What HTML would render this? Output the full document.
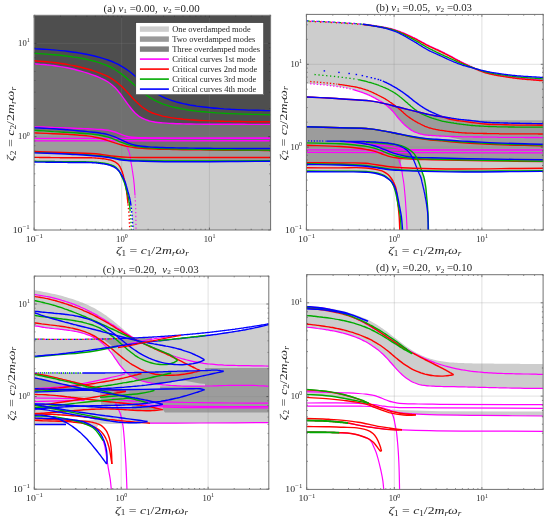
<!DOCTYPE html><html><head><meta charset="utf-8"><title>Critical damping curves</title>
<style>html,body{margin:0;padding:0;background:#fff}svg{display:block}text{font-family:'Liberation Serif','DejaVu Serif',serif;fill:#262626}</style></head><body>
<svg width="550" height="522" viewBox="0 0 550 522">
<rect width="550" height="522" fill="#fff"/>
<clipPath id="cpa"><rect x="34.1" y="15.3" width="236.5" height="214.7"/></clipPath>
<g clip-path="url(#cpa)">
<rect x="34.1" y="15.3" width="236.50000000000003" height="214.7" fill="#4e4e4e"/>
<path d="M33.1 63.7C35.4 63.8 37.6 64 39.9 64.2C42.2 64.3 44.5 64.5 46.7 64.8C49 65 51.3 65.3 53.5 65.5C55.8 65.8 58.1 66.2 60.4 66.6C62.6 66.9 64.9 67.3 67.2 67.8C69.5 68.3 71.7 68.8 74 69.3C76.3 69.9 78.5 70.5 80.8 71.1C83.1 71.7 85.4 72.4 87.6 73.1C89.9 73.9 92.2 74.6 94.4 75.5C96.7 76.3 99 77.2 101.2 78.3C103.6 79.4 105.9 80.6 108.1 82C110.5 83.6 112.8 85.5 114.9 87.5C117.4 89.9 119.5 92.8 121.7 95.6C124.1 98.7 126.1 102.1 128.5 105.1C130.7 107.9 132.7 110.8 135.3 113.2C137.4 115.1 139.6 116.9 142.1 118.2C144.3 119.3 146.6 120.2 148.9 120.8C151.2 121.5 153.5 121.8 155.8 122.2C158 122.6 160.3 122.7 162.6 122.9C164.8 123.1 167.1 123.3 169.4 123.4C171.7 123.5 173.9 123.6 176.2 123.7C178.5 123.8 180.7 123.8 183 123.9C185.3 123.9 187.6 124 189.8 124C192.1 124.1 194.4 124.1 196.6 124.1C198.9 124.1 201.2 124.2 203.5 124.2C205.7 124.2 208 124.2 210.3 124.2C212.5 124.2 214.8 124.3 217.1 124.3C219.4 124.3 221.6 124.3 223.9 124.3C226.2 124.3 228.4 124.3 230.7 124.3C233 124.3 235.3 124.3 237.5 124.3C239.8 124.3 242.1 124.3 244.3 124.3C246.6 124.3 248.9 124.4 251.2 124.4C253.4 124.4 255.7 124.4 258 124.4C260.2 124.4 262.5 124.4 264.8 124.4C267.1 124.4 269.3 124.4 271.6 124.4L271.6 231L33.1 231Z" fill="#707070" />
<path d="M33.1 130.3C35.4 130.4 37.6 130.6 39.9 130.7C42.2 130.8 44.5 131 46.7 131.1C49 131.3 51.3 131.4 53.5 131.6C55.8 131.7 58.1 131.8 60.4 132C62.6 132.1 64.9 132.3 67.2 132.4C69.4 132.6 71.7 132.7 74 132.8C76.3 133 78.5 133.1 80.8 133.3C83.1 133.5 85.3 133.6 87.6 133.8C89.9 134 92.2 134.2 94.4 134.5C96.7 134.8 99 135.1 101.2 135.5C103.5 136 105.8 136.5 108.1 137.2C110.4 137.9 112.6 138.7 114.9 139.6C117.2 140.5 119.4 141.6 121.7 142.4C123.9 143.3 126.2 144.2 128.5 144.8C130.7 145.5 133 146 135.3 146.4C137.6 146.8 139.8 147.1 142.1 147.3C144.4 147.6 146.7 147.7 148.9 147.9C151.2 148 153.5 148.1 155.8 148.2C158 148.3 160.3 148.4 162.6 148.5C164.8 148.6 167.1 148.6 169.4 148.7C171.7 148.8 173.9 148.8 176.2 148.9C178.5 149 180.7 149 183 149.1C185.3 149.1 187.6 149.2 189.8 149.2C192.1 149.3 194.4 149.3 196.6 149.3C198.9 149.4 201.2 149.4 203.5 149.5C205.7 149.5 208 149.5 210.3 149.6C212.5 149.6 214.8 149.6 217.1 149.7C219.4 149.7 221.6 149.7 223.9 149.8C226.2 149.8 228.4 149.8 230.7 149.8C233 149.9 235.3 149.9 237.5 149.9C239.8 149.9 242.1 150 244.3 150C246.6 150 248.9 150 251.2 150C253.4 150.1 255.7 150.1 258 150.1C260.2 150.1 262.5 150.1 264.8 150.1C267.1 150.2 269.3 150.2 271.6 150.2L271.6 231L33.1 231Z" fill="#9c9c9c" />
<path d="M33.1 152.8C45.4 153.3 57.7 153.5 70 154.2C80 154.8 90 155.2 100 156.4C104.8 157 109.7 157.6 114.5 158.5C116.9 159 119.3 159.6 121.8 160C124.2 160.4 126.7 160.5 129.1 160.7C133.9 161.1 138.8 161 143.6 161.2C186.2 162.5 228.9 161.3 271.6 161.3L271.6 231L33.1 231Z" fill="#cdcdcd" />
<path d="M33.1 162C45.4 162.2 57.7 162.2 70 162.5C80 162.7 90.1 162 100 163.4C102.4 163.7 104.9 164 107.3 164.6C109.8 165.3 112.3 166 114.5 167.3C116.1 168.3 117.6 169.5 118.9 170.9C120.1 172.2 120.9 173.8 121.8 175.3C122.9 177.2 123.9 179.1 124.7 181.1C125.9 183.9 126.6 186.9 127.4 189.8C128.4 193.2 129.4 196.6 130.1 200C131.1 204.9 131.5 210 132 215C132.5 220.3 132.8 225.7 133.2 231L33.1 231Z" fill="#fff" />
<line x1="121.7" y1="15.3" x2="121.7" y2="230" stroke="#808080" stroke-opacity="0.3" stroke-width="0.8"/>
<line x1="34.1" y1="136.7" x2="270.6" y2="136.7" stroke="#808080" stroke-opacity="0.3" stroke-width="0.8"/>
<line x1="209.4" y1="15.3" x2="209.4" y2="230" stroke="#808080" stroke-opacity="0.3" stroke-width="0.8"/>
<line x1="34.1" y1="43.4" x2="270.6" y2="43.4" stroke="#808080" stroke-opacity="0.3" stroke-width="0.8"/>
<path d="M126.9 146.9L127.2 147.6L127.5 148.3L127.9 149.1L128.2 149.8L128.5 150.5L128.8 151.2L129.1 152L129.3 152.7L129.5 153.5L129.7 154.2L129.8 154.9L129.9 155.7L130.1 156.4L130.2 157.1L130.3 157.8L130.4 158.6L130.5 159.3L130.6 160L130.8 160.8L130.9 161.5L131 162.2L131.1 162.9L131.2 163.6L131.4 164.4L131.5 165.1L131.6 165.8L131.8 166.6L131.9 167.3L132 168L132.1 168.7L132.2 169.5L132.3 170.2L132.4 170.9L132.6 171.6L132.7 172.4L132.8 173.1L132.9 173.8L133 174.6L133.1 175.3L133.2 176L133.3 176.7L133.4 177.5L133.5 178.2L133.6 178.9L133.7 179.7L133.8 180.4L133.8 181.1L133.9 181.8L134 182.6L134.1 183.3L134.1 184L134.2 184.7L134.3 185.4L134.3 186.2L134.4 186.9L134.4 187.6L134.5 188.3L134.5 189.1L134.6 189.8L134.7 190.5L134.7 191.3L134.8 192L134.8 192.7L134.9 193.4L134.9 194.2L135 194.9L135 195.6" fill="none" stroke="#ff00ff" stroke-width="1.1"/>
<path d="M135.1 196.4L135.1 197.1L135.2 197.8L135.2 198.5L135.3 199.3L135.3 200L135.3 200.7L135.4 201.4L135.4 202.1L135.4 202.8L135.5 203.5L135.5 204.2L135.5 204.9L135.6 205.6L135.6 206.3L135.6 207L135.6 207.7L135.7 208.4L135.7 209.2L135.7 209.9L135.7 210.6L135.7 211.3L135.7 212L135.8 212.7L135.8 213.4L135.8 214.1L135.8 214.8L135.8 215.5L135.8 216.2L135.8 216.9L135.8 217.6L135.9 218.3L135.9 219L135.9 219.7L135.9 220.4L135.9 221.1L135.9 221.8L135.9 222.6L135.9 223.3L135.9 224L136 224.7L136 225.4L136 226.1L136 226.8L136 227.5L136 228.2L136 228.9L136.1 229.6L136.1 230.3L136.1 231" fill="none" stroke="#ff00ff" stroke-width="1.1" stroke-dasharray="1.3 2.6"/>
<path d="M33.1 157.4L33.8 157.4L34.5 157.4L35.2 157.4L35.9 157.4L36.6 157.4L37.4 157.4L38.1 157.4L38.8 157.4L39.5 157.5L40.2 157.5L40.9 157.5L41.6 157.5L42.3 157.5L43 157.5L43.7 157.5L44.5 157.5L45.2 157.5L45.9 157.5L46.6 157.5L47.3 157.5L48 157.5L48.7 157.5L49.4 157.5L50.1 157.5L50.8 157.6L51.5 157.6L52.3 157.6L53 157.6L53.7 157.6L54.4 157.6L55.1 157.6L55.8 157.6L56.5 157.6L57.2 157.6L57.9 157.6L58.6 157.6L59.4 157.6L60.1 157.7L60.8 157.7L61.5 157.7L62.2 157.7L62.9 157.7L63.6 157.7L64.3 157.7L65 157.7L65.7 157.7L66.5 157.7L67.2 157.8L67.9 157.8L68.6 157.8L69.3 157.8L70 157.8L70.7 157.8L71.4 157.8L72.1 157.8L72.9 157.8L73.6 157.8L74.3 157.8L75 157.8L75.7 157.8L76.4 157.8L77.2 157.8L77.9 157.8L78.6 157.8L79.3 157.8L80 157.8L80.7 157.8L81.5 157.8L82.2 157.8L82.9 157.8L83.6 157.8L84.3 157.8L85 157.8L85.8 157.8L86.5 157.8L87.2 157.8L87.9 157.8L88.6 157.8L89.3 157.8L90 157.8L90.8 157.8L91.5 157.8L92.2 157.9L92.9 157.9L93.6 157.9L94.3 157.9L95 158L95.7 158L96.5 158.1L97.2 158.1L97.9 158.2L98.6 158.3L99.3 158.3L100 158.4L100.7 158.5L101.5 158.6L102.2 158.7L102.9 158.7L103.7 158.8L104.4 158.9L105.1 159L105.8 159.1L106.6 159.3L107.3 159.4L108 159.6L108.8 159.7L109.5 159.9L110.3 160L111 160.2L111.7 160.5L112.4 160.7L113.1 161L113.8 161.3L114.5 161.6L115.1 162L115.7 162.3L116.3 162.7L116.8 163.2L117.4 163.6L117.9 164.1L118.4 164.6L118.9 165.1L119.3 165.7L119.7 166.3L120.1 166.9L120.4 167.6L120.7 168.2L121 168.9L121.3 169.6L121.5 170.2L121.8 170.9L122.1 171.6L122.4 172.3L122.6 173.1L122.8 173.8L123.1 174.5L123.3 175.2L123.4 176L123.6 176.7L123.8 177.5L124 178.2L124.2 178.9L124.4 179.7L124.6 180.4L124.7 181.2L124.9 181.9L125.1 182.7L125.2 183.5L125.4 184.2L125.5 185L125.6 185.7L125.8 186.4L125.9 187.1L126 187.9L126.1 188.6L126.2 189.3L126.4 190L126.5 190.7L126.6 191.4L126.7 192.1L126.7 192.9L126.8 193.6L126.9 194.3L127 195L127.1 195.7L127.2 196.4L127.3 197.1L127.3 197.9L127.4 198.6L127.5 199.3L127.6 200L127.7 200.7L127.8 201.4L127.8 202.1L127.9 202.9L128 203.6" fill="none" stroke="#ff0000" stroke-width="1.4"/>
<path d="M128.1 204.3L128.1 205L128.2 205.7L128.3 206.4L128.3 207.1L128.4 207.9L128.5 208.6L128.5 209.3L128.6 210L128.7 210.7L128.7 211.4L128.8 212.1L128.8 212.9L128.9 213.6L128.9 214.3L129 215L129.1 215.7L129.1 216.4L129.1 217.2L129.2 217.9L129.2 218.6L129.3 219.4L129.3 220.1L129.3 220.8L129.4 221.5L129.4 222.3L129.4 223L129.5 223.7L129.5 224.5L129.5 225.2L129.6 225.9L129.6 226.6L129.6 227.4L129.7 228.1L129.7 228.8L129.7 229.6L129.8 230.3L129.8 231" fill="none" stroke="#ff0000" stroke-width="1.4" stroke-dasharray="1.4 2.2"/>
<path d="M33.1 161.3L33.8 161.3L34.5 161.3L35.2 161.3L35.9 161.3L36.6 161.4L37.4 161.4L38.1 161.4L38.8 161.4L39.5 161.4L40.2 161.4L40.9 161.4L41.6 161.4L42.3 161.4L43 161.4L43.7 161.4L44.5 161.4L45.2 161.4L45.9 161.5L46.6 161.5L47.3 161.5L48 161.5L48.7 161.5L49.4 161.5L50.1 161.5L50.8 161.5L51.5 161.5L52.3 161.5L53 161.5L53.7 161.5L54.4 161.5L55.1 161.6L55.8 161.6L56.5 161.6L57.2 161.6L57.9 161.6L58.6 161.6L59.4 161.6L60.1 161.6L60.8 161.6L61.5 161.6L62.2 161.6L62.9 161.7L63.6 161.7L64.3 161.7L65 161.7L65.7 161.7L66.5 161.7L67.2 161.7L67.9 161.8L68.6 161.8L69.3 161.8L70 161.8L70.7 161.8L71.4 161.8L72.1 161.8L72.9 161.8L73.6 161.8L74.3 161.8L75 161.8L75.7 161.8L76.4 161.8L77.2 161.8L77.9 161.8L78.6 161.8L79.3 161.8L80 161.8L80.7 161.8L81.5 161.8L82.2 161.8L82.9 161.8L83.6 161.8L84.3 161.8L85 161.8L85.8 161.8L86.5 161.9L87.2 161.9L87.9 161.9L88.6 161.9L89.3 161.9L90 161.9L90.8 162L91.5 162L92.2 162L92.9 162.1L93.6 162.1L94.3 162.1L95 162.2L95.7 162.3L96.5 162.3L97.2 162.4L97.9 162.4L98.6 162.5L99.3 162.6L100 162.7L100.7 162.8L101.5 162.9L102.2 163L102.9 163L103.7 163.1L104.4 163.2L105.1 163.4L105.8 163.5L106.6 163.6L107.3 163.8L108.1 164L108.8 164.2L109.6 164.4L110.3 164.6L111.1 164.8L111.8 165.1L112.5 165.3L113.2 165.6L113.9 166L114.5 166.4L115.1 166.9L115.8 167.3L116.4 167.9L116.9 168.5L117.5 169L118 169.7L118.5 170.3L118.9 170.9L119.3 171.5L119.6 172.1L120 172.7L120.3 173.4L120.6 174L120.9 174.7L121.2 175.3L121.5 175.9L121.8 176.6L122.1 177.2L122.4 177.8L122.7 178.5L123 179.1L123.3 179.8L123.5 180.4L123.8 181.1L124.1 181.8L124.3 182.5L124.6 183.2L124.8 184L125 184.7L125.2 185.4L125.4 186.1L125.6 186.9L125.8 187.6L126 188.3L126.2 189.1L126.4 189.8L126.6 190.5L126.8 191.3L127 192L127.2 192.7L127.4 193.4L127.5 194.2L127.7 194.9L127.9 195.6L128.1 196.4L128.2 197.1L128.4 197.8L128.5 198.5L128.7 199.3L128.8 200L128.9 200.7L129 201.4L129.2 202.1L129.3 202.8L129.4 203.5L129.5 204.2L129.6 205L129.6 205.7L129.7 206.4L129.8 207.1L129.9 207.8L129.9 208.5L130 209.3L130.1 210L130.1 210.7L130.2 211.4" fill="none" stroke="#00aa00" stroke-width="1.4"/>
<path d="M130.3 212.1L130.3 212.9L130.4 213.6L130.4 214.3L130.5 215L130.6 215.7L130.6 216.4L130.7 217.2L130.7 217.9L130.8 218.6L130.8 219.4L130.9 220.1L130.9 220.8L131 221.5L131 222.3L131 223L131.1 223.7L131.1 224.5L131.1 225.2L131.2 225.9L131.2 226.6L131.2 227.4L131.3 228.1L131.3 228.8L131.3 229.6L131.4 230.3L131.4 231" fill="none" stroke="#00aa00" stroke-width="1.4" stroke-dasharray="1.4 2.2" stroke-dashoffset="1.2"/>
<path d="M33.1 162L33.8 162L34.5 162L35.2 162L35.9 162L36.6 162.1L37.4 162.1L38.1 162.1L38.8 162.1L39.5 162.1L40.2 162.1L40.9 162.1L41.6 162.1L42.3 162.1L43 162.1L43.7 162.1L44.5 162.1L45.2 162.1L45.9 162.2L46.6 162.2L47.3 162.2L48 162.2L48.7 162.2L49.4 162.2L50.1 162.2L50.8 162.2L51.5 162.2L52.3 162.2L53 162.2L53.7 162.2L54.4 162.2L55.1 162.3L55.8 162.3L56.5 162.3L57.2 162.3L57.9 162.3L58.6 162.3L59.4 162.3L60.1 162.3L60.8 162.3L61.5 162.3L62.2 162.3L62.9 162.4L63.6 162.4L64.3 162.4L65 162.4L65.7 162.4L66.5 162.4L67.2 162.4L67.9 162.5L68.6 162.5L69.3 162.5L70 162.5L70.7 162.5L71.4 162.5L72.1 162.5L72.9 162.5L73.6 162.5L74.3 162.5L75 162.5L75.7 162.5L76.4 162.5L77.2 162.5L77.9 162.5L78.6 162.5L79.3 162.5L80 162.5L80.7 162.5L81.5 162.5L82.2 162.5L82.9 162.5L83.6 162.5L84.3 162.5L85 162.5L85.8 162.5L86.5 162.5L87.2 162.5L87.9 162.5L88.6 162.5L89.3 162.6L90 162.6L90.8 162.6L91.5 162.6L92.2 162.7L92.9 162.7L93.6 162.8L94.3 162.8L95 162.9L95.7 162.9L96.5 163L97.2 163.1L97.9 163.1L98.6 163.2L99.3 163.3L100 163.4L100.7 163.5L101.5 163.6L102.2 163.7L102.9 163.8L103.7 163.9L104.4 164L105.1 164.1L105.8 164.3L106.6 164.4L107.3 164.6L108 164.8L108.8 165L109.5 165.2L110.3 165.5L111 165.7L111.7 166L112.4 166.3L113.1 166.6L113.8 166.9L114.5 167.3L115.1 167.7L115.7 168.1L116.3 168.5L116.8 169L117.4 169.4L117.9 169.9L118.4 170.4L118.9 170.9L119.4 171.5L119.8 172.1L120.3 172.7L120.7 173.3L121 174L121.4 174.7L121.8 175.3L122.2 175.9L122.5 176.6L122.9 177.2L123.2 177.8L123.5 178.5L123.8 179.1L124.1 179.8L124.4 180.4L124.7 181.1L125 181.7L125.2 182.4L125.5 183.1L125.7 183.7L125.9 184.4L126.1 185.1L126.3 185.8L126.5 186.4L126.7 187.1L126.9 187.8L127 188.5L127.2 189.1L127.4 189.8L127.6 190.5L127.8 191.2L128 191.8L128.2 192.5L128.4 193.2L128.6 193.9L128.8 194.6L129 195.2L129.1 195.9L129.3 196.6L129.5 197.3L129.6 198L129.8 198.6L130 199.3L130.1 200L130.2 200.7L130.4 201.4L130.5 202.1L130.6 202.8L130.7 203.5L130.8 204.2L130.9 205L131 205.7" fill="none" stroke="#0000ff" stroke-width="1.4"/>
<path d="M131.1 206.4L131.2 207.1L131.3 207.8L131.4 208.5L131.4 209.3L131.5 210L131.6 210.7L131.7 211.4L131.7 212.1L131.8 212.9L131.9 213.6L131.9 214.3L132 215L132.1 215.7L132.1 216.4L132.2 217.2L132.3 217.9L132.3 218.6L132.4 219.4L132.4 220.1L132.5 220.8L132.5 221.5L132.6 222.3L132.6 223L132.7 223.7L132.7 224.5L132.8 225.2L132.8 225.9L132.9 226.6L132.9 227.4L133 228.1L133 228.8L133.1 229.6L133.1 230.3L133.2 231" fill="none" stroke="#0000ff" stroke-width="1.4" stroke-dasharray="1.4 2.2" stroke-dashoffset="2.4"/>
<path d="M33.1 138.4L271.6 138.3" fill="none" stroke="#ff00ff" stroke-width="1.4" />
<path d="M33.1 140.9L271.6 140.7" fill="none" stroke="#ff00ff" stroke-width="1.4" />
<path d="M33.1 126.8C35.4 126.9 37.6 126.9 39.9 127C42.2 127 44.5 127.1 46.7 127.1C49 127.2 51.3 127.3 53.5 127.4C55.8 127.4 58.1 127.5 60.4 127.6C62.6 127.7 64.9 127.8 67.2 127.9C69.4 128 71.7 128.1 74 128.2C76.3 128.3 78.5 128.4 80.8 128.5C83.1 128.6 85.3 128.7 87.6 128.8C89.9 128.9 92.2 129 94.4 129.1C96.7 129.3 99 129.4 101.2 129.5C103.5 129.7 105.8 129.9 108.1 130.3C110.4 130.7 112.6 131.3 114.9 132C117.2 132.7 119.4 133.9 121.7 134.7C123.9 135.5 126.2 136.2 128.5 136.7C130.7 137.1 133 137.3 135.3 137.4C137.6 137.6 139.9 137.7 142.1 137.7C144.4 137.8 146.7 137.8 148.9 137.9C151.2 137.9 153.5 137.9 155.8 138C158 138 160.3 138 162.6 138C164.8 138.1 167.1 138.1 169.4 138.1C171.7 138.1 173.9 138.1 176.2 138.1C178.5 138.1 180.7 138.1 183 138.2C185.3 138.2 187.6 138.2 189.8 138.2C192.1 138.2 194.4 138.2 196.6 138.2C198.9 138.2 201.2 138.2 203.5 138.2C205.7 138.2 208 138.2 210.3 138.2C212.5 138.2 214.8 138.2 217.1 138.2C219.4 138.2 221.6 138.2 223.9 138.2C226.2 138.3 228.4 138.3 230.7 138.3C233 138.3 235.3 138.3 237.5 138.3C239.8 138.3 242.1 138.3 244.3 138.3C246.6 138.3 248.9 138.3 251.2 138.3C253.4 138.3 255.7 138.3 258 138.3C260.2 138.3 262.5 138.3 264.8 138.3C267.1 138.3 269.3 138.3 271.6 138.3" fill="none" stroke="#ff00ff" stroke-width="1.4" />
<path d="M33.1 132.8C35.4 132.9 37.6 133 39.9 133.1C42.2 133.2 44.5 133.3 46.7 133.4C49 133.5 51.3 133.6 53.5 133.7C55.8 133.8 58.1 133.9 60.4 134C62.6 134.1 64.9 134.2 67.2 134.3C69.4 134.5 71.7 134.6 74 134.7C76.3 134.9 78.5 135 80.8 135.2C83.1 135.4 85.3 135.6 87.6 135.9C89.9 136.2 92.2 136.5 94.4 137C96.7 137.4 99 137.9 101.2 138.5C103.5 139.1 105.8 139.8 108.1 140.6C110.3 141.3 112.6 142.1 114.9 142.9C117.1 143.6 119.4 144.4 121.7 145C123.9 145.6 126.2 146.2 128.5 146.6C130.8 147.1 133 147.4 135.3 147.7C137.6 148 139.9 148.2 142.1 148.4C144.4 148.6 146.7 148.7 148.9 148.8C151.2 148.9 153.5 149 155.8 149.1C158 149.2 160.3 149.2 162.6 149.3C164.8 149.3 167.1 149.4 169.4 149.4C171.7 149.5 173.9 149.5 176.2 149.6C178.5 149.6 180.7 149.6 183 149.7C185.3 149.7 187.6 149.7 189.8 149.8C192.1 149.8 194.4 149.8 196.6 149.9C198.9 149.9 201.2 149.9 203.5 149.9C205.7 150 208 150 210.3 150C212.5 150 214.8 150.1 217.1 150.1C219.4 150.1 221.6 150.1 223.9 150.2C226.2 150.2 228.4 150.2 230.7 150.2C233 150.2 235.3 150.3 237.5 150.3C239.8 150.3 242.1 150.3 244.3 150.3C246.6 150.4 248.9 150.4 251.2 150.4C253.4 150.4 255.7 150.4 258 150.4C260.2 150.5 262.5 150.5 264.8 150.5C267.1 150.5 269.3 150.5 271.6 150.5" fill="none" stroke="#ff0000" stroke-width="1.4" />
<path d="M33.1 130.3C35.4 130.4 37.6 130.6 39.9 130.7C42.2 130.8 44.5 131 46.7 131.1C49 131.3 51.3 131.4 53.5 131.6C55.8 131.7 58.1 131.8 60.4 132C62.6 132.1 64.9 132.3 67.2 132.4C69.4 132.6 71.7 132.7 74 132.8C76.3 133 78.5 133.1 80.8 133.3C83.1 133.5 85.3 133.6 87.6 133.8C89.9 134 92.2 134.2 94.4 134.5C96.7 134.8 99 135.1 101.2 135.5C103.5 136 105.8 136.5 108.1 137.2C110.4 137.9 112.6 138.7 114.9 139.6C117.2 140.5 119.4 141.6 121.7 142.4C123.9 143.3 126.2 144.2 128.5 144.8C130.7 145.5 133 146 135.3 146.4C137.6 146.8 139.8 147.1 142.1 147.3C144.4 147.6 146.7 147.7 148.9 147.9C151.2 148 153.5 148.1 155.8 148.2C158 148.3 160.3 148.4 162.6 148.5C164.8 148.6 167.1 148.6 169.4 148.7C171.7 148.8 173.9 148.8 176.2 148.9C178.5 149 180.7 149 183 149.1C185.3 149.1 187.6 149.2 189.8 149.2C192.1 149.3 194.4 149.3 196.6 149.3C198.9 149.4 201.2 149.4 203.5 149.5C205.7 149.5 208 149.5 210.3 149.6C212.5 149.6 214.8 149.6 217.1 149.7C219.4 149.7 221.6 149.7 223.9 149.8C226.2 149.8 228.4 149.8 230.7 149.8C233 149.9 235.3 149.9 237.5 149.9C239.8 149.9 242.1 150 244.3 150C246.6 150 248.9 150 251.2 150C253.4 150.1 255.7 150.1 258 150.1C260.2 150.1 262.5 150.1 264.8 150.1C267.1 150.2 269.3 150.2 271.6 150.2" fill="none" stroke="#00aa00" stroke-width="1.4" />
<path d="M33.1 127.7C35.4 127.8 37.6 127.9 39.9 128C42.2 128.1 44.5 128.3 46.7 128.4C49 128.5 51.3 128.7 53.5 128.8C55.8 129 58.1 129.1 60.4 129.3C62.6 129.5 64.9 129.6 67.2 129.8C69.4 130 71.7 130.2 74 130.4C76.3 130.6 78.5 130.8 80.8 131C83.1 131.2 85.3 131.4 87.6 131.6C89.9 131.8 92.2 132.1 94.4 132.3C96.7 132.6 99 132.9 101.2 133.3C103.5 133.6 105.8 134 108.1 134.6C110.4 135.2 112.6 136 114.9 136.9C117.2 137.8 119.4 139 121.7 140.1C124 141.1 126.2 142.3 128.5 143.2C130.7 144 133 144.7 135.3 145.2C137.6 145.7 139.8 146 142.1 146.3C144.4 146.6 146.7 146.8 148.9 146.9C151.2 147.1 153.5 147.2 155.8 147.3C158 147.4 160.3 147.5 162.6 147.5C164.8 147.6 167.1 147.7 169.4 147.7C171.7 147.8 173.9 147.8 176.2 147.9C178.5 147.9 180.7 148 183 148C185.3 148 187.6 148.1 189.8 148.1C192.1 148.1 194.4 148.2 196.6 148.2C198.9 148.2 201.2 148.2 203.5 148.3C205.7 148.3 208 148.3 210.3 148.3C212.5 148.3 214.8 148.4 217.1 148.4C219.4 148.4 221.6 148.4 223.9 148.4C226.2 148.4 228.4 148.4 230.7 148.4C233 148.4 235.3 148.4 237.5 148.5C239.8 148.5 242.1 148.5 244.3 148.5C246.6 148.5 248.9 148.5 251.2 148.5C253.4 148.5 255.7 148.5 258 148.5C260.2 148.5 262.5 148.5 264.8 148.5C267.1 148.5 269.3 148.5 271.6 148.5" fill="none" stroke="#0000ff" stroke-width="1.4" />
<path d="M33.1 152.1C45.4 152.6 57.7 152.8 70 153.5C80 154.1 90 154.5 100 155.7C104.8 156.3 109.7 156.9 114.5 157.8C116.9 158.3 119.3 158.9 121.8 159.3C124.2 159.7 126.7 159.8 129.1 160C133.9 160.4 138.8 160.3 143.6 160.5C186.2 161.8 228.9 160.6 271.6 160.6" fill="none" stroke="#00aa00" stroke-width="1.4" />
<path d="M33.1 151.5C45.4 151.9 57.7 152.2 70 152.7C80 153.1 90.1 153.1 100 154.2C104.9 154.8 109.6 155.8 114.5 156.3C119.4 156.8 124.2 157.2 129.1 157.4C136.1 157.7 143 157.5 150 157.5C190.5 157.7 231.1 157.5 271.6 157.5" fill="none" stroke="#ff0000" stroke-width="1.4" />
<path d="M33.1 152.8C45.4 153.3 57.7 153.5 70 154.2C80 154.8 90 155.2 100 156.4C104.8 157 109.7 157.6 114.5 158.5C116.9 159 119.3 159.6 121.8 160C124.2 160.4 126.7 160.5 129.1 160.7C133.9 161.1 138.8 161 143.6 161.2C186.2 162.5 228.9 161.3 271.6 161.3" fill="none" stroke="#0000ff" stroke-width="1.4" />
<path d="M33.1 63.7C35.4 63.8 37.6 64 39.9 64.2C42.2 64.3 44.5 64.5 46.7 64.8C49 65 51.3 65.3 53.5 65.5C55.8 65.8 58.1 66.2 60.4 66.6C62.6 66.9 64.9 67.3 67.2 67.8C69.5 68.3 71.7 68.8 74 69.3C76.3 69.9 78.5 70.5 80.8 71.1C83.1 71.7 85.4 72.4 87.6 73.1C89.9 73.9 92.2 74.6 94.4 75.5C96.7 76.3 99 77.2 101.2 78.3C103.6 79.4 105.9 80.6 108.1 82C110.5 83.6 112.8 85.5 114.9 87.5C117.4 89.9 119.5 92.8 121.7 95.6C124.1 98.7 126.1 102.1 128.5 105.1C130.7 107.9 132.7 110.8 135.3 113.2C137.4 115.1 139.6 116.9 142.1 118.2C144.3 119.3 146.6 120.2 148.9 120.8C151.2 121.5 153.5 121.8 155.8 122.2C158 122.6 160.3 122.7 162.6 122.9C164.8 123.1 167.1 123.3 169.4 123.4C171.7 123.5 173.9 123.6 176.2 123.7C178.5 123.8 180.7 123.8 183 123.9C185.3 123.9 187.6 124 189.8 124C192.1 124.1 194.4 124.1 196.6 124.1C198.9 124.1 201.2 124.2 203.5 124.2C205.7 124.2 208 124.2 210.3 124.2C212.5 124.2 214.8 124.3 217.1 124.3C219.4 124.3 221.6 124.3 223.9 124.3C226.2 124.3 228.4 124.3 230.7 124.3C233 124.3 235.3 124.3 237.5 124.3C239.8 124.3 242.1 124.3 244.3 124.3C246.6 124.3 248.9 124.4 251.2 124.4C253.4 124.4 255.7 124.4 258 124.4C260.2 124.4 262.5 124.4 264.8 124.4C267.1 124.4 269.3 124.4 271.6 124.4" fill="none" stroke="#ff00ff" stroke-width="1.4" />
<path d="M33.1 60.7C35.4 60.9 37.6 61 39.9 61.2C42.2 61.4 44.5 61.6 46.7 61.8C49 62 51.3 62.2 53.5 62.5C55.8 62.8 58.1 63 60.4 63.4C62.6 63.7 64.9 64 67.2 64.4C69.4 64.8 71.7 65.2 74 65.7C76.3 66.2 78.5 66.7 80.8 67.2C83.1 67.8 85.4 68.4 87.6 69C89.9 69.6 92.2 70.3 94.4 71.1C96.7 71.9 99 72.7 101.2 73.6C103.6 74.5 105.8 75.6 108.1 76.7C110.4 78 112.7 79.3 114.9 80.9C117.3 82.5 119.5 84.5 121.7 86.5C124.1 88.7 126.3 91.1 128.5 93.5C130.8 95.9 132.9 98.5 135.3 100.8C137.5 103 139.7 105.1 142.1 107C144.3 108.6 146.6 110.1 148.9 111.3C151.1 112.4 153.4 113.4 155.8 114.2C158 114.9 160.3 115.5 162.6 116.1C164.8 116.6 167.1 117 169.4 117.4C171.6 117.8 173.9 118.1 176.2 118.4C178.5 118.7 180.7 118.9 183 119.2C185.3 119.4 187.6 119.6 189.8 119.8C192.1 119.9 194.4 120.1 196.6 120.2C198.9 120.4 201.2 120.5 203.5 120.6C205.7 120.7 208 120.8 210.3 120.9C212.5 120.9 214.8 121 217.1 121.1C219.4 121.2 221.6 121.2 223.9 121.3C226.2 121.3 228.4 121.4 230.7 121.4C233 121.4 235.3 121.5 237.5 121.5C239.8 121.5 242.1 121.6 244.3 121.6C246.6 121.6 248.9 121.6 251.2 121.7C253.4 121.7 255.7 121.7 258 121.7C260.2 121.7 262.5 121.7 264.8 121.8C267.1 121.8 269.3 121.8 271.6 121.8" fill="none" stroke="#ff0000" stroke-width="1.4" />
<path d="M33.1 53.3C35.4 53.4 37.6 53.5 39.9 53.6C42.2 53.8 44.5 53.9 46.7 54.1C49 54.3 51.3 54.5 53.5 54.7C55.8 54.9 58.1 55.1 60.4 55.3C62.6 55.6 64.9 55.8 67.2 56.1C69.4 56.4 71.7 56.7 74 57.1C76.3 57.4 78.5 57.8 80.8 58.2C83.1 58.6 85.4 59.1 87.6 59.6C89.9 60.1 92.2 60.6 94.4 61.2C96.7 61.9 99 62.5 101.2 63.3C103.5 64.1 105.8 65 108.1 66C110.4 67 112.7 68.2 114.9 69.5C117.2 70.9 119.5 72.4 121.7 74.1C124 75.8 126.3 77.7 128.5 79.7C130.8 81.7 133 83.8 135.3 85.8C137.6 87.9 139.8 89.9 142.1 91.8C144.3 93.6 146.6 95.4 148.9 96.9C151.1 98.4 153.4 99.7 155.8 100.9C158 102 160.3 103 162.6 103.9C164.8 104.7 167.1 105.4 169.4 106.1C171.6 106.7 173.9 107.3 176.2 107.8C178.5 108.3 180.7 108.7 183 109.1C185.3 109.5 187.6 109.9 189.8 110.2C192.1 110.5 194.4 110.8 196.6 111.1C198.9 111.3 201.2 111.6 203.5 111.8C205.7 112 208 112.2 210.3 112.4C212.5 112.6 214.8 112.7 217.1 112.9C219.4 113 221.6 113.1 223.9 113.3C226.2 113.4 228.4 113.5 230.7 113.6C233 113.7 235.3 113.8 237.5 113.9C239.8 114 242.1 114 244.3 114.1C246.6 114.2 248.9 114.2 251.2 114.3C253.4 114.3 255.7 114.4 258 114.4C260.2 114.5 262.5 114.5 264.8 114.6C267.1 114.6 269.3 114.6 271.6 114.7" fill="none" stroke="#00aa00" stroke-width="1.4" />
<path d="M33.1 48.6C35.4 48.8 37.6 48.9 39.9 49C42.2 49.1 44.5 49.3 46.7 49.4C49 49.6 51.3 49.7 53.5 49.9C55.8 50.1 58.1 50.3 60.4 50.6C62.6 50.8 64.9 51 67.2 51.3C69.4 51.6 71.7 51.9 74 52.2C76.3 52.5 78.5 52.9 80.8 53.3C83.1 53.7 85.4 54.1 87.6 54.5C89.9 55 92.2 55.5 94.4 56C96.7 56.6 99 57.2 101.2 57.8C103.5 58.5 105.8 59.2 108.1 60C110.4 60.9 112.6 61.7 114.9 62.8C117.2 63.8 119.5 65 121.7 66.3C124 67.6 126.3 69.1 128.5 70.7C130.9 72.4 133.1 74.3 135.3 76.2C137.6 78.2 139.8 80.3 142.1 82.3C144.4 84.2 146.6 86.2 148.9 88.1C151.1 89.8 153.4 91.5 155.8 93C158 94.4 160.2 95.7 162.6 96.8C164.8 97.9 167.1 98.8 169.4 99.7C171.6 100.5 173.9 101.2 176.2 101.9C178.5 102.5 180.7 103.1 183 103.6C185.3 104.1 187.5 104.5 189.8 105C192.1 105.4 194.4 105.7 196.6 106.1C198.9 106.4 201.2 106.7 203.5 107C205.7 107.3 208 107.5 210.3 107.7C212.5 108 214.8 108.2 217.1 108.3C219.4 108.5 221.6 108.7 223.9 108.9C226.2 109 228.4 109.1 230.7 109.3C233 109.4 235.3 109.5 237.5 109.6C239.8 109.7 242.1 109.8 244.3 109.9C246.6 110 248.9 110.1 251.2 110.1C253.4 110.2 255.7 110.2 258 110.3C260.2 110.4 262.5 110.4 264.8 110.5C267.1 110.5 269.3 110.5 271.6 110.6" fill="none" stroke="#0000ff" stroke-width="1.4" />
</g>
<path d="M34.1 230v-2.4M34.1 15.3v2.4M34.1 230h2.4M270.6 230h-2.4M60.5 230v-1.2M60.5 15.3v1.2M34.1 201.9h1.2M270.6 201.9h-1.2M75.9 230v-1.2M75.9 15.3v1.2M34.1 185.5h1.2M270.6 185.5h-1.2M86.9 230v-1.2M86.9 15.3v1.2M34.1 173.8h1.2M270.6 173.8h-1.2M95.3 230v-1.2M95.3 15.3v1.2M34.1 164.8h1.2M270.6 164.8h-1.2M102.3 230v-1.2M102.3 15.3v1.2M34.1 157.4h1.2M270.6 157.4h-1.2M108.2 230v-1.2M108.2 15.3v1.2M34.1 151.1h1.2M270.6 151.1h-1.2M113.2 230v-1.2M113.2 15.3v1.2M34.1 145.7h1.2M270.6 145.7h-1.2M117.7 230v-1.2M117.7 15.3v1.2M34.1 141h1.2M270.6 141h-1.2M121.7 230v-2.4M121.7 15.3v2.4M34.1 136.7h2.4M270.6 136.7h-2.4M148.1 230v-1.2M148.1 15.3v1.2M34.1 108.6h1.2M270.6 108.6h-1.2M163.5 230v-1.2M163.5 15.3v1.2M34.1 92.2h1.2M270.6 92.2h-1.2M174.5 230v-1.2M174.5 15.3v1.2M34.1 80.5h1.2M270.6 80.5h-1.2M183 230v-1.2M183 15.3v1.2M34.1 71.5h1.2M270.6 71.5h-1.2M189.9 230v-1.2M189.9 15.3v1.2M34.1 64.1h1.2M270.6 64.1h-1.2M195.8 230v-1.2M195.8 15.3v1.2M34.1 57.8h1.2M270.6 57.8h-1.2M200.9 230v-1.2M200.9 15.3v1.2M34.1 52.4h1.2M270.6 52.4h-1.2M205.3 230v-1.2M205.3 15.3v1.2M34.1 47.7h1.2M270.6 47.7h-1.2M209.4 230v-2.4M209.4 15.3v2.4M34.1 43.4h2.4M270.6 43.4h-2.4M235.7 230v-1.2M235.7 15.3v1.2M34.1 15.3h1.2M270.6 15.3h-1.2M251.2 230v-1.2M251.2 15.3v1.2M262.1 230v-1.2M262.1 15.3v1.2M270.6 230v-1.2M270.6 15.3v1.2" stroke="#262626" stroke-width="0.6" fill="none"/>
<rect x="34.1" y="15.3" width="236.5" height="214.7" fill="none" stroke="#727272" stroke-width="1"/>
<text x="25.8" y="241.8" font-size="8.8" textLength="17.0" lengthAdjust="spacingAndGlyphs">10<tspan dy="-3.6" font-size="6.1">−1</tspan></text>
<text x="12.7" y="232.5" font-size="8.8" textLength="17.0" lengthAdjust="spacingAndGlyphs">10<tspan dy="-3.6" font-size="6.1">−1</tspan></text>
<text x="116.1" y="241.8" font-size="8.8" textLength="11.6" lengthAdjust="spacingAndGlyphs">10<tspan dy="-3.6" font-size="6.1">0</tspan></text>
<text x="18.1" y="139.2" font-size="8.8" textLength="11.6" lengthAdjust="spacingAndGlyphs">10<tspan dy="-3.6" font-size="6.1">0</tspan></text>
<text x="203.8" y="241.8" font-size="8.8" textLength="11.6" lengthAdjust="spacingAndGlyphs">10<tspan dy="-3.6" font-size="6.1">1</tspan></text>
<text x="18.1" y="45.9" font-size="8.8" textLength="11.6" lengthAdjust="spacingAndGlyphs">10<tspan dy="-3.6" font-size="6.1">1</tspan></text>
<text x="151.6" y="11.7" font-size="9.3" text-anchor="middle" textLength="96" lengthAdjust="spacingAndGlyphs" xml:space="preserve">(a) <tspan font-style="italic">ν</tspan><tspan dy="1.6" font-size="6.2">1</tspan><tspan dy="-1.6"> =0.00,  </tspan><tspan font-style="italic">ν</tspan><tspan dy="1.6" font-size="6.2">2</tspan><tspan dy="-1.6"> =0.00</tspan></text>
<text x="152.4" y="254.3" font-size="10.8" text-anchor="middle" textLength="73" lengthAdjust="spacingAndGlyphs"><tspan font-style="italic">ζ</tspan><tspan dy="1.8" font-size="7.2">1</tspan><tspan dy="-1.8"> = </tspan><tspan font-style="italic">c</tspan><tspan dy="1.8" font-size="7.2">1</tspan><tspan dy="-1.8">/2</tspan><tspan font-style="italic">m</tspan><tspan dy="1.8" font-size="7.2" font-style="italic">r</tspan><tspan dy="-1.8" font-style="italic">ω</tspan><tspan dy="1.8" font-size="7.2" font-style="italic">r</tspan></text>
<text transform="translate(14.3 123.9) rotate(-90)" font-size="10.8" text-anchor="middle" textLength="74" lengthAdjust="spacingAndGlyphs"><tspan font-style="italic">ζ</tspan><tspan dy="1.8" font-size="7.2">2</tspan><tspan dy="-1.8"> = </tspan><tspan font-style="italic">c</tspan><tspan dy="1.8" font-size="7.2">2</tspan><tspan dy="-1.8">/2</tspan><tspan font-style="italic">m</tspan><tspan dy="1.8" font-size="7.2" font-style="italic">r</tspan><tspan dy="-1.8" font-style="italic">ω</tspan><tspan dy="1.8" font-size="7.2" font-style="italic">r</tspan></text>
<clipPath id="cpb"><rect x="306.4" y="14.4" width="236.8" height="215.6"/></clipPath>
<g clip-path="url(#cpb)">
<path d="M305.4 20.8L306.9 20.9L308.4 21L309.9 21L311.4 21.1L312.9 21.2L314.4 21.2L315.9 21.3L317.4 21.4L318.9 21.4L320.4 21.5L321.9 21.5L323.5 21.6L325 21.7L326.5 21.7L328 21.8L329.5 21.9L331 22L332.5 22L334 22.1L335.5 22.2L337 22.3L338.5 22.4L340 22.5L341.5 22.6L343 22.7L344.5 22.8L346 22.9L347.5 23L349 23.1L350.5 23.2L352 23.3L353.5 23.4L355 23.5L356.5 23.6L358 23.7L359.5 23.8L361 24L362.5 24.1L364 24.3L365.5 24.4L367 24.6L368.5 24.8L370 25L371.5 25.2L373.1 25.4L374.6 25.7L376.1 25.9L377.7 26.1L379.2 26.4L380.7 26.6L382.3 26.8L383.8 27.1L385.3 27.4L386.8 27.7L388.3 28L389.8 28.4L391.3 28.8L392.8 29.2L394.3 29.6L395.8 30.1L397.4 30.6L398.9 31.1L400.4 31.7L401.9 32.3L403.4 32.9L404.8 33.5L406.3 34.2L407.8 34.9L409.2 35.5L410.7 36.2L412.1 36.9L413.6 37.6L415.1 38.3L416.5 39L417.9 39.8L419.4 40.6L420.8 41.4L422.2 42.2L423.7 42.9L425.1 43.7L426.5 44.5L428 45.2L429.5 45.9L431 46.7L432.5 47.3L434 48L435.5 48.7L437 49.4L438.5 50.1L440 50.8L441.5 51.5L442.9 52.2L444.3 52.9L445.7 53.6L447.2 54.3L448.6 55.1L450 55.8L451.3 56.5L452.7 57.2L454 57.9L455.3 58.7L456.6 59.4L458 60.1L459.3 60.8L460.6 61.5L462 62.2L463.5 62.9L465 63.7L466.5 64.4L468 65.1L469.5 65.8L471 66.4L472.5 67.1L474 67.8L475.5 68.5L477 69.1L478.5 69.8L480.1 70.4L481.6 71L483 71.5L484.5 72L486 72.4L487.4 72.9L488.9 73.3L490.4 73.6L491.9 74L493.4 74.3L494.9 74.6L496.4 74.9L497.9 75.1L499.4 75.4L500.9 75.6L502.4 75.8L503.9 76.1L505.4 76.3L507 76.5L508.5 76.8L510 77L511.5 77.2L513.1 77.5L514.6 77.7L516.2 77.9L517.7 78L519.3 78.2L520.8 78.4L522.4 78.5L523.9 78.7L525.5 78.8L527.1 79L528.6 79.1L530.2 79.2L531.7 79.3L533.3 79.5L534.9 79.6L536.4 79.7L538 79.8L539.5 80L541.1 80.1L542.6 80.3L544.2 80.4L544.2 171.4L544.2 171.4L542.7 171.4L541.2 171.4L539.7 171.4L538.2 171.4L536.7 171.4L535.2 171.4L533.7 171.4L532.2 171.4L530.7 171.4L529.2 171.4L527.7 171.4L526.2 171.4L524.7 171.5L523.2 171.5L521.7 171.5L520.2 171.5L518.7 171.5L517.2 171.5L515.7 171.5L514.2 171.6L512.7 171.6L511.2 171.6L509.7 171.6L508.2 171.6L506.7 171.6L505.2 171.6L503.7 171.7L502.2 171.7L500.7 171.7L499.2 171.7L497.7 171.7L496.2 171.8L494.7 171.8L493.2 171.8L491.7 171.8L490.2 171.8L488.7 171.8L487.2 171.8L485.7 171.9L484.2 171.9L482.7 171.9L481.2 171.9L479.7 171.9L478.1 171.9L476.6 171.9L475.1 172L473.6 172L472.1 172L470.6 172L469.1 172L467.6 172L466.1 172L464.6 172L463.1 172L461.6 172L460.1 172L458.6 172L457.1 172L455.6 172L454.1 172L452.6 172L451.1 172L449.6 172L448.1 172L446.6 171.9L445.1 171.9L443.6 171.9L442.1 171.9L440.6 171.9L439.1 171.8L437.6 171.8L436.1 171.8L434.6 171.8L433.1 171.7L431.6 171.7L430.1 171.7L428.6 171.6L427.1 171.6L425.6 171.5L424.1 171.5L422.6 171.4L421.1 171.4L419.6 171.3L418.1 171.3L416.6 171.2L415.1 171.2L413.6 171.1L412 171L410.4 171L408.8 170.9L407.2 170.8L405.5 170.7L403.9 170.7L402.3 170.6L400.7 170.5L399.1 170.4L397.6 170.3L396.1 170.2L394.6 170.1L393 170L391.5 169.9L390 169.8L388.2 169.6L386.3 169.3L384.5 169L382.9 168.8L381.2 168.5L379.6 168.2L378 168L376.5 167.8L375 167.5L373.5 167.3L372 167.1L370.5 166.8L369 166.6L367.5 166.4L366 166.2L364.5 166L363 165.9L361.4 165.8L359.9 165.7L358.4 165.6L356.9 165.5L355.3 165.4L353.8 165.4L352.3 165.3L350.7 165.3L349.2 165.2L347.7 165.2L346.1 165.2L344.6 165.1L343.1 165.1L341.5 165L340 165L338.5 165L337 164.9L335.5 164.9L334 164.8L332.5 164.8L331 164.8L329.5 164.8L328 164.7L326.5 164.7L325 164.7L323.5 164.7L321.9 164.7L320.4 164.7L318.9 164.6L317.4 164.6L315.9 164.6L314.4 164.6L312.9 164.6L311.4 164.6L309.9 164.6L308.4 164.5L306.9 164.5L305.4 164.5Z" fill="#cdcdcd"/>
<path d="M305.4 20.8L306.9 20.9L308.4 21L309.9 21L311.4 21.1L312.9 21.2L314.4 21.2L315.9 21.3L317.4 21.4L318.9 21.4L320.4 21.5L321.9 21.6L323.5 21.7L325 21.7L326.5 21.8L328 21.9L329.5 22L331 22L332.5 22.1L334 22.2L335.5 22.3L337 22.4L338.5 22.5L340 22.6L341.5 22.7L343 22.8L344.5 22.9L346 23L347.5 23.1L349 23.2L350.5 23.3L352 23.4L353.5 23.5L355 23.6L356.5 23.7L358 23.8L359.5 24L361 24.1L362.5 24.3L364 24.4L365.5 24.6L367 24.8L368.5 25.1L370 25.3L371.5 25.6L373.1 25.8L374.6 26.1L376.2 26.4L377.7 26.7L379.2 27L380.8 27.3L382.3 27.6L383.8 27.9L385.3 28.3L386.9 28.7L388.4 29.1L389.9 29.6L391.4 30L392.8 30.6L394.3 31.1L395.7 31.7L397.2 32.3L398.6 32.9L400 33.6L401.4 34.3L402.8 35.1L404.1 35.8L405.5 36.6L406.9 37.4L408.2 38.2L409.6 38.9L410.9 39.7L412.3 40.5L413.6 41.3L414.9 42.1L416.2 42.9L417.5 43.7L418.8 44.5L420.1 45.3L421.4 46.1L422.7 46.9L424 47.7L425.3 48.5L426.6 49.3L428 50L429.5 50.8L431 51.5L432.5 52.2L434 52.9L435.5 53.5L437 54.2L438.5 54.9L440 55.6L441.4 56.2L442.8 56.9L444.3 57.6L445.7 58.2L447.1 58.9L448.5 59.6L450 60.2L451.5 60.8L453 61.5L454.5 62.1L456 62.7L457.5 63.3L459 63.9L460.5 64.5L462 65L463.5 65.5L465 65.9L466.5 66.3L468 66.7L469.5 67.1L471 67.5L472.5 67.9L474 68.3L475.5 68.7L477 69.1L478.6 69.5L480.1 69.9L481.6 70.3L483.1 70.7L484.5 71L486 71.3L487.5 71.6L489 71.9L490.5 72.2L492 72.4L493.5 72.7L495 72.9L496.5 73.2L498 73.4L499.5 73.6L501 73.8L502.5 74L504 74.2L505.5 74.4L507 74.6L508.5 74.8L510 75L511.5 75.2L513.1 75.4L514.6 75.5L516.2 75.7L517.7 75.8L519.3 75.9L520.8 76.1L522.4 76.2L523.9 76.3L525.5 76.4L527.1 76.5L528.6 76.6L530.2 76.7L531.7 76.8L533.3 76.9L534.9 77L536.4 77.1L538 77.2L539.5 77.3L541.1 77.4L542.6 77.5L544.2 77.6L544.2 100L305.4 100Z" fill="#cdcdcd"/>
<path d="M305.4 171.7L306.9 171.7L308.4 171.7L309.9 171.7L311.4 171.7L312.9 171.8L314.4 171.8L315.9 171.8L317.4 171.8L318.9 171.8L320.4 171.8L321.9 171.8L323.5 171.8L325 171.8L326.5 171.8L328 171.8L329.5 171.8L331 171.8L332.5 171.8L334 171.9L335.5 171.9L337 171.9L338.5 171.9L340 171.9L341.5 171.9L343.1 171.9L344.6 171.9L346.1 171.9L347.7 171.9L349.2 171.9L350.7 171.8L352.3 171.8L353.8 171.8L355.3 171.8L356.9 171.8L358.4 171.8L359.9 171.9L361.4 171.9L363 172L364.5 172.1L366 172.2L367.5 172.3L369 172.5L370.5 172.6L372 172.8L373.5 173L375 173.3L376.5 173.6L378 174L379.6 174.5L381.1 174.9L382.6 175.5L384 176.2L385.4 177L386.7 177.9L388 178.8L389.3 179.8L390.6 180.8L391.8 181.9L392.9 183.3L393.7 184.9L394.5 186.5L395.2 188.3L395.9 190.1L396.5 192L397 193.5L397.3 195L397.7 196.6L398 198.1L398.3 199.7L398.5 201.2L398.8 202.8L399.1 204.3L399.4 206L399.8 207.6L400.1 209.3L400.4 210.9L400.7 212.6L401 214.2L401.3 215.9L401.5 217.4L401.7 218.9L401.8 220.4L402 221.9L402.1 223.4L402.2 225L402.3 226.5L402.4 228L402.6 229.5L402.7 231L428.5 231L428.5 229.5L428.4 228L428.4 226.5L428.4 225L428.3 223.5L428.3 222L428.3 220.5L428.2 219L428.2 217.5L428.1 216L428.1 214.5L428 213L427.9 211.5L427.8 209.9L427.7 208.3L427.6 206.7L427.4 205.1L427.3 203.4L427.2 201.8L427 200.2L426.9 198.6L426.7 197L426.6 195.4L426.4 193.7L426.3 192.1L426.1 190.4L426 188.8L425.8 187.1L425.6 185.5L425.3 183.9L425 182.3L424.7 180.7L424.4 179.1L424 177.6L423.6 176L423 174.4L422.4 172.8L421.9 171.4L421.4 169.9L421 168.5L420.5 167L420 165.6L419.5 164.1L418.9 162.6L418.3 161.1L417.6 159.6L416.8 158L416 156.5L415.1 155L414 153.6L412.9 152.5L411.8 151.5L410.6 150.5L409.3 149.7L408 148.8L406.6 147.9L405.1 147.1L403.6 146.4L402 145.8L400.5 145.3L305.4 144Z" fill="#cdcdcd"/>
<path d="M305.4 83.4L310.2 83.7L311.8 83.8L313.3 84L314.9 84.1L316.5 84.3L318.1 84.4L319.6 84.5L321.2 84.7L322.8 84.8L324.3 85L325.9 85.1L327.4 85.3L329 85.5L330.6 85.7L332.2 85.9L333.8 86.1L335.3 86.3L336.9 86.5L338.5 86.7L340.1 87L341.6 87.2L343.2 87.5L344.8 87.8L346.3 88.1L347.9 88.4L349.5 88.7L351 89.1L352.6 89.5L354.2 89.9L355.7 90.4L357.3 90.8L358.9 91.3L360.5 91.9L362 92.4L363.6 93L365.2 93.6L366.8 94.2L368.4 94.9L370 95.6L371.4 96.3L372.8 97L374.2 97.8L375.6 98.5L377 99.3L378.5 100.1L380 101L381.5 101.9L383 102.8L382.9 103.2L381.3 102.9L379.7 102.5L378.1 102.2L376.5 101.9L374.9 101.6L373.3 101.4L371.6 101.1L370 100.9L368.3 100.7L366.6 100.6L364.9 100.4L363.3 100.3L361.6 100.2L359.9 100.1L358.2 100L356.6 99.9L355.1 99.8L353.5 99.7L352 99.6L350.4 99.4L348.9 99.3L347.3 99.2L345.7 99.1L344.2 99L342.6 98.9L341.1 98.8L339.5 98.7L338 98.6L336.4 98.5L334.8 98.4L333.1 98.3L331.5 98.2L329.8 98.1L328.2 98.1L326.6 98L324.9 97.9L323.3 97.8L321.6 97.7L320 97.6L318.4 97.5L316.7 97.5L315.1 97.4L313.5 97.3L311.9 97.3L310.3 97.2L308.7 97.1L307 97.1L305.4 97Z" fill="#fff"/>
<path d="M384.5 103.6L386 103.9L387.4 104.3L388.9 104.7L390.3 105L391.8 105.4L393.3 105.8L394.7 106.2L396.2 106.6L397.6 106.9L399.1 107.3L400.7 107.7L402.3 108.1L403.9 108.5L405.5 108.9L407.2 109.3L408.8 109.7L410.4 110.1L412 110.5L413.6 110.9L415.2 111.3L416.9 111.7L418.5 112.1L420.1 112.4L421.7 112.8L423.4 113.2L425 113.6L426.6 114L428.2 114.4L430 114.8L431.9 115.2L433.7 115.5L435.5 115.8L437.2 116.1L438.8 116.4L440.5 116.6L442.2 116.9L443.8 117.1L445.4 117.4L446.9 117.6L448.5 117.9L450.1 118.1L451.6 118.3L453.2 118.6L454.8 118.8L456.3 119L457.9 119.2L459.5 119.4L461 119.6L462.5 119.7L464 119.8L465.5 120L467 120.1L468.5 120.2L470 120.4L471.5 120.6L473 120.7L474.5 120.9L476 121.1L477.5 121.3L479 121.5L480.5 121.7L482 121.9L483.5 122.1L485 122.2L486.5 122.3L488 122.4L489.5 122.5L491 122.6L492.5 122.6L494 122.7L495.5 122.8L497 122.8L498.5 122.8L500 122.9L501.5 122.9L503 122.9L504.5 123L506 123L507.5 123L509 123.1L510.6 123.1L512.1 123.2L513.6 123.2L515.2 123.2L516.7 123.3L518.2 123.3L519.7 123.3L521.3 123.4L522.8 123.4L524.3 123.4L525.9 123.5L527.4 123.5L528.9 123.5L530.5 123.5L532 123.6L533.5 123.6L535 123.6L536.6 123.6L538.1 123.7L539.6 123.7L541.2 123.7L542.7 123.8L544.2 123.8L544.2 137.6L542.7 137.6L541.2 137.6L539.7 137.6L538.1 137.5L536.6 137.5L535.1 137.5L533.6 137.5L532.1 137.5L530.5 137.5L529 137.5L527.5 137.5L526 137.5L524.5 137.4L523 137.4L521.4 137.4L519.9 137.4L518.4 137.4L516.9 137.4L515.4 137.4L513.8 137.4L512.3 137.4L510.8 137.4L509.3 137.4L507.8 137.3L506.2 137.3L504.7 137.3L503.2 137.3L501.7 137.3L500.2 137.3L498.7 137.3L497.1 137.3L495.6 137.2L494.1 137.2L492.6 137.2L491.1 137.2L489.5 137.2L488 137.1L486.5 137.1L485 137.1L483.5 137.1L482 137.1L480.5 137L479 137L477.5 137L476 137L474.5 137L473 136.9L471.5 136.9L470 136.9L468.5 136.9L467 136.9L465.5 136.8L464 136.8L462.5 136.8L461 136.7L459.5 136.7L457.9 136.6L456.3 136.6L454.7 136.6L453.1 136.5L451.5 136.5L450 136.4L448.4 136.4L446.8 136.3L445.2 136.2L443.6 136.2L442 136.1L440.3 136L438.7 135.9L437 135.8L435.3 135.7L433.7 135.6L432 135.5L430.3 135.4L428.5 135.3L426.7 135.1L425 134.9L423 134.5L420.9 134L419.4 133.6L417.9 133.1L416.4 132.6L415 132.1L413.6 131.4L412.1 130.6L410.6 129.6L409.2 128.6L407.8 127.5L406.4 126.4L405.1 125.3L403.8 124.1L402.6 122.8L401.4 121.6L400.3 120.3L399.1 119L398 117.8L397 116.5L396 115.2L395 113.9L394 112.6L392.9 111.4L391.8 110.2L390.6 109.1L389.5 107.9L388.3 106.9L387 105.8L385.8 104.8L384.5 103.8Z" fill="#9c9c9c"/>
<path d="M448 137L544.2 137.6L544.2 144.2L542.7 144.2L541.2 144.1L539.7 144.1L538.1 144L536.6 144L535.1 144L533.6 143.9L532.1 143.9L530.5 143.8L529 143.8L527.5 143.8L526 143.7L524.5 143.7L523 143.7L521.4 143.6L519.9 143.6L518.4 143.6L516.9 143.5L515.4 143.5L513.8 143.5L512.3 143.4L510.8 143.4L509.3 143.4L507.8 143.3L506.2 143.3L504.7 143.2L503.2 143.2L501.7 143.1L500.2 143.1L498.7 143L497.1 143L495.6 142.9L494.1 142.8L492.6 142.8L491.1 142.7L489.5 142.6L488 142.6L486.5 142.5L485 142.4L483.5 142.3L482 142.2L480.5 142.1L479 142L477.5 142L476 141.9L474.5 141.8L473 141.7L471.5 141.6L470 141.5Z" fill="#9c9c9c"/>
<path d="M305.4 126.8L306.9 126.8L308.4 126.9L309.9 126.9L311.4 127L312.9 127L314.4 127L315.9 127.1L317.4 127.1L318.9 127.2L320.4 127.2L321.9 127.2L323.5 127.3L325 127.3L326.5 127.4L328 127.4L329.5 127.5L331 127.5L332.5 127.6L334 127.6L335.5 127.6L337 127.7L338.5 127.7L340 127.8L341.5 127.8L343 127.9L344.5 127.9L346 127.9L347.5 127.9L349 128L350.5 128L352 128L353.5 128L355 128L356.5 128.1L358 128.1L359.5 128.2L361 128.2L362.5 128.3L364 128.4L365.5 128.5L367 128.6L368.5 128.7L370 128.9L371.6 129.1L373.3 129.3L374.9 129.6L376.5 129.8L378.1 130.1L379.7 130.3L381.3 130.6L382.9 130.8L384.5 131.1L386.1 131.4L387.8 131.7L389.4 132.1L391 132.4L392.6 132.7L394.2 133L395.8 133.4L397.5 133.7L399.1 134L400.7 134.3L402.3 134.6L403.9 134.9L405.5 135.2L407.1 135.5L408.7 135.8L410.3 136.1L412 136.4L413.6 136.7L415.2 137L416.9 137.2L418.5 137.5L420.1 137.8L421.7 138L423.4 138.2L425 138.4L426.5 138.6L428.1 138.7L429.6 138.9L431.1 139L432.7 139.1L434.2 139.2L435.8 139.2L437.3 139.3L438.9 139.4L440.4 139.5L442 139.6L443.6 139.7L445.2 139.8L446.8 139.9L448.4 140.1L450 140.2L451.5 140.3L453.1 140.4L454.7 140.6L456.3 140.7L457.9 140.8L459.5 140.9L461 141L462.5 141.1L464 141.2L465.5 141.2L467 141.3L468.5 141.4L470 141.5L471.5 141.6L473 141.7L474.5 141.8L476 141.9L477.5 142L479 142L480.5 142.1L482 142.2L483.5 142.3L485 142.4L486.5 142.5L488 142.6L489.5 142.6L491.1 142.7L492.6 142.8L494.1 142.8L495.6 142.9L497.1 143L498.7 143L500.2 143.1L501.7 143.1L503.2 143.2L504.7 143.2L506.2 143.3L507.8 143.3L509.3 143.4L510.8 143.4L512.3 143.4L513.8 143.5L515.4 143.5L516.9 143.5L518.4 143.6L519.9 143.6L521.4 143.6L523 143.7L524.5 143.7L526 143.7L527.5 143.8L529 143.8L530.5 143.8L532.1 143.9L533.6 143.9L535.1 144L536.6 144L538.1 144L539.7 144.1L541.2 144.1L542.7 144.2L544.2 144.2L544.2 161.2L542.7 161.2L541.2 161.2L539.7 161.1L538.1 161.1L536.6 161.1L535.1 161.1L533.6 161.1L532.1 161L530.5 161L529 161L527.5 161L526 161L524.5 160.9L523 160.9L521.4 160.9L519.9 160.9L518.4 160.9L516.9 160.9L515.4 160.8L513.8 160.8L512.3 160.8L510.8 160.8L509.3 160.8L507.8 160.8L506.2 160.7L504.7 160.7L503.2 160.7L501.7 160.7L500.2 160.7L498.7 160.6L497.1 160.6L495.6 160.6L494.1 160.6L492.6 160.5L491.1 160.5L489.5 160.5L488 160.5L486.5 160.4L485 160.4L483.5 160.4L482 160.3L480.5 160.3L478.9 160.3L477.4 160.2L475.9 160.2L474.4 160.2L472.9 160.1L471.4 160.1L469.8 160.1L468.3 160L466.8 160L465.3 159.9L463.8 159.9L462.3 159.9L460.8 159.8L459.3 159.8L457.7 159.8L456.2 159.7L454.7 159.7L453.2 159.6L451.7 159.6L450.2 159.6L448.7 159.5L447.2 159.5L445.6 159.4L444.1 159.4L442.6 159.3L441.1 159.3L439.6 159.2L438.1 159.2L436.5 159.2L435 159.1L433.5 159.1L432 159L430.5 159L429 158.9L427.5 158.9L426 158.8L424.5 158.8L423 158.8L421.5 158.7L420 158.7L418.5 158.6L417 158.6L415.5 158.5L414 158.4L412.5 158.3L411 158.2L409.5 158.1L408 158L406.5 157.8L405 157.6L403.5 157.4L402 157.2L399.1 170.4L397.6 170.3L396.1 170.2L394.6 170.1L393 170L391.5 169.9L390 169.8L388.2 169.6L386.3 169.3L384.5 169L382.9 168.8L381.2 168.5L379.6 168.2L378 168L376.5 167.8L375 167.5L373.5 167.3L372 167.1L370.5 166.8L369 166.6L367.5 166.4L366 166.2L364.5 166L363 165.9L361.4 165.8L359.9 165.7L358.4 165.6L356.9 165.5L355.3 165.4L353.8 165.4L352.3 165.3L350.7 165.3L349.2 165.2L347.7 165.2L346.1 165.2L344.6 165.1L343.1 165.1L341.5 165L340 165L338.5 165L337 164.9L335.5 164.9L334 164.8L332.5 164.8L331 164.8L329.5 164.8L328 164.7L326.5 164.7L325 164.7L323.5 164.7L321.9 164.7L320.4 164.7L318.9 164.6L317.4 164.6L315.9 164.6L314.4 164.6L312.9 164.6L311.4 164.6L309.9 164.6L308.4 164.5L306.9 164.5L305.4 164.5Z" fill="#9c9c9c"/>
<path d="M468 120.2L544.2 120.2L544.2 123.8L542.7 123.8L541.2 123.7L539.6 123.7L538.1 123.7L536.6 123.6L535 123.6L533.5 123.6L532 123.6L530.5 123.5L528.9 123.5L527.4 123.5L525.9 123.5L524.3 123.4L522.8 123.4L521.3 123.4L519.7 123.3L518.2 123.3L516.7 123.3L515.2 123.2L513.6 123.2L512.1 123.2L510.6 123.1L509 123.1L507.5 123L506 123L504.5 123L503 122.9L501.5 122.9L500 122.9L498.5 122.8L497 122.8L495.5 122.8L494 122.7L492.5 122.6L491 122.6L489.5 122.5L488 122.4L486.5 122.3L485 122.2L483.5 122.1L482 121.9L480.5 121.7L479 121.5L477.5 121.3L476 121.1L474.5 120.9L473 120.7L471.5 120.6L470 120.4L468.5 120.2Z" fill="#a6a6a6"/>
<path d="M350.7 141.3L352.2 141.3L353.8 141.3L355.3 141.4L356.8 141.4L358.3 141.4L359.9 141.4L361.4 141.5L362.9 141.5L364.5 141.6L366 141.6L367.5 141.7L369 141.7L370.5 141.8L372 141.9L373.5 141.9L375 142L376.5 142.1L378 142.2L379.5 142.3L381 142.4L382.5 142.5L384 142.7L385.5 142.8L387 143L388.5 143.2L390 143.4L391.5 143.6L393 143.9L394.5 144.2L396 144.6L397.6 145.1L399.1 145.6L400.6 146.3L402 147L403.6 147.9L405.2 148.9L406.7 150L408 151.2L409 152.3L409.9 153.5L410.8 154.7L411.6 156L411 156.9L409.5 156.8L408 156.6L406.5 156.4L405 156.1L403.5 155.8L402 155.4L400.5 155L399 154.6L397.5 154.2L396 153.8L394.5 153.3L393 152.8L391.5 152.3L390 151.8L388.5 151.2L387 150.6L385.5 150L384 149.4L382.5 148.8L381 148.2L379.5 147.6L378 147L376.5 146.5L375 146L373.5 145.6L372 145.2L370.5 144.9L369 144.6L367.5 144.3L366 144L364.5 143.7L362.9 143.4L361.3 143.2L359.7 142.9L358.2 142.7L356.6 142.5L355 142.3L353.5 142.1L352 142L350.5 141.9Z" fill="#787878"/>
<line x1="394.1" y1="14.4" x2="394.1" y2="230" stroke="#808080" stroke-opacity="0.3" stroke-width="0.8"/>
<line x1="306.4" y1="147.1" x2="543.2" y2="147.1" stroke="#808080" stroke-opacity="0.3" stroke-width="0.8"/>
<line x1="481.9" y1="14.4" x2="481.9" y2="230" stroke="#808080" stroke-opacity="0.3" stroke-width="0.8"/>
<line x1="306.4" y1="64.3" x2="543.2" y2="64.3" stroke="#808080" stroke-opacity="0.3" stroke-width="0.8"/>
<path d="M305.4 149.9L544.2 150" fill="none" stroke="#ff00ff" stroke-width="1.4" />
<path d="M305.4 152.4L544.2 152.9" fill="none" stroke="#ff00ff" stroke-width="1.4" />
<path d="M397.2 156C398 158 398.9 160 399.6 162C400.3 164 400.9 166 401.4 168C402 170.6 402.2 173.3 402.6 176C402.9 177.7 403.2 179.3 403.5 181C404.2 185.3 404.5 189.7 404.9 194.1C405.6 201.4 406 208.6 406.4 215.9C406.7 220.9 406.9 226 407.1 231" fill="none" stroke="#ff00ff" stroke-width="1.1" />
<path d="M345 141.8C352 142.5 359 143.3 366 144C370 144.4 374 144.8 378 145.2C382 145.6 386 145.7 390 146.4C392 146.7 394 147.2 396 147.6C398 148 400 148.5 402 148.8C404 149.1 406 149.4 408 149.6C412 150 416 149.9 420 150C426.7 150.1 433.3 150 440 150" fill="none" stroke="#ff00ff" stroke-width="1.4" />
<path d="M310.2 83.7L311 83.8L311.8 83.9L312.7 83.9L313.5 84L314.3 84.1L315.1 84.1L315.9 84.2L316.8 84.3L317.6 84.3L318.4 84.4L319.2 84.5L320 84.6L320.9 84.6L321.7 84.7L322.5 84.8L323.3 84.9L324.1 84.9L324.9 85L325.8 85.1L326.6 85.2L327.4 85.3L328.2 85.4L329 85.5L329.8 85.6L330.6 85.7L331.5 85.8L332.3 85.9L333.1 86L333.9 86.1L334.8 86.2L335.6 86.3L336.4 86.4L337.2 86.5L338 86.7L338.8 86.8L339.7 86.9L340.5 87L341.3 87.2L342.1 87.3L342.9 87.4L343.7 87.6L344.6 87.7L345.4 87.9L346.2 88L347 88.2L347.8 88.4L348.6 88.5L349.4 88.7L350.2 88.9L351 89.1L351.8 89.3" fill="none" stroke="#ff00ff" stroke-width="1.3" stroke-dasharray="1.3 2.0"/>
<path d="M352.6 89.5L353.4 89.7L354.2 89.9L355 90.1L355.7 90.4L356.5 90.6L357.3 90.8L358.1 91.1L358.9 91.3L359.7 91.6L360.5 91.9L361.2 92.1L362 92.4L362.8 92.7L363.6 93L364.4 93.3L365.2 93.6L366 93.9L366.8 94.2L367.6 94.6L368.4 94.9L369.2 95.2L370 95.6L370.8 96L371.6 96.4L372.4 96.8L373.1 97.2L373.9 97.6L374.7 98L375.5 98.4L376.2 98.9L377 99.3L377.8 99.7L378.5 100.1L379.3 100.6L380 101L380.8 101.4L381.5 101.9L382.3 102.3L383 102.8L383.8 103.3L384.5 103.8L385.1 104.3L385.8 104.8L386.4 105.3L387 105.8L387.7 106.3L388.3 106.9L388.9 107.4L389.5 107.9L390.1 108.5L390.6 109.1L391.2 109.6L391.8 110.2L392.4 110.8L392.9 111.4L393.5 112L394 112.6L394.5 113.3L395 113.9L395.5 114.6L396 115.2L396.5 115.9L397 116.5L397.5 117.1L398 117.8L398.6 118.4L399.1 119L399.7 119.6L400.3 120.3L400.8 120.9L401.4 121.6L402 122.2L402.6 122.8L403.2 123.5L403.8 124.1L404.4 124.7L405.1 125.3L405.7 125.8L406.4 126.4L407.1 127L407.8 127.5L408.5 128.1L409.2 128.6L409.9 129.1L410.6 129.6L411.3 130.1L412.1 130.6L412.8 131L413.6 131.4L414.4 131.8L415.2 132.1L416 132.5L416.8 132.7L417.6 133L418.4 133.3L419.2 133.5L420.1 133.8L420.9 134L421.7 134.2L422.5 134.4L423.4 134.6L424.2 134.8L425 134.9L425.9 135L426.7 135.1L427.6 135.2L428.5 135.3L429.4 135.3L430.3 135.4L431.1 135.4L432 135.5L432.8 135.6L433.7 135.6L434.5 135.7L435.3 135.7L436.2 135.8L437 135.8L437.8 135.9L438.7 135.9L439.5 136L440.3 136L441.2 136.1L442 136.1L442.8 136.1L443.7 136.2L444.5 136.2L445.3 136.3L446.2 136.3L447 136.3L447.8 136.3L448.7 136.4L449.5 136.4L450.3 136.4L451.2 136.4L452 136.5L452.8 136.5L453.7 136.5L454.5 136.5L455.3 136.6L456.2 136.6L457 136.6L457.8 136.6L458.7 136.7L459.5 136.7L460.3 136.7L461.1 136.7L462 136.8L462.8 136.8L463.6 136.8L464.4 136.8L465.3 136.8L466.1 136.8L466.9 136.9L467.7 136.9L468.5 136.9L469.4 136.9L470.2 136.9L471 136.9L471.8 136.9L472.7 136.9L473.5 137L474.3 137L475.1 137L476 137L476.8 137L477.6 137L478.4 137L479.2 137L480.1 137L480.9 137.1L481.7 137.1L482.5 137.1L483.4 137.1L484.2 137.1L485 137.1L485.8 137.1L486.6 137.1L487.4 137.1L488.2 137.1L489 137.2L489.8 137.2L490.6 137.2L491.4 137.2L492.2 137.2L493 137.2L493.8 137.2L494.6 137.2L495.4 137.2L496.2 137.2L497 137.2L497.8 137.3L498.6 137.3L499.4 137.3L500.2 137.3L501 137.3L501.8 137.3L502.6 137.3L503.4 137.3L504.2 137.3L505 137.3L505.8 137.3L506.6 137.3L507.4 137.3L508.2 137.3L509 137.4L509.8 137.4L510.6 137.4L511.4 137.4L512.2 137.4L513 137.4L513.8 137.4L514.6 137.4L515.4 137.4L516.2 137.4L517 137.4L517.8 137.4L518.6 137.4L519.4 137.4L520.2 137.4L521 137.4L521.8 137.4L522.6 137.4L523.4 137.4L524.2 137.4L525 137.5L525.8 137.5L526.6 137.5L527.4 137.5L528.2 137.5L529 137.5L529.8 137.5L530.6 137.5L531.4 137.5L532.2 137.5L533 137.5L533.8 137.5L534.6 137.5L535.4 137.5L536.2 137.5L537 137.5L537.8 137.5L538.6 137.5L539.4 137.6L540.2 137.6L541 137.6L541.8 137.6L542.6 137.6L543.4 137.6L544.2 137.6" fill="none" stroke="#ff00ff" stroke-width="1.3"/>
<path d="M310.2 81.5L311 81.6L311.8 81.6L312.6 81.7L313.4 81.8L314.2 81.9L315 81.9L315.8 82L316.6 82.1L317.4 82.1L318.2 82.2L319 82.2L319.8 82.3L320.6 82.4L321.4 82.5L322.2 82.5L323 82.6L323.8 82.7L324.7 82.8L325.5 82.8L326.4 82.9L327.2 83L328 83.1L328.9 83.1L329.7 83.2L330.5 83.3L331.4 83.4L332.2 83.5L333 83.6L333.9 83.7L334.7 83.8L335.6 83.9L336.4 84L337.2 84.1" fill="none" stroke="#ff0000" stroke-width="1.3" stroke-dasharray="1.3 2.0"/>
<path d="M338.1 84.2L338.9 84.3L339.7 84.5L340.5 84.6L341.4 84.7L342.2 84.8L343 84.9L343.9 85.1L344.7 85.2L345.5 85.3L346.3 85.4L347.2 85.6L348 85.7L348.8 85.8L349.7 86L350.6 86.1L351.4 86.3L352.2 86.4L353.1 86.6L353.9 86.7L354.8 86.9L355.6 87L356.5 87.2L357.4 87.4L358.2 87.6L359 87.8L359.8 88L360.6 88.2L361.4 88.4L362.2 88.6L363 88.9L363.8 89.1L364.6 89.3L365.4 89.6L366.1 89.9L366.9 90.1L367.7 90.4L368.5 90.7L369.2 91L370 91.3L370.8 91.6L371.6 92L372.4 92.4L373.1 92.7L373.9 93.1L374.7 93.5L375.5 93.9L376.2 94.2L377 94.6L377.8 95L378.5 95.3L379.3 95.7L380 96.1L380.8 96.5L381.5 96.9L382.3 97.3L383 97.7L383.8 98.1L384.5 98.5L385.2 98.9L385.9 99.4L386.7 99.8L387.4 100.3L388.1 100.7L388.8 101.2L389.5 101.7L390.2 102.2L390.9 102.6L391.6 103.1L392.2 103.6L392.9 104.1L393.6 104.6L394.3 105.1L395 105.6L395.7 106.2L396.4 106.7L397.1 107.2L397.8 107.8L398.5 108.3L399.2 108.9L399.8 109.4L400.5 110L401.2 110.6L401.8 111.2L402.5 111.7L403.1 112.3L403.7 112.9L404.4 113.5L405 114.1L405.7 114.7L406.4 115.2L407 115.7L407.7 116.2L408.3 116.7L408.9 117.1L409.6 117.6L410.3 118.1L410.9 118.5L411.6 119L412.2 119.4L412.9 119.9L413.6 120.3L414.3 120.7L415 121.2L415.8 121.6L416.5 122L417.2 122.4L417.9 122.8L418.7 123.1L419.4 123.5L420.2 123.9L420.9 124.3L421.7 124.7L422.5 125.1L423.4 125.5L424.2 125.9L425 126.3L425.8 126.6L426.6 126.9L427.4 127.2L428.2 127.5L429 127.8L429.8 128L430.6 128.2L431.4 128.5L432.2 128.7L433 128.9L433.8 129.1L434.7 129.2L435.5 129.4L436.3 129.6L437.1 129.7L437.9 129.9L438.8 130L439.6 130.2L440.4 130.3L441.2 130.4L442 130.5L442.8 130.6L443.6 130.7L444.4 130.9L445.2 131L446 131.1L446.8 131.2L447.6 131.3L448.4 131.4L449.2 131.5L450 131.6L450.9 131.7L451.7 131.8L452.6 131.9L453.5 132L454.3 132.1L455.2 132.2L456 132.3L456.9 132.4L457.8 132.4L458.6 132.5L459.5 132.6L460.3 132.7L461.1 132.7L462 132.8L462.8 132.8L463.6 132.9L464.4 132.9L465.3 133L466.1 133L466.9 133.1L467.7 133.1L468.5 133.1L469.4 133.2L470.2 133.2L471 133.2L471.8 133.2L472.7 133.2L473.5 133.3L474.3 133.3L475.1 133.3L476 133.3L476.8 133.3L477.6 133.4L478.4 133.4L479.2 133.4L480.1 133.4L480.9 133.4L481.7 133.4L482.5 133.4L483.4 133.5L484.2 133.5L485 133.5L485.8 133.5L486.6 133.5L487.4 133.6L488.2 133.6L489 133.6L489.8 133.6L490.6 133.6L491.4 133.6L492.2 133.7L493 133.7L493.8 133.7L494.6 133.7L495.4 133.7L496.2 133.7L497 133.7L497.8 133.7L498.6 133.7L499.4 133.8L500.2 133.8L501 133.8L501.8 133.8L502.6 133.8L503.4 133.8L504.2 133.8L505 133.8L505.8 133.8L506.6 133.8L507.4 133.8L508.2 133.8L509 133.8L509.8 133.8L510.6 133.8L511.4 133.8L512.2 133.9L513 133.9L513.8 133.9L514.6 133.9L515.4 133.9L516.2 133.9L517 133.9L517.8 133.9L518.6 133.9L519.4 133.9L520.2 133.9L521 133.9L521.8 133.9L522.6 133.9L523.4 133.9L524.2 133.9L525 133.9L525.8 133.9L526.6 133.9L527.4 133.9L528.2 133.9L529 133.9L529.8 133.9L530.6 133.9L531.4 133.9L532.2 133.9L533 133.9L533.8 133.9L534.6 133.9L535.4 133.9L536.2 133.9L537 133.9L537.8 133.9L538.6 134L539.4 134L540.2 134L541 134L541.8 134L542.6 134L543.4 134L544.2 134" fill="none" stroke="#ff0000" stroke-width="1.3"/>
<path d="M314.5 74.5L315.3 74.6L316.1 74.7L317 74.7L317.8 74.8L318.6 74.9L319.4 75L320.2 75.1L321 75.1L321.8 75.2L322.7 75.3L323.5 75.4L324.3 75.4L325.1 75.5L325.9 75.6L326.7 75.7L327.5 75.8L328.4 75.8L329.2 75.9L330 76L330.8 76.1L331.7 76.2L332.5 76.3L333.3 76.3L334.2 76.4L335 76.5L335.8 76.6L336.7 76.7L337.5 76.8L338.3 76.9L339.2 77L340 77.1L340.8 77.2L341.7 77.3L342.5 77.4L343.3 77.5L344.2 77.6L345 77.7L345.8 77.8L346.6 77.9L347.5 78L348.3 78.1L349.1 78.2L349.9 78.3L350.8 78.4L351.6 78.5L352.4 78.6L353.2 78.8L354.1 78.9L354.9 79L355.7 79.1L356.5 79.3L357.4 79.4" fill="none" stroke="#00aa00" stroke-width="1.3" stroke-dasharray="1.3 2.6"/>
<path d="M358.2 79.6L359 79.8L359.8 79.9L360.6 80.1L361.4 80.3L362.2 80.5L363 80.6L363.7 80.8L364.5 81L365.3 81.2L366.1 81.4L366.9 81.6L367.7 81.9L368.4 82.1L369.2 82.3L370 82.5L370.8 82.7L371.5 82.9L372.3 83.2L373.1 83.4L373.9 83.7L374.6 83.9L375.4 84.1L376.2 84.4L376.9 84.7L377.7 84.9L378.5 85.2L379.2 85.5L380 85.8L380.8 86L381.5 86.3L382.3 86.6L383 87L383.8 87.3L384.5 87.6L385.3 87.9L386.1 88.3L386.8 88.7L387.6 89L388.4 89.4L389.1 89.8L389.9 90.2L390.6 90.6L391.4 91L392.1 91.4L392.9 91.8L393.6 92.3L394.3 92.7L395 93.1L395.7 93.6L396.3 94L397 94.5L397.7 95L398.3 95.5L399 96L399.6 96.5L400.2 97L400.9 97.5L401.5 98L402.1 98.5L402.7 99L403.3 99.6L403.9 100.1L404.6 100.6L405.2 101.2L405.8 101.7L406.4 102.2L407.1 102.8L407.7 103.3L408.3 103.9L409 104.5L409.6 105L410.3 105.6L410.9 106.2L411.6 106.8L412.3 107.3L412.9 107.9L413.6 108.4L414.2 108.9L414.9 109.4L415.5 109.9L416.2 110.3L416.8 110.8L417.5 111.3L418.1 111.7L418.8 112.2L419.5 112.6L420.2 113L420.9 113.4L421.7 113.8L422.5 114.2L423.3 114.6L424.2 114.9L425 115.3L425.8 115.7L426.6 116L427.4 116.4L428.2 116.7L429 117L429.8 117.3L430.6 117.6L431.4 117.9L432.2 118.2L433 118.4L433.8 118.7L434.7 118.9L435.5 119.2L436.3 119.5L437.1 119.7L437.9 120L438.8 120.2L439.6 120.5L440.4 120.7L441.2 120.9L442 121.1L442.8 121.3L443.6 121.4L444.4 121.6L445.2 121.7L446 121.9L446.8 122L447.6 122.1L448.4 122.3L449.2 122.4L450 122.5L450.8 122.6L451.6 122.8L452.4 122.9L453.2 123L454 123.2L454.8 123.3L455.5 123.4L456.3 123.5L457.1 123.7L457.9 123.8L458.7 123.9L459.5 124L460.3 124.1L461.1 124.2L461.9 124.3L462.7 124.4L463.5 124.5L464.3 124.6L465.2 124.7L466 124.8L466.8 124.9L467.6 125L468.4 125.1L469.2 125.2L470 125.3L470.8 125.4L471.7 125.5L472.5 125.5L473.3 125.6L474.2 125.7L475 125.7L475.8 125.8L476.7 125.8L477.5 125.9L478.3 125.9L479.2 126L480 126L480.8 126.1L481.7 126.1L482.5 126.2L483.3 126.2L484.2 126.3L485 126.3L485.8 126.3L486.6 126.4L487.4 126.4L488.2 126.5L489 126.5L489.8 126.5L490.7 126.6L491.5 126.6L492.3 126.6L493.1 126.6L493.9 126.7L494.7 126.7L495.5 126.7L496.3 126.7L497.1 126.8L497.9 126.8L498.7 126.8L499.5 126.8L500.3 126.8L501.2 126.8L502 126.8L502.8 126.9L503.6 126.9L504.4 126.9L505.2 126.9L506 126.9L506.8 126.9L507.6 126.9L508.4 127L509.2 127L510.1 127L510.9 127L511.7 127L512.5 127L513.3 127L514.1 127L514.9 127.1L515.7 127.1L516.6 127.1L517.4 127.1L518.2 127.1L519 127.1L519.8 127.1L520.6 127.1L521.4 127.1L522.3 127.1L523.1 127.1L523.9 127.1L524.7 127.1L525.5 127.1L526.3 127.1L527.1 127.1L527.9 127.1L528.8 127.1L529.6 127.1L530.4 127.1L531.2 127.1L532 127.1L532.8 127.1L533.6 127.2L534.5 127.2L535.3 127.2L536.1 127.2L536.9 127.2L537.7 127.2L538.5 127.2L539.3 127.2L540.1 127.2L541 127.2L541.8 127.2L542.6 127.2L543.4 127.2L544.2 127.2" fill="none" stroke="#00aa00" stroke-width="1.3"/>
<path d="M382.8 81.1C383.1 81.2 383.4 81.3 383.6 81.5C383.9 81.6 384.2 81.7 384.5 81.8C384.8 81.9 385 82 385.3 82.2C385.5 82.3 385.8 82.4 386.1 82.5C386.3 82.6 386.6 82.8 386.8 82.9C387.1 83 387.3 83.1 387.6 83.3C387.8 83.4 388.1 83.5 388.3 83.6C388.6 83.8 388.8 83.9 389.1 84C389.4 84.2 389.6 84.3 389.8 84.4C390.1 84.6 390.3 84.7 390.6 84.8C390.8 85 391.1 85.1 391.3 85.2C391.6 85.4 391.8 85.5 392.1 85.7C392.3 85.8 392.6 85.9 392.8 86.1C393.1 86.2 393.3 86.3 393.6 86.5C393.8 86.6 394.1 86.8 394.3 86.9C394.5 87 394.8 87.2 395 87.3C395.2 87.4 395.5 87.6 395.7 87.7C395.9 87.8 396.2 88 396.4 88.1C396.6 88.3 396.8 88.4 397.1 88.5C397.3 88.7 397.5 88.8 397.8 89C398 89.1 398.2 89.3 398.4 89.4C398.7 89.5 398.9 89.7 399.1 89.8C399.3 90 399.6 90.1 399.8 90.3C400 90.4 400.2 90.6 400.5 90.7C400.7 90.9 400.9 91 401.1 91.2C401.4 91.3 401.6 91.5 401.8 91.6C402 91.8 402.2 91.9 402.5 92.1C402.7 92.2 402.9 92.4 403.1 92.5C403.3 92.7 403.6 92.8 403.8 93C404 93.2 404.2 93.3 404.4 93.5C404.7 93.6 404.9 93.8 405.1 93.9C405.3 94.1 405.5 94.3 405.7 94.4C406 94.6 406.2 94.7 406.4 94.9C406.6 95.1 406.9 95.2 407.1 95.4C407.3 95.6 407.5 95.7 407.7 95.9C408 96.1 408.2 96.3 408.4 96.4C408.6 96.6 408.8 96.8 409.1 97C409.3 97.1 409.5 97.3 409.7 97.5C409.9 97.7 410.1 97.9 410.4 98C410.6 98.2 410.8 98.4 411 98.6C411.2 98.8 411.4 98.9 411.7 99.1C411.9 99.3 412.1 99.5 412.3 99.6C412.5 99.8 412.7 100 412.9 100.2C413.2 100.4 413.4 100.5 413.6 100.7C413.8 100.9 414 101 414.3 101.2C414.5 101.4 414.7 101.5 414.9 101.7C415.1 101.8 415.3 102 415.6 102.2C415.8 102.3 416 102.5 416.2 102.7C416.4 102.8 416.7 103 416.9 103.1C417.1 103.3 417.3 103.5 417.5 103.6C417.8 103.8 418 104 418.2 104.1C418.4 104.3 418.7 104.4 418.9 104.6C419.1 104.7 419.3 104.9 419.5 105.1C419.8 105.2 420 105.4 420.2 105.5C420.4 105.7 420.7 105.8 420.9 106C421.1 106.2 421.4 106.3 421.6 106.5C421.9 106.6 422.1 106.8 422.3 106.9C422.6 107.1 422.8 107.3 423.1 107.4C423.3 107.6 423.5 107.7 423.8 107.9C424 108 424.3 108.2 424.5 108.3C424.8 108.5 425 108.6 425.2 108.8C425.5 108.9 425.7 109 426 109.2C426.2 109.3 426.5 109.5 426.7 109.6C427 109.7 427.2 109.9 427.5 110C427.7 110.1 428 110.3 428.2 110.4C428.4 110.5 428.7 110.7 428.9 110.8C429.2 110.9 429.4 111 429.6 111.1C429.9 111.3 430.1 111.4 430.4 111.5C430.6 111.6 430.8 111.7 431.1 111.8C431.3 112 431.6 112.1 431.8 112.2C432.1 112.3 432.3 112.4 432.5 112.5C432.8 112.6 433 112.7 433.3 112.8C433.5 112.9 433.8 113 434 113.1C434.3 113.3 434.5 113.4 434.8 113.5C435 113.6 435.3 113.7 435.5 113.8C435.7 113.9 436 114 436.2 114.1C436.5 114.2 436.7 114.4 437 114.5C437.2 114.6 437.5 114.7 437.7 114.8C437.9 114.9 438.2 115 438.4 115.1C438.7 115.2 438.9 115.3 439.2 115.4C439.4 115.5 439.7 115.6 439.9 115.7C440.2 115.8 440.4 115.9 440.7 116C440.9 116.1 441.2 116.2 441.4 116.3C441.7 116.3 441.9 116.4 442.2 116.5C442.5 116.6 442.8 116.7 443 116.7C443.3 116.8 443.6 116.9 443.9 116.9C444.2 117 444.5 117 444.8 117.1C445 117.1 445.3 117.2 445.6 117.2C445.9 117.3 446.2 117.3 446.5 117.4C446.8 117.4 447.1 117.5 447.4 117.5C447.7 117.6 448 117.6 448.3 117.6C448.5 117.7 448.8 117.7 449.1 117.8C449.4 117.8 449.7 117.9 450 117.9C450.3 117.9 450.5 118 450.8 118C451.1 118.1 451.3 118.1 451.6 118.2C451.9 118.2 452.1 118.2 452.4 118.3C452.6 118.3 452.9 118.4 453.2 118.4C453.4 118.5 453.7 118.5 454 118.6C454.2 118.6 454.5 118.6 454.8 118.7C455 118.7 455.3 118.8 455.5 118.8C455.8 118.9 456.1 118.9 456.3 118.9C456.6 119 456.9 119 457.1 119.1C457.4 119.1 457.6 119.1 457.9 119.2C458.2 119.2 458.4 119.3 458.7 119.3C459 119.3 459.2 119.4 459.5 119.4C459.8 119.4 460 119.5 460.3 119.5C460.6 119.5 460.8 119.5 461.1 119.6C461.4 119.6 461.7 119.6 461.9 119.6C462.2 119.7 462.5 119.7 462.7 119.7C463 119.7 463.3 119.8 463.5 119.8C463.8 119.8 464.1 119.8 464.3 119.9C464.6 119.9 464.9 119.9 465.2 119.9C465.4 120 465.7 120 466 120C466.2 120 466.5 120.1 466.8 120.1C467 120.1 467.3 120.1 467.6 120.2C467.8 120.2 468.1 120.2 468.4 120.2C468.7 120.3 468.9 120.3 469.2 120.3C469.5 120.3 469.7 120.4 470 120.4C470.3 120.4 470.6 120.5 470.8 120.5C471.1 120.5 471.4 120.5 471.7 120.6C471.9 120.6 472.2 120.6 472.5 120.7C472.8 120.7 473.1 120.7 473.3 120.8C473.6 120.8 473.9 120.9 474.2 120.9C474.4 120.9 474.7 121 475 121C475.3 121 475.6 121.1 475.8 121.1C476.1 121.1 476.4 121.2 476.7 121.2C476.9 121.3 477.2 121.3 477.5 121.3C477.8 121.4 478.1 121.4 478.3 121.4C478.6 121.5 478.9 121.5 479.2 121.6C479.4 121.6 479.7 121.6 480 121.7C480.3 121.7 480.6 121.7 480.8 121.8C481.1 121.8 481.4 121.8 481.7 121.9C481.9 121.9 482.2 121.9 482.5 122C482.8 122 483.1 122 483.3 122C483.6 122.1 483.9 122.1 484.2 122.1C484.4 122.2 484.7 122.2 485 122.2C485.3 122.2 485.5 122.2 485.8 122.3C486.1 122.3 486.3 122.3 486.6 122.3C486.9 122.3 487.2 122.4 487.4 122.4C487.7 122.4 488 122.4 488.2 122.4C488.5 122.5 488.8 122.5 489 122.5C489.3 122.5 489.6 122.5 489.8 122.5C490.1 122.5 490.4 122.6 490.7 122.6C490.9 122.6 491.2 122.6 491.5 122.6C491.7 122.6 492 122.6 492.3 122.6C492.5 122.7 492.8 122.7 493.1 122.7C493.3 122.7 493.6 122.7 493.9 122.7C494.2 122.7 494.4 122.7 494.7 122.7C495 122.7 495.2 122.7 495.5 122.8C495.8 122.8 496 122.8 496.3 122.8C496.6 122.8 496.8 122.8 497.1 122.8C497.4 122.8 497.7 122.8 497.9 122.8C498.2 122.8 498.5 122.8 498.7 122.8C499 122.8 499.3 122.8 499.5 122.8C499.8 122.9 500.1 122.9 500.3 122.9C500.6 122.9 500.9 122.9 501.2 122.9C501.4 122.9 501.7 122.9 502 122.9C502.2 122.9 502.5 122.9 502.8 122.9C503 122.9 503.3 122.9 503.6 122.9C503.8 122.9 504.1 123 504.4 123C504.7 123 504.9 123 505.2 123C505.5 123 505.7 123 506 123C506.3 123 506.5 123 506.8 123C507.1 123 507.4 123 507.6 123C507.9 123.1 508.2 123.1 508.4 123.1C508.7 123.1 509 123.1 509.2 123.1C509.5 123.1 509.8 123.1 510.1 123.1C510.3 123.1 510.6 123.1 510.9 123.1C511.1 123.1 511.4 123.2 511.7 123.2C512 123.2 512.2 123.2 512.5 123.2C512.8 123.2 513 123.2 513.3 123.2C513.6 123.2 513.8 123.2 514.1 123.2C514.4 123.2 514.7 123.2 514.9 123.2C515.2 123.2 515.5 123.3 515.7 123.3C516 123.3 516.3 123.3 516.6 123.3C516.8 123.3 517.1 123.3 517.4 123.3C517.6 123.3 517.9 123.3 518.2 123.3C518.5 123.3 518.7 123.3 519 123.3C519.3 123.3 519.5 123.3 519.8 123.3C520.1 123.3 520.4 123.4 520.6 123.4C520.9 123.4 521.2 123.4 521.4 123.4C521.7 123.4 522 123.4 522.3 123.4C522.5 123.4 522.8 123.4 523.1 123.4C523.3 123.4 523.6 123.4 523.9 123.4C524.2 123.4 524.4 123.4 524.7 123.4C525 123.4 525.2 123.4 525.5 123.4C525.8 123.4 526 123.5 526.3 123.5C526.6 123.5 526.9 123.5 527.1 123.5C527.4 123.5 527.7 123.5 527.9 123.5C528.2 123.5 528.5 123.5 528.8 123.5C529 123.5 529.3 123.5 529.6 123.5C529.8 123.5 530.1 123.5 530.4 123.5C530.7 123.5 530.9 123.5 531.2 123.5C531.5 123.5 531.7 123.6 532 123.6C532.3 123.6 532.6 123.6 532.8 123.6C533.1 123.6 533.4 123.6 533.6 123.6C533.9 123.6 534.2 123.6 534.5 123.6C534.7 123.6 535 123.6 535.3 123.6C535.5 123.6 535.8 123.6 536.1 123.6C536.4 123.6 536.6 123.6 536.9 123.6C537.2 123.7 537.4 123.7 537.7 123.7C538 123.7 538.2 123.7 538.5 123.7C538.8 123.7 539.1 123.7 539.3 123.7C539.6 123.7 539.9 123.7 540.1 123.7C540.4 123.7 540.7 123.7 541 123.7C541.2 123.7 541.5 123.7 541.8 123.7C542 123.8 542.3 123.8 542.6 123.8C542.8 123.8 543.1 123.8 543.4 123.8C543.7 123.8 543.9 123.8 544.2 123.8" fill="none" stroke="#0000ff" stroke-width="1.4" />
<rect x="323.6" y="70.2" width="1.5" height="1.4" fill="#0000ff"/>
<rect x="338.2" y="71.7" width="1.5" height="1.4" fill="#0000ff"/>
<rect x="348.4" y="72.8" width="1.5" height="1.4" fill="#0000ff"/>
<rect x="355.6" y="73.8" width="1.5" height="1.4" fill="#0000ff"/>
<rect x="361.6" y="74.9" width="1.5" height="1.4" fill="#0000ff"/>
<rect x="366.2" y="76" width="1.5" height="1.4" fill="#0000ff"/>
<rect x="370.6" y="77" width="1.5" height="1.4" fill="#0000ff"/>
<rect x="374.2" y="77.9" width="1.5" height="1.4" fill="#0000ff"/>
<rect x="377.6" y="78.8" width="1.5" height="1.4" fill="#0000ff"/>
<rect x="379.9" y="79.6" width="1.5" height="1.4" fill="#0000ff"/>
<path d="M305.4 145.3C316.9 145.7 328.5 145.7 340 146.5C345 146.9 350 147.2 355 147.8C358.7 148.2 362.4 148.7 366 149.4C368 149.8 370 150.1 372 150.6C374 151.1 376 151.7 378 152.4C380 153.1 382 153.9 384 154.6C386 155.3 388 156.1 390 156.6C392 157.1 394 157.5 396 157.8C398 158.1 400 158.4 402 158.6C406 159 410 159.1 414 159.3C420 159.6 426 159.6 432 159.8C449.7 160.3 467.3 160.5 485 160.8C504.7 161.1 524.5 161.3 544.2 161.5" fill="none" stroke="#ff0000" stroke-width="1.4" />
<path d="M305.4 142.9C316.9 143.2 328.5 143.1 340 143.8C345 144.1 350 144.5 355 145C358.7 145.4 362.4 145.8 366 146.4C368 146.7 370 147.1 372 147.6C374 148.1 376 148.7 378 149.4C380 150.1 382 151 384 151.8C386 152.6 388 153.5 390 154.2C392 154.9 394 155.5 396 156C398 156.5 400 156.9 402 157.2C406 157.9 410 158.1 414 158.4C420 158.8 426 158.8 432 159C449.7 159.6 467.3 160 485 160.4C504.7 160.8 524.5 160.9 544.2 161.2" fill="none" stroke="#00aa00" stroke-width="1.4" />
<path d="M340 141.4C345 141.7 350 141.7 355 142.3C358.7 142.7 362.4 143.3 366 144C368 144.4 370 144.7 372 145.2C374 145.7 376 146.3 378 147C380 147.7 382 148.6 384 149.4C386 150.2 388 151.1 390 151.8C392 152.5 394 153.2 396 153.8C398 154.4 400 154.9 402 155.4C404 155.9 406 156.3 408 156.6C410 156.9 412 157 414 157.2C420 157.7 426 157.6 432 157.8C438 158 444 158.1 450 158.3C461.7 158.6 473.3 158.8 485 159C504.7 159.3 524.5 159.5 544.2 159.7" fill="none" stroke="#0000ff" stroke-width="1.4" />
<path d="M366 142.2C370 142.4 374 142.5 378 142.8C382 143.1 386 143.4 390 143.8C392 144 394 144.1 396 144.4C398 144.7 400.1 145.1 402 145.8C404.1 146.5 406.1 147.6 408 148.8C410.2 150.2 412.3 151.7 414 153.6C415.5 155.4 416.6 157.5 417.6 159.6C418.6 161.5 419.3 163.6 420 165.6C420.9 168 421.5 170.4 422.4 172.8C422.8 173.9 423.2 174.9 423.6 176C424.4 178.6 424.8 181.2 425.3 183.9C426.1 188.2 426.3 192.6 426.7 197C427.2 201.8 427.6 206.7 427.9 211.5C428.3 218 428.3 224.5 428.5 231" fill="none" stroke="#00aa00" stroke-width="1.4" />
<path d="M305.4 140.9L306.2 140.9L307 140.9L307.8 140.9L308.6 140.9L309.4 140.9L310.2 140.9L311 140.9L311.8 141L312.6 141L313.4 141L314.2 141L315 141L315.9 141L316.7 141L317.5 141L318.3 141L319.1 141L319.9 141L320.7 141L321.5 141L322.3 141L323.1 141.1L323.9 141.1L324.7 141.1L325.5 141.1" fill="none" stroke="#0000ff" stroke-width="1.3" stroke-dasharray="1.1 1.7"/>
<path d="M326.3 141.1L327.1 141.1L327.9 141.1L328.7 141.1L329.5 141.1L330.4 141.1L331.2 141.1L332 141.1L332.8 141.1L333.6 141.1L334.4 141.2L335.2 141.2L336 141.2L336.8 141.2L337.6 141.2L338.4 141.2L339.2 141.2L340 141.2L340.8 141.2L341.6 141.2L342.4 141.2L343.3 141.2L344.1 141.2L344.9 141.2L345.7 141.3L346.5 141.3L347.3 141.3L348.1 141.3L348.9 141.3L349.8 141.3L350.6 141.3L351.4 141.3L352.2 141.3L353 141.3L353.8 141.3L354.6 141.3L355.4 141.4L356.2 141.4L357.1 141.4L357.9 141.4L358.7 141.4L359.5 141.4L360.3 141.4L361.1 141.5L361.9 141.5L362.7 141.5L363.6 141.5L364.4 141.5L365.2 141.6L366 141.6L366.8 141.6L367.6 141.7L368.4 141.7L369.2 141.7L370 141.8L370.8 141.8L371.6 141.8L372.4 141.9L373.2 141.9L374 142L374.8 142L375.6 142L376.4 142.1L377.2 142.1L378 142.2L378.8 142.3L379.6 142.3L380.4 142.4L381.2 142.4L382 142.5L382.8 142.6L383.6 142.6L384.4 142.7L385.2 142.8L386 142.8L386.8 142.9L387.6 143L388.4 143.1L389.2 143.3L390 143.4L390.9 143.5L391.7 143.7L392.6 143.8L393.4 144L394.3 144.2L395.1 144.4L396 144.6L396.8 144.8L397.6 145.1L398.3 145.4L399.1 145.6L399.8 146L400.6 146.3L401.3 146.6L402 147L402.7 147.4L403.4 147.8L404.2 148.2L404.8 148.6L405.5 149.1L406.2 149.6L406.8 150.1L407.4 150.6L408 151.2L408.6 151.8L409.2 152.5L409.7 153.1L410.2 153.8L410.7 154.5L411.2 155.3L411.6 156L412 156.8L412.5 157.6L412.9 158.4L413.3 159.2L413.6 160L414 160.8L414.3 161.6L414.6 162.3L414.9 163.1L415.2 163.8L415.5 164.6L415.8 165.3L416.1 166.1L416.4 166.8L416.7 167.6L417 168.3L417.3 169.1L417.6 169.8L417.9 170.6L418.2 171.3L418.5 172.1L418.8 172.8L419.1 173.5L419.5 174.2L419.8 175L420.2 175.7L420.5 176.5L420.8 177.3L421 178.1L421.3 178.9L421.5 179.8L421.7 180.6L421.8 181.4L422 182.2L422.2 183.1L422.4 183.9L422.6 184.7L422.8 185.5L423 186.3L423.2 187.1L423.4 188L423.6 188.8L423.8 189.6L424 190.4L424.1 191.2L424.3 192.1L424.5 192.9L424.7 193.7L424.8 194.5L425 195.4L425.1 196.2L425.3 197L425.4 197.8L425.6 198.6L425.7 199.4L425.9 200.2L426 201L426.2 201.8L426.3 202.6L426.4 203.4L426.5 204.2L426.7 205L426.8 205.8L426.9 206.6L427 207.4L427.1 208.2L427.2 209.1L427.3 209.9L427.4 210.7L427.5 211.5L427.6 212.3L427.7 213.1L427.7 213.9L427.8 214.8L427.8 215.6L427.9 216.4L427.9 217.2L427.9 218L428 218.8L428 219.6L428 220.4L428 221.2L428.1 222.1L428.1 222.9L428.1 223.7L428.1 224.5L428.1 225.3L428.1 226.1L428.1 226.9L428.1 227.8L428.1 228.6L428.2 229.4L428.2 230.2L428.2 231" fill="none" stroke="#0000ff" stroke-width="1.3"/>
<path d="M305.4 167.8C316.9 167.8 328.5 167.9 340 167.9C348.7 167.9 357.4 167.1 366 168C368 168.2 370 168.5 372 168.8C374 169.1 376 169.4 378 169.9C380 170.4 382.1 170.8 384 171.8C385.4 172.5 386.8 173.5 388 174.6C389.1 175.6 390.1 176.8 391 178C391.9 179.3 392.8 180.6 393.5 182C394.3 183.5 394.9 185.2 395.5 186.8C397.1 191.5 397 196.5 397.6 201.4C398.2 206.2 398.7 211.1 399.1 215.9C399.5 220.9 399.6 226 399.8 231" fill="none" stroke="#ff0000" stroke-width="1.4" />
<path d="M305.4 171C316.9 171.1 328.5 171.1 340 171.2C348.7 171.3 357.4 170.8 366 171.5C368 171.7 370 171.8 372 172.1C374 172.4 376 172.7 378 173.2C380.1 173.8 382.1 174.4 384 175.4C385.3 176.1 386.5 177.1 387.6 178C388.8 179 390 180 391 181.2C392.1 182.6 392.9 184.3 393.6 186C394.4 187.9 394.9 190 395.5 192C396.6 196 397.2 200.2 398 204.3C398.8 208.2 399.7 212 400.2 215.9C400.9 220.9 400.9 226 401.3 231" fill="none" stroke="#00aa00" stroke-width="1.4" />
<path d="M305.4 171.7C316.9 171.8 328.5 171.8 340 171.9C348.7 172 357.4 171.5 366 172.2C368 172.4 370 172.5 372 172.8C374 173.1 376 173.5 378 174C380.1 174.6 382.1 175.2 384 176.2C385.4 176.9 386.7 177.9 388 178.8C389.3 179.8 390.7 180.7 391.8 181.9C393 183.2 393.7 184.9 394.5 186.5C395.3 188.3 395.9 190.1 396.5 192C397.8 196 398.3 200.2 399.1 204.3C399.9 208.2 400.7 212 401.3 215.9C402 220.9 402.2 226 402.7 231" fill="none" stroke="#0000ff" stroke-width="1.4" />
<path d="M305.4 162.6C316.9 162.7 328.5 162.9 340 163C348.7 163.1 357.4 162.4 366 163.3C368 163.5 370 163.8 372 164.1C374 164.4 376 164.7 378 165C380.2 165.3 382.3 165.7 384.5 166C386.3 166.3 388.2 166.6 390 166.8C393 167.2 396.1 167.3 399.1 167.5C403.9 167.8 408.8 168 413.6 168.2C457.1 170.1 500.7 168.2 544.2 168.2" fill="none" stroke="#ff0000" stroke-width="1.4" />
<path d="M305.4 163.8C316.9 164 328.5 163.9 340 164.3C348.7 164.6 357.4 164.5 366 165.5C370 166 374 166.7 378 167.3C380.2 167.6 382.3 168 384.5 168.3C386.3 168.6 388.2 168.9 390 169.1C393 169.4 396.1 169.5 399.1 169.7C403.9 170 408.8 170.2 413.6 170.4C457.1 172.3 500.7 170.6 544.2 170.7" fill="none" stroke="#00aa00" stroke-width="1.4" />
<path d="M305.4 164.5C316.9 164.7 328.5 164.6 340 165C348.7 165.3 357.4 165.2 366 166.2C370 166.7 374 167.4 378 168C380.2 168.3 382.3 168.7 384.5 169C386.3 169.3 388.2 169.6 390 169.8C393 170.1 396.1 170.2 399.1 170.4C403.9 170.7 408.8 170.9 413.6 171.1C457.1 173 500.7 171.3 544.2 171.4" fill="none" stroke="#0000ff" stroke-width="1.4" />
<path d="M305.4 126.8C316.9 127.1 328.5 127.4 340 127.8C350 128.1 360.1 127.8 370 128.9C374.9 129.5 379.7 130.2 384.5 131.1C389.4 132 394.2 133.1 399.1 134.1C403.9 135.1 408.7 136.3 413.6 137.2C417.4 138 421.2 138.7 425 139.2C430.6 140.1 436.3 140.4 442 140.9C447.8 141.5 453.7 142.2 459.5 142.6C463 142.8 466.5 143 470 143.2C475 143.5 480 143.8 485 144.1C504.7 145.2 524.5 145.3 544.2 145.9" fill="none" stroke="#ff0000" stroke-width="1.4" />
<path d="M305.4 126.8C316.9 127.1 328.5 127.4 340 127.8C350 128.1 360.1 127.8 370 128.9C374.9 129.5 379.7 130.2 384.5 131.1C389.4 132 394.2 133.1 399.1 134.1C403.9 135 408.7 136.1 413.6 137C417.4 137.7 421.2 138.3 425 138.8C430.6 139.6 436.3 139.8 442 140.3C447.8 140.8 453.7 141.4 459.5 141.8C463 142 466.5 142.2 470 142.4C475 142.7 480 143 485 143.3C504.7 144.4 524.5 144.5 544.2 145.1" fill="none" stroke="#00aa00" stroke-width="1.4" />
<path d="M305.4 126.8C316.9 127.1 328.5 127.4 340 127.8C350 128.1 360.1 127.8 370 128.9C374.9 129.5 379.7 130.3 384.5 131.1C389.4 132 394.2 133.1 399.1 134C403.9 134.9 408.7 135.9 413.6 136.7C417.4 137.3 421.2 138 425 138.4C430.6 139.1 436.3 139.2 442 139.6C447.8 140 453.7 140.5 459.5 140.9C463 141.1 466.5 141.3 470 141.5C475 141.8 480 142.1 485 142.4C504.7 143.5 524.5 143.6 544.2 144.2" fill="none" stroke="#0000ff" stroke-width="1.4" />
<path d="M305.4 97C310.3 97.2 315.1 97.4 320 97.6C325.5 97.9 330.9 98.2 336.4 98.5C343.7 98.9 350.9 99.5 358.2 100C362.1 100.3 366.1 100.4 370 100.9C374.9 101.5 379.7 102.5 384.5 103.6C389.4 104.7 394.2 106.1 399.1 107.3C403.9 108.5 408.8 109.7 413.6 110.9C417.4 111.8 421.2 112.7 425 113.6C426.1 113.9 427.1 114.2 428.2 114.4C430.6 115 433.1 115.4 435.5 115.8C437.7 116.2 440 116.4 442.2 116.9C444.9 117.5 447.4 118.7 450 119.3C453.1 120.1 456.3 120.4 459.5 120.9C463 121.4 466.5 121.8 470 122.2C475 122.8 480 123.6 485 124C492 124.6 499 124.6 506 124.8C518.7 125.2 531.5 125.1 544.2 125.3" fill="none" stroke="#ff0000" stroke-width="1.4" />
<path d="M305.4 97C310.3 97.2 315.1 97.4 320 97.6C325.5 97.9 330.9 98.2 336.4 98.5C343.7 98.9 350.9 99.5 358.2 100C362.1 100.3 366.1 100.4 370 100.9C374.9 101.5 379.7 102.5 384.5 103.6C389.4 104.7 394.2 106.1 399.1 107.3C403.9 108.5 408.8 109.7 413.6 110.9C417.4 111.8 421.2 112.7 425 113.6C426.1 113.9 427.1 114.2 428.2 114.4C430.6 115 433.1 115.4 435.5 115.8C437.7 116.2 440 116.5 442.2 116.9C444.8 117.3 447.4 117.7 450 118.1" fill="none" stroke="#0000ff" stroke-width="1.4" />
<path d="M305.4 20.8L306.2 20.8L307 20.9L307.8 20.9L308.6 21L309.4 21L310.2 21L311 21.1L311.8 21.1L312.6 21.1L313.4 21.2L314.2 21.2L315 21.2L315.9 21.3L316.7 21.3L317.5 21.4L318.3 21.4L319.1 21.4L319.9 21.5L320.7 21.5L321.5 21.5L322.3 21.6L323.1 21.6L323.9 21.6L324.7 21.7L325.5 21.7L326.3 21.7L327.1 21.8L327.9 21.8L328.7 21.8L329.5 21.9L330.4 21.9L331.2 22L332 22L332.8 22.1L333.6 22.1L334.4 22.1L335.2 22.2L336 22.2L336.8 22.3L337.6 22.3L338.4 22.4L339.2 22.4L340 22.5L340.8 22.6L341.6 22.6L342.4 22.7L343.2 22.7L344.1 22.8L344.9 22.8L345.7 22.9L346.5 22.9L347.3 23L348.1 23L348.9 23.1L349.8 23.1L350.6 23.2L351.4 23.2L352.2 23.3L353 23.3L353.8 23.4L354.6 23.5L355.4 23.5L356.3 23.6L357.1 23.6L357.9 23.7L358.7 23.8L359.5 23.8L360.3 23.9L361.1 24L361.9 24.1" fill="none" stroke="#ff00ff" stroke-width="1.3" stroke-dasharray="1.3 4.0"/>
<path d="M362.7 24.1L363.6 24.2L364.4 24.3L365.2 24.4L366 24.5L366.8 24.6L367.6 24.7L368.4 24.8L369.2 24.9L370 25L370.8 25.1L371.6 25.2L372.5 25.4L373.3 25.5L374.1 25.6L374.9 25.7L375.7 25.8L376.6 25.9L377.4 26.1L378.2 26.2L379 26.3L379.8 26.4L380.6 26.6L381.4 26.7L382.3 26.8L383.1 27L383.9 27.1L384.7 27.3L385.5 27.4L386.3 27.6L387.1 27.8L387.9 27.9L388.7 28.1L389.5 28.3L390.3 28.5L391.1 28.7L391.9 28.9L392.7 29.1L393.5 29.4L394.3 29.6L395.1 29.8L395.8 30.1L396.6 30.3L397.4 30.6L398.1 30.9L398.9 31.1L399.6 31.4L400.4 31.7L401.1 32L401.9 32.3L402.6 32.6L403.4 32.9L404.1 33.2L404.8 33.5L405.6 33.9L406.3 34.2L407 34.5L407.8 34.9L408.5 35.2L409.2 35.5L410 35.9L410.7 36.2L411.4 36.6L412.1 36.9L412.9 37.3L413.6 37.6L414.3 37.9L415.1 38.3L415.8 38.7L416.5 39L417.2 39.4L417.9 39.8L418.7 40.2L419.4 40.6L420.1 41L420.8 41.4L421.5 41.8L422.2 42.2L422.9 42.5L423.7 42.9L424.4 43.3L425.1 43.7L425.8 44.1L426.5 44.5L427.3 44.8L428 45.2L428.8 45.6L429.5 45.9L430.2 46.3L431 46.7L431.8 47L432.5 47.3L433.2 47.7L434 48L434.8 48.4L435.5 48.7L436.2 49.1L437 49.4L437.8 49.7L438.5 50.1L439.2 50.4L440 50.8L440.8 51.2L441.6 51.5L442.3 51.9L443.1 52.3L443.9 52.7L444.7 53.1L445.4 53.5L446.2 53.8L447 54.2L447.7 54.6L448.5 55L449.2 55.4L450 55.8L450.7 56.2L451.4 56.5L452.1 56.9L452.8 57.3L453.5 57.7L454.2 58.1L454.9 58.5L455.6 58.8L456.3 59.2L457 59.6L457.7 60L458.4 60.4L459.1 60.7L459.8 61.1L460.6 61.5L461.3 61.8L462 62.2L462.7 62.6L463.5 62.9L464.2 63.3L465 63.7L465.7 64L466.5 64.4L467.2 64.7L468 65.1L468.7 65.4L469.5 65.8L470.2 66.1L471 66.4L471.7 66.8L472.5 67.1L473.2 67.5L474 67.8L474.8 68.1L475.5 68.5L476.3 68.8L477 69.1L477.8 69.4L478.5 69.8L479.3 70.1L480.1 70.4L480.8 70.7L481.6 71L482.4 71.3L483.1 71.5L483.9 71.8L484.7 72.1L485.4 72.3L486.2 72.5L487 72.7L487.7 73L488.5 73.2L489.3 73.4L490.1 73.5L490.9 73.7L491.7 73.9L492.4 74.1L493.2 74.2L494 74.4L494.8 74.6L495.6 74.7L496.4 74.9L497.2 75L498 75.1L498.8 75.3L499.6 75.4L500.4 75.5L501.2 75.7L502 75.8L502.8 75.9L503.6 76L504.4 76.2L505.2 76.3L506 76.4L506.8 76.5L507.6 76.6L508.4 76.8L509.2 76.9L510 77L510.8 77.1L511.6 77.2L512.4 77.4L513.2 77.5L514 77.6L514.9 77.7L515.7 77.8L516.5 77.9L517.3 78L518.1 78.1L518.9 78.2L519.7 78.3L520.5 78.4L521.4 78.4L522.2 78.5L523 78.6L523.8 78.7L524.6 78.7L525.4 78.8L526.2 78.9L527.1 79L527.9 79L528.7 79.1L529.5 79.2L530.3 79.2L531.1 79.3L532 79.4L532.8 79.4L533.6 79.5L534.4 79.6L535.2 79.6L536 79.7L536.9 79.8L537.7 79.8L538.5 79.9L539.3 80L540.1 80L540.9 80.1L541.8 80.2L542.6 80.2L543.4 80.3L544.2 80.4" fill="none" stroke="#ff00ff" stroke-width="1.3"/>
<path d="M305.4 21.3L306.2 21.3L307 21.4L307.8 21.4L308.6 21.5L309.4 21.5L310.2 21.5L311 21.6L311.8 21.6L312.6 21.6L313.4 21.7L314.2 21.7L315 21.7L315.9 21.8L316.7 21.8L317.5 21.9L318.3 21.9L319.1 21.9L319.9 22L320.7 22L321.5 22L322.3 22.1L323.1 22.1L323.9 22.1L324.7 22.2L325.5 22.2L326.3 22.2L327.1 22.3L327.9 22.3L328.7 22.3L329.5 22.4L330.4 22.4L331.2 22.5L332 22.5L332.8 22.6L333.6 22.6L334.4 22.6L335.2 22.7L336 22.7L336.8 22.8L337.6 22.8L338.4 22.9L339.2 22.9L340 23L340.8 23.1L341.6 23.1L342.4 23.2L343.2 23.2L344.1 23.3L344.9 23.3L345.7 23.4L346.5 23.4L347.3 23.5L348.1 23.5L348.9 23.6L349.8 23.6L350.6 23.7L351.4 23.7L352.2 23.8L353 23.8L353.8 23.9L354.6 24L355.4 24L356.3 24.1L357.1 24.1L357.9 24.2L358.7 24.3L359.5 24.3L360.3 24.4L361.1 24.5L361.9 24.6" fill="none" stroke="#ff0000" stroke-width="1.3" stroke-dasharray="1.3 4.0" stroke-dashoffset="1.3"/>
<path d="M362.7 24.6L363.6 24.7L364.4 24.8L365.2 24.9L366 25L366.8 25.1L367.6 25.2L368.4 25.3L369.2 25.4L370 25.5L370.8 25.6L371.6 25.7L372.5 25.9L373.3 26L374.1 26.1L374.9 26.2L375.7 26.3L376.6 26.4L377.4 26.6L378.2 26.7L379 26.8L379.8 26.9L380.6 27.1L381.4 27.2L382.3 27.3L383.1 27.5L383.9 27.6L384.7 27.8L385.5 27.9L386.3 28.1L387.1 28.3L387.9 28.4L388.7 28.6L389.5 28.8L390.3 29L391.1 29.2L391.9 29.4L392.7 29.6L393.5 29.9L394.3 30.1L395.1 30.3L395.8 30.6L396.6 30.8L397.4 31.1L398.1 31.4L398.9 31.6L399.6 31.9L400.4 32.2L401.1 32.5L401.9 32.8L402.6 33.1L403.4 33.4L404.1 33.7L404.8 34L405.6 34.4L406.3 34.7L407 35L407.8 35.4L408.5 35.7L409.2 36L410 36.4L410.7 36.7L411.4 37.1L412.1 37.4L412.9 37.8L413.6 38.1L414.3 38.4L415.1 38.8L415.8 39.2L416.5 39.5L417.2 39.9L417.9 40.3L418.7 40.7L419.4 41.1L420.1 41.5L420.8 41.9L421.5 42.3L422.2 42.7L422.9 43L423.7 43.4L424.4 43.8L425.1 44.2L425.8 44.6L426.5 45L427.3 45.3L428 45.7L428.8 46.1L429.5 46.4L430.2 46.8L431 47.2L431.8 47.5L432.5 47.8L433.2 48.2L434 48.5L434.8 48.9L435.5 49.2L436.2 49.6L437 49.9L437.8 50.2L438.5 50.6L439.2 50.9L440 51.3L440.8 51.7L441.6 52L442.3 52.4L443.1 52.8L443.9 53.2L444.7 53.6L445.4 54L446.2 54.3L447 54.7L447.7 55.1L448.5 55.5L449.2 55.9L450 56.3L450.7 56.7L451.4 57L452.1 57.4L452.8 57.8L453.5 58.2L454.2 58.6L454.9 59L455.6 59.3L456.3 59.7L457 60.1L457.7 60.5L458.4 60.9L459.1 61.2L459.8 61.6L460.6 62L461.3 62.3L462 62.7L462.7 63.1L463.5 63.4L464.2 63.8L465 64.2L465.7 64.5L466.5 64.9L467.2 65.2L468 65.6L468.7 65.9L469.5 66.3L470.2 66.6L471 66.9L471.7 67.3L472.5 67.6L473.2 68L474 68.3L474.8 68.6L475.5 69L476.3 69.3L477 69.6L477.8 69.9L478.5 70.3L479.3 70.6L480.1 70.9L480.8 71.2L481.6 71.5L482.4 71.8L483.1 72L483.9 72.3L484.7 72.6L485.4 72.8L486.2 73L487 73.2L487.7 73.5L488.5 73.7L489.3 73.9L490.1 74L490.9 74.2L491.7 74.4L492.4 74.6L493.2 74.7L494 74.9L494.8 75.1L495.6 75.2L496.4 75.4L497.2 75.5L498 75.6L498.8 75.8L499.6 75.9L500.4 76L501.2 76.2L502 76.3L502.8 76.4L503.6 76.5L504.4 76.7L505.2 76.8L506 76.9L506.8 77L507.6 77.1L508.4 77.3L509.2 77.4L510 77.5L510.8 77.6L511.6 77.7L512.4 77.9L513.2 78L514 78.1L514.9 78.2L515.7 78.3L516.5 78.4L517.3 78.5L518.1 78.6L518.9 78.7L519.7 78.8L520.5 78.9L521.4 78.9L522.2 79L523 79.1L523.8 79.2L524.6 79.2L525.4 79.3L526.2 79.4L527.1 79.5L527.9 79.5L528.7 79.6L529.5 79.7L530.3 79.7L531.1 79.8L532 79.9L532.8 79.9L533.6 80L534.4 80.1L535.2 80.1L536 80.2L536.9 80.3L537.7 80.3L538.5 80.4L539.3 80.5L540.1 80.5L540.9 80.6L541.8 80.7L542.6 80.7L543.4 80.8L544.2 80.9" fill="none" stroke="#ff0000" stroke-width="1.3"/>
<path d="M305.4 20.8L306.2 20.8L307 20.9L307.8 20.9L308.6 21L309.4 21L310.2 21L311 21.1L311.8 21.1L312.6 21.1L313.4 21.2L314.2 21.2L315 21.3L315.9 21.3L316.7 21.3L317.5 21.4L318.3 21.4L319.1 21.4L319.9 21.5L320.7 21.5L321.5 21.5L322.3 21.6L323.1 21.6L323.9 21.6L324.7 21.7L325.5 21.7L326.3 21.8L327.1 21.8L327.9 21.8L328.7 21.9L329.5 21.9L330.4 22L331.2 22L332 22.1L332.8 22.1L333.6 22.2L334.4 22.2L335.2 22.3L336 22.3L336.8 22.4L337.6 22.4L338.4 22.5L339.2 22.5L340 22.6L340.8 22.7L341.6 22.7L342.4 22.8L343.2 22.8L344.1 22.9L344.9 22.9L345.7 23L346.5 23L347.3 23.1L348.1 23.1L348.9 23.2L349.8 23.2L350.6 23.3L351.4 23.3L352.2 23.4L353 23.4L353.8 23.5L354.6 23.5L355.4 23.6L356.3 23.7L357.1 23.7L357.9 23.8L358.7 23.9L359.5 23.9L360.3 24L361.1 24.1L361.9 24.2" fill="none" stroke="#00aa00" stroke-width="1.3" stroke-dasharray="1.3 4.0" stroke-dashoffset="2.6"/>
<path d="M362.7 24.2L363.6 24.3L364.4 24.4L365.2 24.5L366 24.6L366.8 24.7L367.6 24.8L368.4 25L369.2 25.1L370 25.2L370.8 25.3L371.6 25.5L372.4 25.6L373.2 25.7L374 25.8L374.8 26L375.6 26.1L376.4 26.2L377.2 26.3L377.9 26.5L378.7 26.6L379.5 26.8L380.3 26.9L381.1 27L381.9 27.2L382.7 27.4L383.5 27.5L384.3 27.7L385.1 27.8L385.8 28L386.6 28.2L387.4 28.4L388.2 28.6L388.9 28.8L389.7 29L390.5 29.2L391.3 29.4L392 29.7L392.8 29.9L393.5 30.1L394.3 30.4L395.1 30.7L395.8 31L396.6 31.2L397.4 31.5L398.1 31.9L398.9 32.2L399.6 32.5L400.4 32.8L401.1 33.2L401.9 33.5L402.6 33.9L403.4 34.2L404.1 34.6L404.8 34.9L405.6 35.3L406.3 35.7L407 36.1L407.8 36.4L408.5 36.8L409.2 37.2L410 37.6L410.7 38L411.4 38.4L412.1 38.7L412.9 39.1L413.6 39.5L414.3 39.9L415.1 40.3L415.8 40.7L416.5 41.1L417.2 41.5L417.9 41.9L418.7 42.4L419.4 42.8L420.1 43.2L420.8 43.7L421.5 44.1L422.2 44.5L422.9 44.9L423.7 45.4L424.4 45.8L425.1 46.2L425.8 46.6L426.5 47L427.3 47.4L428 47.8L428.7 48.2L429.5 48.6L430.2 49L431 49.4L431.7 49.7L432.5 50.1L433.2 50.5L434 50.9L434.7 51.2L435.5 51.6L436.2 52L437 52.4L437.7 52.7L438.5 53.1L439.2 53.4L440 53.8L440.8 54.2L441.5 54.5L442.3 54.9L443.1 55.2L443.8 55.6L444.6 55.9L445.4 56.3L446.2 56.6L446.9 56.9L447.7 57.3L448.5 57.6L449.2 58L450 58.3L450.7 58.6L451.5 59L452.2 59.3L453 59.7L453.7 60L454.5 60.4L455.2 60.7L456 61.1L456.7 61.4L457.5 61.8L458.2 62.1L459 62.4L459.7 62.8L460.5 63.1L461.2 63.4L462 63.7L462.8 64L463.6 64.3L464.4 64.6L465.2 64.9L466 65.2L466.8 65.5L467.6 65.8L468.4 66.1L469.2 66.3L470 66.6L470.8 66.9L471.6 67.2L472.4 67.4L473.2 67.7L474 68L474.8 68.3L475.5 68.5L476.3 68.8L477 69.1L477.8 69.4L478.5 69.7L479.3 69.9L480.1 70.2L480.8 70.5L481.6 70.7L482.4 70.9L483.1 71.2L483.9 71.4L484.7 71.6L485.5 71.8L486.2 72L487 72.2L487.8 72.4L488.6 72.6L489.4 72.7L490.2 72.9L490.9 73.1L491.7 73.2L492.5 73.4L493.3 73.5L494.1 73.7L494.9 73.8L495.7 74L496.5 74.1L497.3 74.2L498.1 74.3L498.9 74.5L499.7 74.6L500.5 74.7L501.3 74.8L502.1 74.9L502.8 75L503.6 75.1L504.4 75.2L505.2 75.4L506 75.5L506.8 75.6L507.6 75.7L508.4 75.8L509.2 75.9L510 76L510.8 76.1L511.6 76.2L512.4 76.3L513.2 76.4L514 76.5L514.9 76.6L515.7 76.7L516.5 76.8L517.3 76.9L518.1 77L518.9 77L519.7 77.1L520.5 77.2L521.4 77.3L522.2 77.3L523 77.4L523.8 77.5L524.6 77.5L525.4 77.6L526.2 77.7L527.1 77.7L527.9 77.8L528.7 77.8L529.5 77.9L530.3 78L531.1 78L532 78.1L532.8 78.1L533.6 78.2L534.4 78.2L535.2 78.3L536 78.4L536.9 78.4L537.7 78.5L538.5 78.5L539.3 78.6L540.1 78.7L540.9 78.7L541.8 78.8L542.6 78.9L543.4 78.9L544.2 79" fill="none" stroke="#00aa00" stroke-width="1.3"/>
<path d="M305.4 20.8L306.2 20.8L307 20.9L307.8 20.9L308.6 21L309.4 21L310.2 21L311 21.1L311.8 21.1L312.6 21.2L313.4 21.2L314.2 21.2L315 21.3L315.9 21.3L316.7 21.3L317.5 21.4L318.3 21.4L319.1 21.5L319.9 21.5L320.7 21.5L321.5 21.6L322.3 21.6L323.1 21.6L323.9 21.7L324.7 21.7L325.5 21.8L326.3 21.8L327.1 21.8L327.9 21.9L328.7 21.9L329.5 22L330.4 22L331.2 22.1L332 22.1L332.8 22.1L333.6 22.2L334.4 22.2L335.2 22.3L336 22.3L336.8 22.4L337.6 22.4L338.4 22.5L339.2 22.5L340 22.6L340.8 22.7L341.6 22.7L342.4 22.8L343.2 22.8L344.1 22.9L344.9 22.9L345.7 23L346.5 23L347.3 23.1L348.1 23.1L348.9 23.2L349.8 23.2L350.6 23.3L351.4 23.3L352.2 23.4L353 23.4L353.8 23.5L354.6 23.5L355.4 23.6L356.3 23.7L357.1 23.7L357.9 23.8L358.7 23.9L359.5 23.9L360.3 24L361.1 24.1L361.9 24.2" fill="none" stroke="#0000ff" stroke-width="1.3" stroke-dasharray="1.3 4.0" stroke-dashoffset="3.9"/>
<path d="M362.7 24.3L363.6 24.4L364.4 24.5L365.2 24.6L366 24.7L366.8 24.8L367.6 24.9L368.4 25L369.2 25.2L370 25.3L370.8 25.4L371.6 25.6L372.4 25.7L373.2 25.8L374 26L374.8 26.1L375.6 26.3L376.4 26.4L377.2 26.6L377.9 26.7L378.7 26.9L379.5 27L380.3 27.2L381.1 27.3L381.9 27.5L382.7 27.7L383.5 27.9L384.3 28.1L385.1 28.2L385.8 28.4L386.6 28.6L387.4 28.9L388.2 29.1L388.9 29.3L389.7 29.5L390.5 29.8L391.3 30L392 30.3L392.8 30.5L393.5 30.8L394.3 31.1L395.1 31.4L395.8 31.7L396.5 32L397.3 32.3L398 32.7L398.8 33L399.5 33.4L400.2 33.7L400.9 34.1L401.6 34.5L402.4 34.9L403.1 35.2L403.8 35.6L404.5 36L405.2 36.4L405.9 36.8L406.6 37.2L407.3 37.6L408 38L408.7 38.5L409.4 38.9L410.1 39.3L410.8 39.7L411.5 40.1L412.2 40.5L412.9 40.9L413.6 41.3L414.3 41.7L415 42.1L415.7 42.5L416.4 42.9L417 43.4L417.7 43.8L418.4 44.2L419.1 44.7L419.8 45.1L420.4 45.5L421.1 45.9L421.8 46.4L422.5 46.8L423.1 47.2L423.8 47.6L424.5 48L425.2 48.4L425.9 48.8L426.6 49.2L427.3 49.6L428 50L428.7 50.4L429.5 50.8L430.2 51.1L431 51.5L431.7 51.8L432.5 52.2L433.2 52.5L434 52.9L434.7 53.2L435.5 53.5L436.2 53.9L437 54.2L437.7 54.6L438.5 54.9L439.2 55.2L440 55.6L440.8 55.9L441.5 56.3L442.3 56.7L443 57L443.8 57.4L444.6 57.7L445.3 58.1L446.1 58.4L446.9 58.8L447.7 59.1L448.4 59.5L449.2 59.9L450 60.2L450.7 60.5L451.5 60.8L452.2 61.2L453 61.5L453.7 61.8L454.5 62.1L455.2 62.4L456 62.7L456.7 63L457.5 63.3L458.2 63.6L459 63.9L459.7 64.2L460.5 64.5L461.2 64.7L462 65L462.8 65.3L463.6 65.5L464.4 65.7L465.2 66L466 66.2L466.8 66.4L467.6 66.6L468.4 66.8L469.2 67L470 67.2L470.8 67.5L471.6 67.7L472.4 67.9L473.2 68.1L474 68.3L474.8 68.5L475.7 68.8L476.5 69L477.4 69.2L478.2 69.4L479.1 69.7L479.9 69.9L480.8 70.1L481.6 70.3L482.4 70.5L483.2 70.7L484 70.9L484.8 71L485.6 71.2L486.4 71.4L487.2 71.6L488 71.7L488.8 71.9L489.6 72L490.4 72.2L491.3 72.3L492.1 72.5L492.9 72.6L493.7 72.7L494.5 72.9L495.3 73L496.1 73.1L496.9 73.2L497.8 73.4L498.6 73.5L499.4 73.6L500.2 73.7L501 73.8L501.8 73.9L502.7 74.1L503.5 74.2L504.3 74.3L505.1 74.4L505.9 74.5L506.7 74.6L507.6 74.7L508.4 74.8L509.2 74.9L510 75L510.8 75.1L511.6 75.2L512.4 75.3L513.2 75.4L514 75.5L514.9 75.5L515.7 75.6L516.5 75.7L517.3 75.8L518.1 75.8L518.9 75.9L519.7 76L520.5 76L521.4 76.1L522.2 76.2L523 76.2L523.8 76.3L524.6 76.3L525.4 76.4L526.2 76.4L527.1 76.5L527.9 76.5L528.7 76.6L529.5 76.6L530.3 76.7L531.1 76.7L532 76.8L532.8 76.8L533.6 76.9L534.4 76.9L535.2 77L536 77L536.9 77.1L537.7 77.1L538.5 77.2L539.3 77.2L540.1 77.3L540.9 77.4L541.8 77.4L542.6 77.5L543.4 77.5L544.2 77.6" fill="none" stroke="#0000ff" stroke-width="1.3"/>
</g>
<path d="M306.4 230v-2.4M306.4 14.4v2.4M306.4 230h2.4M543.2 230h-2.4M332.8 230v-1.2M332.8 14.4v1.2M306.4 205.1h1.2M543.2 205.1h-1.2M348.3 230v-1.2M348.3 14.4v1.2M306.4 190.5h1.2M543.2 190.5h-1.2M359.2 230v-1.2M359.2 14.4v1.2M306.4 180.1h1.2M543.2 180.1h-1.2M367.7 230v-1.2M367.7 14.4v1.2M306.4 172.1h1.2M543.2 172.1h-1.2M374.7 230v-1.2M374.7 14.4v1.2M306.4 165.5h1.2M543.2 165.5h-1.2M380.5 230v-1.2M380.5 14.4v1.2M306.4 160h1.2M543.2 160h-1.2M385.6 230v-1.2M385.6 14.4v1.2M306.4 155.2h1.2M543.2 155.2h-1.2M390.1 230v-1.2M390.1 14.4v1.2M306.4 150.9h1.2M543.2 150.9h-1.2M394.1 230v-2.4M394.1 14.4v2.4M306.4 147.1h2.4M543.2 147.1h-2.4M420.5 230v-1.2M420.5 14.4v1.2M306.4 122.2h1.2M543.2 122.2h-1.2M436 230v-1.2M436 14.4v1.2M306.4 107.6h1.2M543.2 107.6h-1.2M447 230v-1.2M447 14.4v1.2M306.4 97.3h1.2M543.2 97.3h-1.2M455.5 230v-1.2M455.5 14.4v1.2M306.4 89.2h1.2M543.2 89.2h-1.2M462.4 230v-1.2M462.4 14.4v1.2M306.4 82.7h1.2M543.2 82.7h-1.2M468.3 230v-1.2M468.3 14.4v1.2M306.4 77.1h1.2M543.2 77.1h-1.2M473.4 230v-1.2M473.4 14.4v1.2M306.4 72.3h1.2M543.2 72.3h-1.2M477.9 230v-1.2M477.9 14.4v1.2M306.4 68.1h1.2M543.2 68.1h-1.2M481.9 230v-2.4M481.9 14.4v2.4M306.4 64.3h2.4M543.2 64.3h-2.4M508.3 230v-1.2M508.3 14.4v1.2M306.4 39.3h1.2M543.2 39.3h-1.2M523.7 230v-1.2M523.7 14.4v1.2M306.4 24.8h1.2M543.2 24.8h-1.2M534.7 230v-1.2M534.7 14.4v1.2M306.4 14.4h1.2M543.2 14.4h-1.2M543.2 230v-1.2M543.2 14.4v1.2" stroke="#262626" stroke-width="0.6" fill="none"/>
<rect x="306.4" y="14.4" width="236.8" height="215.6" fill="none" stroke="#727272" stroke-width="1"/>
<text x="298.1" y="241.8" font-size="8.8" textLength="17.0" lengthAdjust="spacingAndGlyphs">10<tspan dy="-3.6" font-size="6.1">−1</tspan></text>
<text x="285" y="232.5" font-size="8.8" textLength="17.0" lengthAdjust="spacingAndGlyphs">10<tspan dy="-3.6" font-size="6.1">−1</tspan></text>
<text x="388.5" y="241.8" font-size="8.8" textLength="11.6" lengthAdjust="spacingAndGlyphs">10<tspan dy="-3.6" font-size="6.1">0</tspan></text>
<text x="290.4" y="149.6" font-size="8.8" textLength="11.6" lengthAdjust="spacingAndGlyphs">10<tspan dy="-3.6" font-size="6.1">0</tspan></text>
<text x="476.3" y="241.8" font-size="8.8" textLength="11.6" lengthAdjust="spacingAndGlyphs">10<tspan dy="-3.6" font-size="6.1">1</tspan></text>
<text x="290.4" y="66.8" font-size="8.8" textLength="11.6" lengthAdjust="spacingAndGlyphs">10<tspan dy="-3.6" font-size="6.1">1</tspan></text>
<text x="424" y="10.8" font-size="9.3" text-anchor="middle" textLength="96" lengthAdjust="spacingAndGlyphs" xml:space="preserve">(b) <tspan font-style="italic">ν</tspan><tspan dy="1.6" font-size="6.2">1</tspan><tspan dy="-1.6"> =0.05,  </tspan><tspan font-style="italic">ν</tspan><tspan dy="1.6" font-size="6.2">2</tspan><tspan dy="-1.6"> =0.03</tspan></text>
<text x="424.8" y="254.3" font-size="10.8" text-anchor="middle" textLength="73" lengthAdjust="spacingAndGlyphs"><tspan font-style="italic">ζ</tspan><tspan dy="1.8" font-size="7.2">1</tspan><tspan dy="-1.8"> = </tspan><tspan font-style="italic">c</tspan><tspan dy="1.8" font-size="7.2">1</tspan><tspan dy="-1.8">/2</tspan><tspan font-style="italic">m</tspan><tspan dy="1.8" font-size="7.2" font-style="italic">r</tspan><tspan dy="-1.8" font-style="italic">ω</tspan><tspan dy="1.8" font-size="7.2" font-style="italic">r</tspan></text>
<text transform="translate(286.6 123.4) rotate(-90)" font-size="10.8" text-anchor="middle" textLength="74" lengthAdjust="spacingAndGlyphs"><tspan font-style="italic">ζ</tspan><tspan dy="1.8" font-size="7.2">2</tspan><tspan dy="-1.8"> = </tspan><tspan font-style="italic">c</tspan><tspan dy="1.8" font-size="7.2">2</tspan><tspan dy="-1.8">/2</tspan><tspan font-style="italic">m</tspan><tspan dy="1.8" font-size="7.2" font-style="italic">r</tspan><tspan dy="-1.8" font-style="italic">ω</tspan><tspan dy="1.8" font-size="7.2" font-style="italic">r</tspan></text>
<clipPath id="cpc"><rect x="34.3" y="276.1" width="234.5" height="213.1"/></clipPath>
<g clip-path="url(#cpc)">
<path d="M33.3 290L35.4 290.3L37.5 290.7L39.6 291.1L41.8 291.5L43.9 291.9L46 292.3L48.1 292.8L50.1 293.2L52.2 293.7L54.3 294.1L56.4 294.6L58.4 295.1L60.5 295.6L62.5 296.1L64.5 296.7L66.5 297.3L68.5 297.9L70.5 298.5L72.5 299.1L74.5 299.8L76.4 300.4L78.4 301.1L80.3 301.9L82.3 302.6L84.2 303.4L86.1 304.2L88 305.1L89.9 306L91.8 306.9L93.6 307.8L95.5 308.8L97.3 309.9L99.1 311L100.9 312.1L102.7 313.2L104.5 314.4L106.2 315.6L108 316.9L109.7 318.2L111.4 319.5L113.1 320.8L114.8 322.2L116.5 323.6L118.1 324.9L119.8 326.3L121.4 327.7L123 329.1L124.6 330.4L126.2 331.8L127.8 333.2L129.4 334.6L130.9 335.9L132.4 337.2L134 338.5L134.6 338.3L136.4 339.3L138.2 340.3L140 341.3L141.9 342.3L141.6 342.8L139.6 343.1L137.5 343.4L135.5 343.7L133.4 343.9L131.4 344.2L129.3 344.5L127.3 344.8L125.3 345.1L123.2 345.3L121.2 345.6L119.1 345.9L117.1 346.2L115.1 346.5L113 346.8L111 347.1L110.2 351.4L108.9 349.8L107.5 348.2L106.1 346.7L104.7 345.3L103.2 343.9L101.7 342.6L100.1 341.3L98.4 340.2L96.7 339.1L95 338.1L93.2 337.1L91.4 336.3L89.6 335.5L87.7 334.8L85.8 334.1L83.8 333.5L81.9 332.9L79.9 332.4L77.9 331.9L75.9 331.5L73.9 331.1L71.8 330.8L69.8 330.5L67.7 330.2L65.6 329.9L63.5 329.7L61.4 329.4L59.3 329.2L57.3 328.9L55.2 328.7L53.1 328.5L51.1 328.3L49 328L47 327.8L44.9 327.5L42.9 327.3L41 326.9L39 326.6L37.1 326.2L35.2 325.8L33.3 325.4Z" fill="#cdcdcd"/>
<path d="M111 347.1L113 346.8L115.1 346.5L117.1 346.2L119.1 345.9L121.2 345.6L123.2 345.3L125.3 345.1L127.3 344.8L129.3 344.5L131.4 344.2L133.4 343.9L135.5 343.7L137.5 343.4L139.6 343.1L141.6 342.8L143.7 342.6L145.7 342.3L147.8 342.1L149.8 341.8L151.8 341.6L153.9 341.4L155.9 341.1L158 340.9L160 340.7L162 340.4L164.1 340.2L166.2 340L168.2 339.8L170.2 339.6L172.3 339.4L174.3 339.2L176.3 338.9L178.4 338.7L180.4 338.5L182.4 338.2L184.5 338L186.5 337.8L188.6 337.6L190.6 337.3L192.7 337.1L194.7 336.9L196.7 336.7L198.8 336.4L200.8 336.2L202.8 335.9L204.9 335.7L206.9 335.5L209 335.2L211 334.9L213 334.7L215 334.4L217.1 334.2L219.1 333.9L221.2 333.6L223.2 333.3L225.2 333L227.2 332.7L229.3 332.4L231.3 332.1L233.3 331.8L235.4 331.4L237.4 331.1L239.4 330.8L241.5 330.4L243.5 330L245.5 329.7L247.5 329.3L249.6 328.9L251.6 328.5L253.6 328.1L255.7 327.6L257.7 327.2L259.7 326.8L261.7 326.3L263.8 325.8L265.8 325.4L267.8 324.9L269.8 324.4L269.8 373.2L126.4 372.4L124.9 371L123.5 369.5L122.1 367.9L120.8 366.3L119.6 364.7L118.4 363.1L117.2 361.4L116.1 359.7L115 358.1L113.8 356.4L112.7 354.7L111.5 353Z" fill="#cdcdcd"/>
<path d="M33.3 339.1L35.4 339.1L37.4 339.2L39.5 339.2L41.5 339.2L43.5 339.2L45.6 339.3L47.6 339.3L49.7 339.3L51.7 339.3L53.8 339.3L55.8 339.3L57.9 339.3L59.9 339.3L61.9 339.3L64 339.4L66 339.4L68.1 339.4L70.1 339.3L72.2 339.3L74.2 339.3L76.3 339.3L78.3 339.3L80.4 339.3L82.4 339.3L84.4 339.3L86.5 339.2L88.6 339.2L90.6 339.2L92.7 339.1L94.7 339.1L96.8 339.1L98.8 339.1L100.8 339L102.9 339L104.9 338.9L107 338.9L109 338.8L111.1 338.8L113.1 338.7L115.2 338.7L117.2 338.6L119.2 338.5L121.3 338.4L123.3 338.4L125.4 338.3L127.4 338.2L129.5 338.1L131.5 338.1L133.5 338L135.6 337.9L137.7 337.8L139.7 337.7L141.8 337.6L143.8 337.5L145.8 337.4L147.9 337.3L149.9 337.2L149.8 341.8L147.8 342.1L145.7 342.3L143.7 342.6L141.6 342.8L139.6 343.1L137.5 343.4L135.5 343.7L133.4 343.9L131.4 344.2L129.3 344.5L127.3 344.8L125.3 345.1L123.2 345.3L121.2 345.6L119.1 345.9L117.1 346.2L115.1 346.5L113 346.8L111 347.1L108.9 347.4L106.9 347.7L104.8 348L102.8 348.3L100.8 348.6L98.7 348.9L96.7 349.2L94.6 349.5L92.6 349.8L90.5 350.1L88.4 350.3L86.4 350.6L84.4 350.9L82.3 351.2L80.3 351.5L78.2 351.7L76.2 352L74.2 352.3L72.1 352.5L70.1 352.8L68 353.1L66 353.3L63.9 353.5L61.9 353.7L59.9 353.9L57.8 354.2L55.8 354.4L53.7 354.6L51.7 354.8L49.6 355L47.6 355.1L45.5 355.3L43.5 355.5L41.5 355.7L39.4 355.8L37.4 356L35.4 356.1L33.3 356.2Z" fill="#cdcdcd"/>
<path d="M33.3 372.9L269.8 372.9L269.8 422.6L150 423.2L123 424L110 424L100 423.5L95.7 428.5L94.1 427.2L92.5 426.1L90.8 425L89 424.1L87.1 423.3L85.1 422.5L83.1 421.8L81.1 421.3L79 420.8L76.8 420.3L74.6 419.9L72.4 419.6L70.2 419.4L68 419.2L66.5 419L66 424.5L33.3 424.5Z" fill="#cdcdcd"/>
<path d="M205 368L269.8 368L269.8 412.6L165 412.6L162.7 409.6L162.8 404.4L150.6 402.8L152.6 402.6L154.6 402.3L156.6 402L158.6 401.7L160.7 401.4L162.7 401L164.7 400.7L166.8 400.3L168.8 399.9L170.8 399.5L172.8 399L174.8 398.5L176.8 398.1L178.8 397.6L180.8 397.1L182.8 396.6L184.8 396L186.8 395.5L188.7 394.9L190.7 394.3L192.7 393.7L194.7 393.1L196.7 392.4L198.7 391.8L200.6 391.1L202.5 390.4L204.5 389.7L204.5 389.7L204.5 389.7L203 389.4L201.5 389.1L200 388.8L198.3 388.7L196.7 388.6L195 388.6L193.3 388.7L191.7 388.8L190 388.8L188.4 388.8L186.8 388.8L185.3 388.8L183.7 388.8L182.1 388.8L180.6 388.8L179 388.9L177.4 388.9L175.8 388.9L174.3 388.9L172.7 388.9L171.1 388.9L169.6 389L168 389L166.4 389L164.9 389L163.3 389L161.8 389.1L160.2 389.1L160 386.5L205 386Z" fill="#9c9c9c"/>
<path d="M126 372.7L127.5 372.7L129 372.6L130.5 372.6L132 372.6L133.5 372.6L135 372.5L136.5 372.5L138 372.5L139.5 372.5L141 372.4L142.5 372.4L144 372.4L145.5 372.3L147 372.3L148.5 372.2L150 372.2L151.6 372.2L153.1 372.1L154.7 372.1L156.2 372L157.8 372L159.4 371.9L160.9 371.8L162.5 371.8L164.1 371.7L165.6 371.7L167.2 371.6L168.8 371.5L170.3 371.5L171.9 371.4L173.4 371.4L175 371.3L176.5 371.3L178 371.2L179.5 371.2L181 371.1L182.5 371.1L184 371.1L185.5 371L187 371L188.5 370.9L190 370.9L191.5 370.9L193 370.8L194.5 370.8L196 370.8L197.5 370.8L199 370.7L200.5 370.7L202 370.7L203.5 370.6L205 370.6L206.6 370.5L208.2 370.4L209.9 370.3L211.5 370.2L213.1 370.1L214.8 370.1L216.4 370.2L218 370.3L219.9 370.6L221.7 370.9L223.6 371.2L223.6 371.2L221.6 371.7L219.6 372.2L217.6 372.7L215.5 373.1L213.5 373.5L211.4 374L209.4 374.5L207.4 374.9L205.3 375.4L203.3 375.8L201.2 376.2L199.2 376.6L197.2 377L195.1 377.5L193.1 377.8L191 378.2L189 378.6L186.9 379L184.9 379.3L182.8 379.7L180.8 380.1L178.7 380.4L176.7 380.8L174.6 381.1L172.6 381.4L170.5 381.8L168.5 382.1L166.4 382.4L164.3 382.7L162.3 383L160.2 383.3L158.1 383.5L156.1 383.8L154 384.1L151.9 384.3L149.6 382.7L147.6 382.3L145.7 381.9L143.8 381.4L141.9 380.9L140 380.3L138.2 379.6L136.3 378.9L134.5 378.1L132.8 377.1L131.1 376.1L129.5 375L127.9 373.7L126.4 372.4Z" fill="#9c9c9c"/>
<path d="M205 368L269.8 368L269.8 386.2L245 386L220 385L200 383.5L182 380.2L182.8 379.7L184.9 379.3L186.9 379L189 378.6L191 378.2L193.1 377.8L195.1 377.5L197.2 377L199.2 376.6L201.2 376.2L203.3 375.8L205.3 375.4L207.4 374.9L209.4 374.5L211.4 374L213.5 373.5L215.5 373.1L217.6 372.7L219.6 372.2L221.6 371.7L223.6 371.2L223.6 371.2L221.7 370.9L219.9 370.6L218 370.3L216.4 370.2L214.8 370.1L213.1 370.1L211.5 370.2L209.9 370.3L208.2 370.4L206.6 370.5L205 370.6Z" fill="#9c9c9c"/>
<path d="M100 390L101.5 390L103.1 390L104.6 389.9L106.2 389.9L107.7 389.9L109.2 389.9L110.8 389.9L112.3 389.9L113.8 389.9L115.4 389.9L116.9 389.8L118.5 389.8L120 389.8L121.5 389.8L123.1 389.8L124.6 389.7L126.2 389.7L127.7 389.7L129.3 389.7L130.8 389.6L132.4 389.6L133.9 389.6L135.5 389.5L137 389.5L138.6 389.5L140.1 389.5L141.7 389.4L143.2 389.4L144.7 389.4L146.3 389.3L147.8 389.3L149.4 389.3L150.9 389.3L152.5 389.2L154 389.2L155.6 389.2L157.1 389.1L158.7 389.1L160.2 389.1L161.8 389.1L163.3 389L164.9 389L166.4 389L168 389L169.6 389L171.1 388.9L172.7 388.9L174.3 388.9L175.8 388.9L177.4 388.9L179 388.9L180.6 388.8L182.1 388.8L183.7 388.8L185.3 388.8L186.8 388.8L188.4 388.8L190 388.8L191.7 388.8L193.3 388.7L195 388.6L196.7 388.6L198.3 388.7L200 388.8L201.5 389.1L203 389.4L204.5 389.7L204.5 389.7L202.5 390.4L200.6 391.1L198.7 391.8L196.7 392.4L194.7 393.1L192.7 393.7L190.7 394.3L188.7 394.9L186.8 395.5L184.8 396L182.8 396.6L180.8 397.1L178.8 397.6L176.8 398.1L174.8 398.5L172.8 399L170.8 399.5L168.8 399.9L166.8 400.3L164.7 400.7L162.7 401L160.7 401.4L158.6 401.7L156.6 402L154.6 402.3L152.6 402.6L150.6 402.8L148.5 403.1L146.5 403.3L144.4 403.5L142.4 403.7L140.3 403.9L138.3 404.1L136.3 404.3L134.2 404.4L132.2 404.6L130.1 404.7L128.1 404.8L126 404.9L123.9 405L121.9 405.1L119.8 405.2L117.8 405.2L115.7 405.3L113.6 405.3L111.6 405.4L109.5 405.4L107.5 405.5L105.4 405.6L103.3 405.6L101.3 405.6L100 392.8Z" fill="#a4a4a4"/>
<path d="M129.3 389.7L130.8 389.6L132.4 389.6L133.9 389.6L135.5 389.5L137 389.5L138.6 389.5L140.1 389.5L141.7 389.4L143.2 389.4L144.7 389.4L146.3 389.3L147.8 389.3L149.4 389.3L150.9 389.3L152.5 389.2L154 389.2L155.6 389.2L157.1 389.1L158.7 389.1L160.2 389.1L161.8 389.1L163.3 389L164.9 389L166.4 389L168 389L169.6 389L171.1 388.9L172.7 388.9L174.3 388.9L175.8 388.9L177.4 388.9L179 388.9L180.6 388.8L182.1 388.8L183.7 388.8L185.3 388.8L186.8 388.8L188.4 388.8L190 388.8L191.7 388.8L193.3 388.7L195 388.6L196.7 388.6L198.3 388.7L200 388.8L201.5 389.1L203 389.4L204.5 389.7L204.5 389.7L202.5 390.4L200.6 391.1L198.7 391.8L196.7 392.4L194.7 393.1L192.7 393.7L190.7 394.3L188.7 394.9L186.8 395.5L184.8 396L182.8 396.6L180.8 397.1L178.8 397.6L176.8 398.1L174.8 398.5L172.8 399L170.8 399.5L168.8 399.9L166.8 400.3L164.7 400.7L162.7 401L160.7 401.4L158.6 401.7L156.6 402L154.6 402.3L152.6 402.6L150.6 402.8L148.5 403.1L146.5 403.3L144.4 403.5L142.4 403.7L140.3 403.9L138.3 404.1L136.3 404.3L134.2 404.4L132.2 404.6L130.1 404.7L128.1 404.8Z" fill="#9c9c9c"/>
<path d="M131.7 404.2L133.8 404.4L135.8 404.7L137.9 405L140 405.3L142.1 405.6L144.1 405.9L146.2 406.2L148.3 406.6L150.3 406.9L152.4 407.3L154.5 407.7L156.5 408.2L158.6 408.6L160.7 409.1L162.7 409.6L162.7 409.6L160.6 409.9L158.6 410.1L156.5 410.3L154.4 410.5L152.3 410.6L150.3 410.7L148.2 410.7L146.1 410.7L144 410.7L142 410.6L139.9 410.6L137.8 410.5L135.7 410.4L133.6 410.3L131.5 410.1Z" fill="#9c9c9c"/>
<path d="M33.3 377.5L35.3 378L37.3 378.4L39.3 378.9L41.3 379.3L43.4 379.8L45.4 380.3L47.4 380.8L49.4 381.2L51.4 381.7L53.4 382.1L55.5 382.5L57.5 383L59.5 383.5L61.5 383.9L63.5 384.4L65.6 384.8L67.6 385.2L69.6 385.7L71.7 386.1L73.7 386.5L75.7 387L77.7 387.4L79.8 387.9L79.1 389.4L77.1 389.4L75 389.4L72.9 389.5L70.8 389.5L68.7 389.5L66.6 389.5L64.5 389.5L62.5 389.4L60.4 389.4L58.3 389.4L56.2 389.4L54.1 389.3L52 389.3L50 389.2L47.9 389.2L45.8 389.1L43.7 389.1L41.6 389L39.5 388.9L37.5 388.8L35.4 388.7L33.3 388.6Z" fill="#9c9c9c"/>
<path d="M102.9 339L104.9 338.9L107 338.9L109 338.8L111.1 338.8L113.1 338.7L115.2 338.7L117.2 338.6L119.2 338.5L121.3 338.4L123.3 338.4L125.4 338.3L127.4 338.2L129.5 338.1L131.5 338.1L133.5 338L135.6 337.9L137.7 337.8L139.7 337.7L141.8 337.6L143.8 337.5L145.8 337.4L147.9 337.3L149.9 337.2L152 337.1L151.8 341.6L149.8 341.8L147.8 342.1L145.7 342.3L143.7 342.6L141.6 342.8L139.6 343.1L137.5 343.4L135.5 343.7L133.4 343.9L131.4 344.2L129.3 344.5L127.3 344.8L125.3 345.1L123.2 345.3L121.2 345.6L119.1 345.9L117.1 346.2L115.1 346.5L113 346.8Z" fill="#9c9c9c"/>
<path d="M45.9 414.7L47.9 414.8L50 414.8L52.1 414.9L54.2 415L56.3 415.1L58.4 415.2L60.5 415.4L62.6 415.5L64.6 415.7L66.7 415.8L68.8 415.9L70.9 416.1L73 416.2L75.1 416.4L77.1 416.6L79.2 416.8L81.3 417L83.4 417.2L85.5 417.4L87.5 417.6L89.6 417.8L91.7 418.1L93.8 418.3L95.9 418.5L97 419L90 420L80 420L68 419.2L58 417.8L48 416.2Z" fill="#fff"/>
<line x1="121.2" y1="276.1" x2="121.2" y2="489.2" stroke="#808080" stroke-opacity="0.3" stroke-width="0.8"/>
<line x1="34.3" y1="396.6" x2="268.8" y2="396.6" stroke="#808080" stroke-opacity="0.3" stroke-width="0.8"/>
<line x1="208.1" y1="276.1" x2="208.1" y2="489.2" stroke="#808080" stroke-opacity="0.3" stroke-width="0.8"/>
<line x1="34.3" y1="304" x2="268.8" y2="304" stroke="#808080" stroke-opacity="0.3" stroke-width="0.8"/>
<path d="M33.3 294.4C34.7 294.6 36.2 294.8 37.6 295C39 295.2 40.4 295.4 41.8 295.6C43.2 295.9 44.6 296.1 46 296.4C47.3 296.6 48.7 296.9 50 297.2C51.4 297.5 52.7 297.8 54.1 298.1C55.4 298.5 56.7 298.8 58 299.2C59.3 299.5 60.6 299.9 61.9 300.3C63.2 300.6 64.5 301 65.8 301.5C67.1 301.9 68.3 302.3 69.6 302.7C70.9 303.2 72.1 303.6 73.4 304.1C74.6 304.6 75.9 305.1 77.1 305.6C78.4 306.1 79.6 306.6 80.8 307.2C82 307.7 83.3 308.3 84.5 308.8C85.7 309.4 86.9 310 88.1 310.6C89.3 311.2 90.5 311.8 91.7 312.4C92.9 313.1 94.1 313.7 95.3 314.4C96.5 315 97.7 315.7 98.9 316.4C100.1 317.1 101.3 317.8 102.4 318.5C103.6 319.2 104.8 319.9 106 320.7C107.2 321.4 108.4 322.1 109.5 322.9C110.7 323.6 111.9 324.4 113.1 325.1C114.3 325.9 115.5 326.6 116.6 327.4C117.8 328.1 119 328.9 120.2 329.6C121.4 330.4 122.6 331.1 123.8 331.9C125 332.6 126.1 333.3 127.3 334.1C128.5 334.8 129.7 335.5 130.9 336.2C132.1 336.9 133.3 337.6 134.6 338.3C135.8 339 137 339.7 138.2 340.3C139.4 341 140.6 341.7 141.9 342.3C143.1 342.9 144.3 343.6 145.6 344.2C146.8 344.8 148 345.4 149.3 346C150.5 346.6 151.8 347.2 153 347.8C154.3 348.4 155.5 348.9 156.8 349.5C158 350 159.3 350.6 160.6 351.1C161.8 351.6 163.1 352.1 164.4 352.6C165.6 353.1 166.9 353.6 168.2 354.1C169.5 354.6 170.8 355 172 355.5C173.3 355.9 174.6 356.3 175.9 356.8C177.2 357.2 178.5 357.6 179.8 358C181.1 358.4 182.4 358.8 183.7 359.1C185 359.5 186.3 359.8 187.7 360.2C189 360.5 190.3 360.8 191.6 361.1C192.9 361.4 194.3 361.7 195.6 361.9C196.9 362.2 198.2 362.4 199.6 362.6C200.9 362.9 202.2 363.1 203.6 363.3C204.9 363.4 206.3 363.6 207.6 363.8C209 363.9 210.3 364.1 211.7 364.2C213 364.3 214.4 364.4 215.7 364.6C217.1 364.7 218.4 364.8 219.8 364.8C221.2 364.9 222.5 365 223.9 365.1C225.2 365.1 226.6 365.2 228 365.3C229.4 365.3 230.7 365.4 232.1 365.4C233.5 365.4 234.9 365.5 236.2 365.5C237.6 365.5 239 365.6 240.4 365.6C241.8 365.6 243.2 365.6 244.6 365.6C245.9 365.7 247.3 365.7 248.7 365.7C250.1 365.7 251.5 365.7 252.9 365.8C254.3 365.8 255.7 365.8 257.1 365.8C258.5 365.9 259.9 365.9 261.3 365.9C262.7 366 264.2 366 265.6 366C267 366.1 268.4 366.1 269.8 366.2" fill="none" stroke="#ff00ff" stroke-width="1.2" />
<path d="M33.3 325.4C34.6 325.7 35.8 326 37.1 326.2C38.4 326.5 39.7 326.7 41 326.9C42.3 327.2 43.6 327.4 44.9 327.5C46.3 327.7 47.6 327.9 49 328C50.4 328.2 51.7 328.4 53.1 328.5C54.5 328.7 55.9 328.8 57.3 328.9C58.6 329.1 60 329.2 61.4 329.4C62.8 329.6 64.2 329.7 65.6 329.9C67 330.1 68.4 330.2 69.8 330.5C71.1 330.7 72.5 330.9 73.9 331.1C75.2 331.4 76.6 331.6 77.9 331.9C79.3 332.2 80.6 332.5 81.9 332.9C83.2 333.3 84.5 333.6 85.8 334.1C87.1 334.5 88.3 335 89.6 335.5C90.8 336 92 336.5 93.2 337.1C94.4 337.7 95.6 338.4 96.7 339.1C97.9 339.8 99 340.5 100.1 341.3C101.1 342.1 102.2 343 103.2 343.9C104.2 344.8 105.2 345.8 106.1 346.7C107.1 347.7 108 348.8 108.9 349.8C109.8 350.9 110.6 351.9 111.5 353C112.3 354.1 113.1 355.2 113.8 356.4C114.6 357.5 115.3 358.6 116.1 359.7C116.9 360.8 117.6 362 118.4 363.1C119.2 364.2 120 365.3 120.8 366.3C121.7 367.4 122.5 368.5 123.5 369.5C124.4 370.5 125.3 371.5 126.4 372.4C127.4 373.3 128.4 374.2 129.5 375C130.6 375.8 131.7 376.5 132.8 377.1C134 377.8 135.1 378.4 136.3 378.9C137.5 379.4 138.8 379.9 140 380.3C141.2 380.7 142.5 381.1 143.8 381.4C145 381.8 146.3 382 147.6 382.3C148.9 382.6 150.2 382.8 151.5 383.1C152.8 383.3 154.1 383.5 155.4 383.7C156.8 383.9 158.1 384.1 159.4 384.3C160.7 384.5 162.1 384.6 163.4 384.8C164.7 384.9 166.1 385.1 167.4 385.2C168.8 385.3 170.1 385.4 171.5 385.5C172.8 385.6 174.2 385.7 175.6 385.7C176.9 385.8 178.3 385.9 179.7 385.9C181 386 182.4 386 183.8 386.1C185.2 386.1 186.5 386.1 187.9 386.1C189.3 386.1 190.7 386.2 192 386.2C193.4 386.2 194.8 386.2 196.2 386.2C197.6 386.1 199 386.1 200.4 386.1C201.7 386.1 203.1 386.1 204.5 386C205.9 386 207.3 386 208.7 386C210.1 385.9 211.5 385.9 212.9 385.9C214.2 385.8 215.6 385.8 217 385.8C218.4 385.7 219.8 385.7 221.2 385.6C222.6 385.6 223.9 385.6 225.3 385.5C226.7 385.5 228.1 385.5 229.5 385.4C230.9 385.4 232.2 385.4 233.6 385.4C235 385.3 236.3 385.3 237.7 385.3C239.1 385.3 240.5 385.3 241.8 385.3C243.2 385.3 244.5 385.3 245.9 385.3C247.2 385.3 248.6 385.3 250 385.3C251.3 385.4 252.6 385.4 254 385.4C255.3 385.5 256.6 385.5 258 385.6C259.3 385.6 260.6 385.7 262 385.8C263.3 385.9 264.6 386 265.9 386.1C267.2 386.2 268.5 386.3 269.8 386.4" fill="none" stroke="#ff00ff" stroke-width="1.2" />
<path d="M33.3 388.8C41.2 388.2 49.2 387.9 57.1 387.1C62.7 386.5 68.3 385.9 73.8 385.1C75.9 384.8 77.9 384.5 80 384.1C87.3 382.9 94.6 381.4 101.8 379.7C105.4 378.9 109.1 377.9 112.7 377C116.3 376.1 120.3 376 123.6 374.3C124 374.1 124.5 373.8 124.9 373.6" fill="none" stroke="#ff00ff" stroke-width="1.2" />
<path d="M118 346.3C119.5 346 121 345.6 122.5 345.3C124 345 125.4 344.7 126.9 344.3C128.4 344 129.9 343.7 131.4 343.3C132.9 343 134.4 342.7 135.9 342.4C137.4 342 138.9 341.7 140.4 341.4C141.8 341.1 143.3 340.8 144.8 340.5C146.3 340.2 147.8 339.9 149.3 339.7C150.8 339.4 152.3 339.1 153.8 338.9C155.3 338.6 156.8 338.4 158.4 338.2C159.9 337.9 161.4 337.7 162.9 337.5C164.4 337.3 165.9 337.2 167.4 337C169 336.9 170.5 336.7 172 336.6" fill="none" stroke="#ff00ff" stroke-width="1.2" />
<path d="M33.3 398C38.9 398.1 44.4 398.1 50 398.2C56.7 398.3 63.3 398.4 70 398.6C73.3 398.7 76.7 398.5 80 398.9C81.5 399.1 84.5 398.1 84.5 399.6C84.5 401.1 81.5 400 80 400.2C76.7 400.5 73.3 400.5 70 400.6C63.3 400.8 56.7 401 50 401.2C44.4 401.3 38.9 401.5 33.3 401.6" fill="none" stroke="#ff00ff" stroke-width="1.2" />
<path d="M112 398.5C114.7 399 117.3 399.6 120 400C123.5 400.5 127 400.7 130.5 400.9C134.7 401.2 139 401.2 143.2 401.3C147.4 401.4 151.7 401.5 155.9 401.6C162.3 401.8 168.6 402 175 402.2C183.3 402.4 191.7 402.6 200 402.7C210 402.9 220 402.9 230 403C243.3 403.1 256.5 403.1 269.8 403.2" fill="none" stroke="#ff00ff" stroke-width="1.2" />
<path d="M118 402.5C121 402.8 124 403.1 127 403.4C130.3 403.7 133.5 403.8 136.8 404.1C138.9 404.3 141.1 404.5 143.2 404.7C147.4 405 151.7 405.2 155.9 405.4C162.3 405.7 168.6 405.8 175 405.9C183.3 406.1 191.7 406.2 200 406.3C210 406.4 220 406.5 230 406.5C243.3 406.6 256.5 406.6 269.8 406.6" fill="none" stroke="#ff00ff" stroke-width="1.2" />
<path d="M150 406.6C158.3 406.8 166.7 407.1 175 407.3C183.3 407.5 191.7 407.6 200 407.7C223.3 408 246.5 407.9 269.8 408" fill="none" stroke="#ff00ff" stroke-width="1.2" />
<path d="M150 423.2C166.7 423.1 183.3 423.1 200 423C223.3 422.9 246.5 422.7 269.8 422.6" fill="none" stroke="#ff00ff" stroke-width="1.2" />
<path d="M115.5 403C116 404.2 116.5 405.3 117 406.5C117.6 407.9 118.4 409.1 119 410.5C119.5 411.6 120 412.8 120.4 414C120.9 415.5 121.2 417 121.6 418.5C122.1 420.7 122.5 423 122.9 425.3C123.7 430.4 124 435.6 124.4 440.7C125 448.3 125.5 456 125.9 463.6C126.4 472.5 126.6 481.3 127 490.2" fill="none" stroke="#ff00ff" stroke-width="1.2" />
<path d="M103 439.9C103.6 441.9 104.3 443.9 104.8 446C105.3 448.3 105.6 450.6 106 452.9C106.8 458 107.5 463.1 108.3 468.2C108.9 471.8 109.7 475.4 110.2 479C110.7 482.7 111 486.5 111.4 490.2" fill="none" stroke="#ff00ff" stroke-width="1.2" />
<path d="M33.3 296.4C34.7 296.6 36.1 296.7 37.4 296.9C38.8 297.1 40.2 297.4 41.5 297.6C42.9 297.8 44.3 298.1 45.6 298.4C46.9 298.6 48.3 298.9 49.6 299.2C50.9 299.6 52.3 299.9 53.6 300.2C54.9 300.6 56.2 300.9 57.5 301.3C58.8 301.7 60.1 302.1 61.4 302.5C62.7 302.8 64 303.3 65.2 303.7C66.5 304.1 67.8 304.5 69.1 305C70.3 305.4 71.6 305.8 72.8 306.3C74.1 306.8 75.4 307.2 76.6 307.7C77.9 308.2 79.1 308.7 80.3 309.2C81.6 309.7 82.8 310.2 84 310.8C85.3 311.3 86.5 311.8 87.7 312.4C88.9 313 90.2 313.5 91.4 314.1C92.6 314.7 93.8 315.3 95 316C96.2 316.6 97.4 317.2 98.6 317.9C99.9 318.5 101.1 319.2 102.3 319.8C103.5 320.5 104.7 321.2 105.9 321.9C107.1 322.6 108.2 323.3 109.4 324C110.6 324.8 111.8 325.5 113 326.2C114.2 327 115.4 327.7 116.6 328.5C117.8 329.2 119 330 120.2 330.7C121.3 331.5 122.5 332.2 123.7 333C124.9 333.7 126.1 334.4 127.3 335.1C128.5 335.8 129.7 336.5 130.9 337.2C132.1 337.8 133.2 338.5 134.4 339.1C135.6 339.7 136.8 340.4 138 341C139.2 341.6 140.4 342.2 141.6 342.7C142.8 343.3 144 343.9 145.2 344.4C146.4 345 147.6 345.6 148.8 346.1C150 346.7 151.2 347.2 152.4 347.7C153.6 348.3 154.8 348.8 156 349.4C157.2 349.9 158.4 350.4 159.6 351C160.8 351.5 162.1 352.1 163.3 352.6C164.5 353.2 165.7 353.7 166.9 354.3C168.1 354.8 169.3 355.4 170.6 356C171.8 356.6 173 357.2 174.2 357.8C175.4 358.4 176.7 359 177.9 359.6C179.1 360.2 180.3 360.8 181.6 361.4C182.8 362.1 184 362.7 185.3 363.3C186.5 363.9 187.7 364.5 189 365.2C190.2 365.8 191.5 366.4 192.7 367C193.9 367.6 195.2 368.2 196.4 368.8C197.7 369.4 198.9 370 200.2 370.6" fill="none" stroke="#ff0000" stroke-width="1.4" />
<path d="M200.2 370.6C198.9 371 197.6 371.4 196.3 371.7C194.9 372.1 193.6 372.4 192.2 372.7C190.9 373 189.5 373.3 188.2 373.5C186.8 373.8 185.4 374 184.1 374.2C182.7 374.4 181.3 374.6 179.9 374.7C178.5 374.9 177.2 375 175.8 375.1C174.4 375.2 173 375.3 171.6 375.3C170.2 375.4 168.9 375.4 167.5 375.4C166.1 375.4 164.7 375.3 163.4 375.2C162 375.1 160.7 375 159.3 374.8C158 374.6 156.7 374.4 155.3 374.2C154 373.9 152.7 373.6 151.4 373.3C150.1 373 148.9 372.6 147.6 372.2C146.3 371.7 145.1 371.3 143.9 370.8C142.6 370.2 141.4 369.7 140.2 369.1C139 368.5 137.8 367.9 136.7 367.2C135.5 366.6 134.3 365.9 133.2 365.2C132 364.5 130.9 363.7 129.7 363C128.6 362.2 127.5 361.4 126.4 360.6C125.2 359.8 124.1 358.9 123 358.1C121.9 357.2 120.8 356.3 119.8 355.5C118.7 354.6 117.6 353.7 116.5 352.8C115.4 351.9 114.3 350.9 113.3 350C112.2 349.1 111.1 348.2 110 347.3C108.9 346.4 107.8 345.5 106.7 344.7C105.7 343.8 104.6 343 103.4 342.1C102.3 341.3 101.2 340.5 100.1 339.7C99 338.9 97.8 338.2 96.7 337.5C95.5 336.8 94.4 336.1 93.2 335.5C92 334.9 90.8 334.3 89.6 333.7C88.4 333.2 87.2 332.7 85.9 332.2C84.7 331.7 83.4 331.3 82.2 330.9C80.9 330.5 79.6 330.1 78.4 329.7C77.1 329.4 75.8 329 74.5 328.7C73.2 328.4 71.8 328.1 70.5 327.9C69.2 327.6 67.9 327.4 66.5 327.1C65.2 326.9 63.8 326.7 62.5 326.5C61.1 326.3 59.8 326.1 58.4 325.9C57 325.7 55.6 325.6 54.3 325.4C52.9 325.2 51.5 325 50.1 324.9C48.7 324.7 47.3 324.6 45.9 324.4C44.5 324.2 43.1 324 41.7 323.9C40.3 323.7 38.9 323.5 37.5 323.3C36.1 323.1 34.7 322.9 33.3 322.7" fill="none" stroke="#ff0000" stroke-width="1.4" />
<path d="M33.3 373.3C34.7 373.5 36.1 373.7 37.5 374C39 374.2 40.4 374.5 41.8 374.7C43.2 375 44.6 375.3 46 375.5C47.4 375.8 48.8 376.1 50.2 376.4C51.6 376.7 53 377.1 54.4 377.4C55.8 377.7 57.2 378 58.6 378.4C60 378.7 61.4 379 62.8 379.4C64.2 379.7 65.5 380.1 66.9 380.4C68.3 380.8 69.7 381.1 71.1 381.5C72.5 381.8 73.9 382.2 75.3 382.5C76.7 382.9 78.1 383.2 79.5 383.5C80.9 383.9 82.2 384.2 83.6 384.6C85 384.9 86.4 385.2 87.8 385.5C89.2 385.9 90.6 386.2 92 386.5C93.4 386.8 94.8 387.1 96.2 387.4C97.6 387.7 99 387.9 100.4 388.2C101.8 388.5 103.2 388.7 104.6 389C106.1 389.2 107.5 389.4 108.9 389.6C110.3 389.9 111.7 390 113.1 390.2C114.6 390.4 116 390.6 117.4 390.7C118.8 390.8 120.3 391 121.7 391.1C123.1 391.2 124.6 391.2 126 391.3" fill="none" stroke="#ff0000" stroke-width="1.4" />
<path d="M33.3 390C34.7 389.9 36.1 389.8 37.5 389.7C38.9 389.6 40.3 389.5 41.7 389.4C43.1 389.3 44.5 389.1 45.9 389C47.3 388.9 48.7 388.8 50.1 388.7C51.5 388.5 52.9 388.4 54.3 388.3C55.7 388.2 57.1 388 58.5 387.9C59.9 387.7 61.3 387.6 62.7 387.5C64.1 387.3 65.5 387.2 66.9 387C68.3 386.9 69.7 386.7 71.1 386.5C72.5 386.4 73.9 386.2 75.3 386C76.7 385.9 78.1 385.7 79.5 385.5C80.9 385.3 82.3 385.2 83.7 385C85.1 384.8 86.4 384.6 87.8 384.4C89.2 384.2 90.6 384 92 383.8C93.4 383.6 94.8 383.3 96.2 383.1C97.6 382.9 98.9 382.7 100.3 382.4C101.7 382.2 103.1 382 104.5 381.7C105.9 381.5 107.3 381.2 108.6 381C110 380.7 111.4 380.5 112.8 380.2C114.1 379.9 115.5 379.6 116.9 379.4C118.3 379.1 119.7 378.8 121 378.5C122.4 378.2 123.8 377.9 125.1 377.6C126.5 377.3 127.9 377 129.2 376.6C130.6 376.3 132 376 133.3 375.6C134.7 375.3 136.1 374.9 137.4 374.6C138.8 374.2 140.1 373.9 141.5 373.5" fill="none" stroke="#ff0000" stroke-width="1.4" />
<path d="M33.3 394.4C34.7 394.4 36.1 394.4 37.5 394.5C38.9 394.5 40.3 394.5 41.7 394.6C43.1 394.6 44.5 394.7 45.9 394.8C47.3 394.9 48.7 395 50.1 395.1C51.5 395.2 52.9 395.3 54.2 395.4C55.6 395.5 57 395.6 58.4 395.8C59.8 395.9 61.2 396.1 62.6 396.2C64 396.4 65.4 396.5 66.8 396.7C68.2 396.8 69.6 397 71 397.2C72.4 397.3 73.8 397.5 75.2 397.7C76.6 397.9 78 398 79.4 398.2C80.8 398.4 82.2 398.6 83.6 398.8C85 398.9 86.4 399.1 87.8 399.3C89.2 399.5 90.6 399.6 92 399.8C93.4 400 94.8 400.2 96.2 400.3C97.6 400.5 99 400.7 100.4 400.8C101.8 401 103.2 401.1 104.6 401.3C106 401.4 107.3 401.6 108.7 401.7C110.1 401.9 111.5 402 112.9 402.1C114.3 402.3 115.7 402.4 117.1 402.6C118.5 402.7 119.9 402.9 121.3 403C122.7 403.1 124 403.3 125.4 403.4C126.8 403.6 128.2 403.8 129.6 403.9C131 404.1 132.4 404.2 133.8 404.4C135.1 404.6 136.5 404.8 137.9 405C139.3 405.2 140.7 405.3 142.1 405.6C143.4 405.8 144.8 406 146.2 406.2C147.6 406.4 149 406.7 150.3 406.9C151.7 407.2 153.1 407.5 154.5 407.7C155.8 408 157.2 408.3 158.6 408.6C160 408.9 161.3 409.3 162.7 409.6" fill="none" stroke="#ff0000" stroke-width="1.4" />
<path d="M162.7 409.6C161.3 409.8 159.9 410 158.6 410.1C157.2 410.3 155.8 410.4 154.4 410.5C153 410.6 151.6 410.6 150.3 410.7C148.9 410.7 147.5 410.7 146.1 410.7C144.7 410.7 143.3 410.7 142 410.6C140.6 410.6 139.2 410.5 137.8 410.5C136.4 410.4 135 410.3 133.6 410.3C132.2 410.2 130.8 410.1 129.5 410C128.1 409.9 126.7 409.8 125.3 409.7C123.9 409.6 122.5 409.5 121.1 409.4C119.7 409.4 118.3 409.3 116.9 409.2C115.5 409.1 114.1 409.1 112.8 409C111.4 409 110 408.9 108.6 408.9C107.2 408.9 105.8 408.9 104.4 408.9C103 408.9 101.6 408.9 100.2 409C98.8 409 97.4 409 96 409.1C94.6 409.2 93.2 409.2 91.8 409.3C90.4 409.4 89 409.5 87.7 409.6C86.3 409.6 84.9 409.7 83.5 409.8C82.1 410 80.7 410.1 79.3 410.2C77.9 410.3 76.5 410.4 75.1 410.5C73.7 410.7 72.3 410.8 70.9 410.9C69.5 411 68.1 411.2 66.7 411.3C65.3 411.4 63.9 411.6 62.5 411.7C61.1 411.8 59.7 411.9 58.4 412C57 412.2 55.6 412.3 54.2 412.4C52.8 412.5 51.4 412.6 50 412.7C48.6 412.8 47.2 412.9 45.8 413C44.4 413.1 43 413.2 41.6 413.2C40.3 413.3 38.9 413.4 37.5 413.4C36.1 413.4 34.7 413.5 33.3 413.5" fill="none" stroke="#ff0000" stroke-width="1.4" />
<path d="M33.3 405.8C39.5 405.1 45.6 404.4 51.8 403.6C55.4 403.1 59.1 402.5 62.7 402C66.3 401.5 70 400.9 73.6 400.4C77.2 399.8 80.9 399.3 84.5 398.7C88 398.1 91.5 397.6 95 397C99.3 396.3 103.7 395.4 108 394.6C111.3 394 114.7 393.3 118 392.8C120 392.5 122 392.4 124 391.9C124.7 391.7 125.3 391.5 126 391.3" fill="none" stroke="#ff0000" stroke-width="1.4" />
<path d="M33.3 414.1C34.7 414.1 36.1 414.1 37.5 414.1C38.9 414.1 40.3 414.1 41.7 414.1C43.1 414.1 44.5 414.2 45.9 414.2C47.2 414.2 48.6 414.3 50 414.3C51.4 414.4 52.8 414.4 54.2 414.5C55.6 414.6 57 414.6 58.4 414.7C59.8 414.8 61.2 414.9 62.6 415C63.9 415.1 65.3 415.2 66.7 415.3C68.1 415.4 69.5 415.5 70.9 415.6C72.3 415.7 73.7 415.8 75.1 415.9C76.4 416.1 77.8 416.2 79.2 416.3C80.6 416.5 82 416.6 83.4 416.7C84.8 416.9 86.2 417 87.5 417.1C88.9 417.3 90.3 417.4 91.7 417.6C93.1 417.7 94.5 417.9 95.9 418C97.3 418.2 98.6 418.3 100 418.5C101.4 418.6 102.8 418.8 104.2 418.9C105.6 419.1 107 419.2 108.3 419.4C109.7 419.5 111.1 419.7 112.5 419.8C113.9 420 115.3 420.1 116.7 420.3C118.1 420.4 119.4 420.6 120.8 420.7C122.2 420.8 123.6 421 125 421.1C126.4 421.3 127.8 421.4 129.2 421.5C130.5 421.7 131.9 421.8 133.3 421.9C134.7 422 136.1 422.2 137.5 422.3C138.9 422.4 140.3 422.5 141.7 422.6C143 422.7 144.4 422.8 145.8 422.9C147.2 423 148.6 423.1 150 423.2" fill="none" stroke="#ff0000" stroke-width="1.4" />
<path d="M33.3 418.5C34.7 418.6 36.1 418.6 37.5 418.7C38.9 418.8 40.3 418.8 41.7 418.9C43.1 419 44.4 419 45.8 419.1C47.3 419.2 48.7 419.2 50.1 419.3C51.5 419.4 52.9 419.4 54.3 419.5C55.7 419.6 57.1 419.7 58.5 419.7C60 419.8 61.4 419.9 62.8 419.9C64.3 420 65.7 420.1 67.1 420.2C68.6 420.3 70 420.3 71.5 420.4C72.9 420.5 74.4 420.6 75.8 420.7C77.3 420.8 78.7 420.9 80.2 421C81.7 421.1 83.2 421.2 84.6 421.3C86.1 421.4 87.6 421.6 89 421.8C90.4 422 91.8 422.2 93.2 422.5C94.5 422.8 95.9 423.1 97.1 423.6C98.3 424 99.5 424.5 100.7 425.2C101.7 425.8 102.7 426.6 103.6 427.4C104.5 428.3 105.3 429.4 106 430.4C106.8 431.5 107.4 432.8 107.9 434C108.5 435.3 108.9 436.7 109.3 438C109.7 439.4 110 440.9 110.3 442.4C110.6 443.9 110.8 445.4 111 446.9C111.2 448.4 111.3 449.9 111.4 451.4C111.5 452.9 111.6 454.4 111.7 455.9C111.7 457.3 111.8 458.7 111.8 460.1C111.8 461.4 111.9 462.7 111.9 464" fill="none" stroke="#ff0000" stroke-width="1.4" />
<path d="M111.9 464C111.7 462.6 111.5 461.1 111.2 459.7C111 458.3 110.8 456.8 110.6 455.4C110.3 453.9 110.1 452.5 109.8 451.1C109.5 449.7 109.2 448.3 108.9 446.9C108.5 445.6 108.1 444.3 107.7 443C107.3 441.7 106.8 440.4 106.2 439.2C105.7 438 105.1 436.9 104.4 435.8C103.7 434.7 103 433.6 102.1 432.7C101.3 431.7 100.3 430.8 99.3 430C98.3 429.2 97.2 428.5 96 427.8C94.8 427.2 93.6 426.6 92.3 426.1C91 425.5 89.6 425.1 88.2 424.7C86.8 424.3 85.3 423.9 83.9 423.6C82.4 423.3 80.9 423 79.4 422.8C78 422.6 76.5 422.4 75 422.2C73.5 422.1 72 421.9 70.6 421.8C69.1 421.7 67.7 421.6 66.3 421.5C65 421.5 63.6 421.4 62.3 421.4C61 421.3 59.7 421.3 58.4 421.2C57.1 421.2 55.8 421.2 54.5 421.1C53.2 421.1 51.9 421.1 50.6 421C49.3 421 48 421 46.7 420.9C45.3 420.9 43.9 420.8 42.5 420.8C41 420.7 39.5 420.6 38.1 420.5C36.5 420.4 34.9 420.3 33.3 420.2" fill="none" stroke="#ff0000" stroke-width="1.4" />
<path d="M33.3 300.4C34.7 300.7 36 300.9 37.4 301.2C38.8 301.5 40.1 301.8 41.5 302.1C42.8 302.4 44.2 302.7 45.5 303.1C46.9 303.4 48.2 303.8 49.5 304.1C50.9 304.5 52.2 304.9 53.5 305.2C54.8 305.6 56.1 306 57.5 306.5C58.8 306.9 60.1 307.3 61.4 307.7C62.7 308.2 64 308.6 65.3 309.1C66.6 309.5 67.9 310 69.1 310.5C70.4 310.9 71.7 311.4 73 311.9C74.3 312.4 75.6 312.9 76.8 313.4C78.1 313.9 79.4 314.4 80.6 314.9C81.9 315.5 83.2 316 84.5 316.5C85.7 317.1 87 317.6 88.2 318.2C89.5 318.7 90.8 319.3 92 319.8C93.3 320.4 94.5 320.9 95.8 321.5C97.1 322.1 98.3 322.6 99.6 323.2C100.8 323.8 102.1 324.4 103.3 324.9C104.6 325.5 105.9 326.1 107.1 326.7C108.4 327.3 109.6 327.9 110.9 328.5C112.1 329 113.4 329.6 114.6 330.2C115.9 330.8 117.2 331.4 118.4 332C119.7 332.6 120.9 333.2 122.2 333.8C123.5 334.4 124.7 334.9 126 335.5C127.2 336.1 128.5 336.7 129.8 337.3C131 337.9 132.3 338.4 133.6 339C134.8 339.6 136.1 340.2 137.3 340.7C138.6 341.3 139.9 341.9 141.1 342.4C142.4 343 143.6 343.5 144.9 344.1C146.1 344.6 147.4 345.2 148.6 345.7C149.9 346.2 151.1 346.8 152.4 347.3C153.6 347.8 154.8 348.3 156.1 348.8C157.3 349.3 158.5 349.8 159.8 350.3C161 350.8 162.2 351.3 163.4 351.8C164.6 352.3 165.8 352.8 167 353.4C168.2 353.9 169.4 354.5 170.6 355.2C171.8 355.9 173 356.7 174.1 357.5C175.3 358.4 176.4 359.4 177.6 360.4" fill="none" stroke="#00aa00" stroke-width="1.4" />
<path d="M177.6 360.4C176.4 361.1 175.3 361.9 174 362.5C172.8 363 171.6 363.5 170.3 363.8C169 364.2 167.6 364.4 166.3 364.5C165 364.6 163.6 364.7 162.3 364.6C160.9 364.6 159.5 364.5 158.1 364.3C156.8 364.2 155.4 363.9 154 363.6C152.6 363.3 151.3 363 149.9 362.5C148.6 362.1 147.2 361.7 145.9 361.1C144.6 360.6 143.3 360.1 142.1 359.4C140.8 358.8 139.6 358.2 138.4 357.5C137.2 356.8 136.1 356 134.9 355.3C133.8 354.5 132.7 353.7 131.6 352.8C130.5 352 129.5 351.1 128.4 350.3C127.4 349.4 126.3 348.5 125.3 347.6C124.2 346.6 123.2 345.7 122.2 344.8C121.1 343.9 120.1 342.9 119 342C118 341 116.9 340.1 115.8 339.2C114.7 338.3 113.6 337.3 112.5 336.4C111.4 335.5 110.3 334.7 109.1 333.8C108 333 106.8 332.2 105.6 331.4C104.4 330.7 103.2 329.9 102 329.3C100.8 328.6 99.6 328 98.4 327.4C97.1 326.9 95.9 326.4 94.6 325.9C93.4 325.4 92.1 324.9 90.8 324.5C89.5 324.1 88.2 323.7 86.9 323.4C85.6 323 84.3 322.7 83 322.3C81.7 322 80.3 321.7 79 321.5C77.7 321.2 76.3 321 75 320.7C73.6 320.5 72.2 320.3 70.9 320.1C69.5 319.9 68.1 319.7 66.8 319.5C65.4 319.3 64 319.1 62.6 319C61.3 318.8 59.9 318.6 58.5 318.5C57.1 318.3 55.7 318.2 54.3 318C52.9 317.9 51.5 317.7 50.1 317.5C48.7 317.4 47.3 317.2 45.9 317C44.5 316.9 43.1 316.7 41.7 316.5C40.3 316.3 38.9 316.1 37.5 315.9C36.1 315.7 34.7 315.4 33.3 315.2" fill="none" stroke="#00aa00" stroke-width="1.4" />
<path d="M33.3 357C42.2 356.2 51.1 355.4 60 354.6C70 353.7 80.1 353.2 90 351.7C95 350.9 100 350 105 349C109.3 348.1 113.7 347.1 118 346.2" fill="none" stroke="#00aa00" stroke-width="1.4" />
<path d="M33.3 391C34.7 391 36.1 391 37.5 391C38.9 391 40.4 391 41.8 390.9C43.2 390.9 44.6 390.9 46 390.8C47.4 390.8 48.8 390.8 50.2 390.7C51.6 390.7 53 390.6 54.5 390.6C55.9 390.5 57.3 390.4 58.7 390.4C60.1 390.3 61.5 390.2 62.9 390.1C64.3 390 65.7 389.9 67.1 389.8C68.5 389.7 69.9 389.6 71.3 389.5C72.7 389.4 74.1 389.3 75.5 389.2C76.9 389.1 78.3 388.9 79.7 388.8C81.1 388.7 82.5 388.5 83.9 388.4C85.3 388.3 86.7 388.1 88.1 388C89.5 387.8 90.9 387.6 92.3 387.5C93.7 387.3 95.1 387.1 96.5 387C97.9 386.8 99.3 386.6 100.7 386.4C102.1 386.2 103.5 386.1 104.9 385.9C106.3 385.7 107.7 385.5 109.1 385.3C110.5 385.1 111.9 384.8 113.3 384.6C114.6 384.4 116 384.2 117.4 384C118.8 383.7 120.2 383.5 121.6 383.3C123 383 124.4 382.8 125.7 382.6C127.1 382.3 128.5 382.1 129.9 381.8C131.3 381.6 132.7 381.3 134.1 381.1C135.4 380.8 136.8 380.5 138.2 380.3C139.6 380 141 379.7 142.3 379.4C143.7 379.2 145.1 378.9 146.5 378.6C147.9 378.3 149.2 378 150.6 377.7C152 377.4 153.4 377.1 154.7 376.8C156.1 376.5 157.5 376.2 158.9 375.9C160.2 375.6 161.6 375.3 163 375C164.4 374.6 165.7 374.3 167.1 374C168.5 373.7 169.8 373.3 171.2 373" fill="none" stroke="#00aa00" stroke-width="1.4" />
<path d="M33.3 374.2C34.7 374.5 36.1 374.7 37.4 375C38.8 375.3 40.2 375.6 41.6 375.8C43 376.1 44.3 376.4 45.7 376.7C47.1 377 48.5 377.3 49.8 377.6C51.2 377.9 52.6 378.2 54 378.5C55.3 378.8 56.7 379.1 58.1 379.5C59.4 379.8 60.8 380.1 62.2 380.4C63.5 380.8 64.9 381.1 66.3 381.4C67.7 381.7 69 382.1 70.4 382.4C71.8 382.8 73.1 383.1 74.5 383.4C75.8 383.8 77.2 384.1 78.6 384.5C79.9 384.8 81.3 385.2 82.7 385.5C84 385.9 85.4 386.2 86.8 386.6C88.1 386.9 89.5 387.3 90.8 387.7C92.2 388 93.6 388.4 94.9 388.7C96.3 389.1 97.6 389.5 99 389.8C100.4 390.2 101.7 390.6 103.1 390.9C104.4 391.3 105.8 391.7 107.2 392C108.5 392.4 109.9 392.8 111.2 393.1C112.6 393.5 114 393.9 115.3 394.2C116.7 394.6 118 395 119.4 395.3C120.8 395.7 122.1 396.1 123.5 396.4C124.8 396.8 126.2 397.1 127.6 397.5C128.9 397.9 130.3 398.2 131.7 398.6C133 398.9 134.4 399.3 135.7 399.7C137.1 400 138.5 400.4 139.8 400.7C141.2 401.1 142.5 401.4 143.9 401.8C145.3 402.1 146.6 402.5 148 402.8" fill="none" stroke="#00aa00" stroke-width="1.4" />
<path d="M100 397.3C105 396.9 110 396.5 115 396C120 395.5 125 395 130 394.5C133.3 394.2 136.7 394 140 393.5C143.4 393 146.7 392.4 150 391.6C151.5 391.2 153 390.8 154.5 390.4" fill="none" stroke="#00aa00" stroke-width="1.4" />
<path d="M33.3 407.7C40.7 407.1 48.1 406.6 55.5 405.8C64 404.9 72.4 403.5 80.9 402.6C87.3 401.9 93.6 401.3 100 400.7C106.7 400.1 113.3 399.6 120 399C125 398.6 130 398.1 135 397.6" fill="none" stroke="#00aa00" stroke-width="1.4" />
<path d="M33.3 405C40.7 406.4 48.1 407.9 55.5 409.3C59.7 410.1 64 410.8 68.2 411.6C72.4 412.4 76.7 413.3 80.9 414.1C85.1 414.9 89.4 415.7 93.6 416.6C95.7 417 97.9 417.4 100 417.9C103.3 418.6 106.7 419.5 110 420.3" fill="none" stroke="#00aa00" stroke-width="1.4" />
<path d="M33.3 416C40.7 416.3 48.2 416 55.5 416.9C59.8 417.5 64 418.3 68.2 419.2C72.5 420.1 76.8 421 80.9 422.4C83.1 423.1 85.2 424 87.3 424.9C89.2 425.7 91.3 426.4 93 427.6C95.5 429.3 97.3 432 99.1 434.5C100.5 436.5 101.7 438.6 103 440.7" fill="none" stroke="#00aa00" stroke-width="1.4" />
<path d="M204.4 359.8C203.2 360.4 202 361.1 200.7 361.6C199.5 362.1 198.2 362.4 196.9 362.8C195.6 363.1 194.3 363.3 192.9 363.6C191.6 363.8 190.3 364 188.9 364.2C187.6 364.3 186.2 364.4 184.9 364.5C183.5 364.6 182.1 364.7 180.8 364.7C179.4 364.7 178 364.7 176.7 364.6C175.3 364.5 173.9 364.4 172.5 364.3C171.2 364.2 169.8 364 168.5 363.8C167.1 363.6 165.8 363.4 164.5 363.1C163.1 362.8 161.8 362.5 160.5 362.1C159.2 361.8 157.9 361.4 156.6 361C155.3 360.6 154.1 360.1 152.8 359.6C151.5 359.1 150.3 358.6 149 358.1C147.8 357.5 146.6 356.9 145.4 356.3C144.1 355.7 142.9 355.1 141.7 354.4C140.6 353.7 139.4 353 138.2 352.3C137 351.6 135.9 350.8 134.7 350C133.6 349.3 132.4 348.4 131.3 347.6C130.2 346.8 129.1 345.9 128 345.1C126.9 344.2 125.8 343.3 124.7 342.5C123.6 341.6 122.5 340.7 121.4 339.8C120.3 338.9 119.2 338 118.1 337.1C117 336.2 115.9 335.3 114.8 334.4C113.8 333.6 112.7 332.7 111.5 331.8C110.4 331 109.3 330.2 108.2 329.4C107.1 328.6 106 327.8 104.8 327C103.7 326.3 102.5 325.6 101.4 324.9C100.2 324.2 99 323.6 97.8 323C96.6 322.4 95.4 321.8 94.1 321.3C92.9 320.8 91.7 320.3 90.4 319.8C89.1 319.4 87.9 319 86.6 318.6C85.3 318.2 84 317.8 82.7 317.5C81.4 317.1 80.1 316.8 78.7 316.5C77.4 316.3 76.1 316 74.7 315.8C73.4 315.5 72 315.3 70.7 315.1C69.3 314.9 67.9 314.7 66.6 314.5C65.2 314.3 63.8 314.2 62.4 314C61 313.9 59.7 313.7 58.3 313.6C56.9 313.4 55.5 313.3 54.1 313.2C52.7 313 51.3 312.9 49.9 312.8C48.5 312.7 47.1 312.5 45.7 312.4C44.4 312.3 43 312.1 41.6 312C40.2 311.8 38.8 311.7 37.4 311.5C36 311.4 34.7 311.2 33.3 311" fill="none" stroke="#0000ff" stroke-width="1.4" />
<path d="M33.3 312.3C34.6 312.8 35.9 313.3 37.2 313.7C38.5 314.2 39.8 314.6 41.1 315.1C42.4 315.5 43.7 315.9 45 316.3C46.3 316.8 47.7 317.2 49 317.6C50.3 318 51.6 318.4 52.9 318.8C54.2 319.1 55.6 319.5 56.9 319.9C58.2 320.3 59.5 320.6 60.9 321C62.2 321.4 63.5 321.7 64.9 322.1C66.2 322.4 67.5 322.8 68.9 323.1C70.2 323.5 71.5 323.8 72.9 324.2C74.2 324.5 75.5 324.9 76.9 325.2C78.2 325.5 79.6 325.9 80.9 326.2C82.3 326.5 83.6 326.9 84.9 327.2C86.3 327.6 87.6 327.9 89 328.2C90.3 328.6 91.7 328.9 93 329.3C94.4 329.6 95.7 329.9 97.1 330.3C98.4 330.6 99.8 331 101.1 331.3C102.5 331.7 103.9 332.1 105.2 332.4C106.6 332.8 107.9 333.2 109.3 333.5C110.6 333.9 112 334.3 113.3 334.6C114.7 335 116 335.3 117.4 335.7C118.8 336.1 120.1 336.4 121.5 336.8C122.8 337.1 124.2 337.5 125.5 337.8C126.9 338.2 128.2 338.5 129.6 338.8C130.9 339.2 132.3 339.5 133.7 339.8C135 340.1 136.4 340.4 137.7 340.7C139.1 341 140.4 341.3 141.8 341.6C143.1 341.9 144.5 342.1 145.8 342.4C147.2 342.7 148.5 342.9 149.9 343.2C151.2 343.4 152.5 343.6 153.9 343.9C155.2 344.1 156.6 344.4 157.9 344.6C159.2 344.8 160.6 345.1 161.9 345.3C163.2 345.6 164.6 345.8 165.9 346.1C167.2 346.3 168.6 346.6 169.9 346.9C171.2 347.2 172.5 347.5 173.8 347.8C175.1 348.1 176.5 348.4 177.8 348.8C179.1 349.1 180.4 349.5 181.7 349.8C183 350.2 184.2 350.6 185.5 351.1C186.8 351.5 188.1 351.9 189.4 352.4C190.7 352.9 191.9 353.4 193.2 354C194.5 354.5 195.7 355.1 197 355.7C198.2 356.3 199.5 357 200.7 357.6C202 358.3 203.2 359.1 204.4 359.8" fill="none" stroke="#0000ff" stroke-width="1.4" />
<path d="M33.3 356.2C34.7 356.1 36 356 37.4 356C38.7 355.9 40.1 355.8 41.5 355.7C42.8 355.6 44.2 355.5 45.5 355.3C46.9 355.2 48.3 355.1 49.6 355C51 354.9 52.4 354.7 53.7 354.6C55.1 354.5 56.4 354.3 57.8 354.2C59.2 354 60.5 353.9 61.9 353.7C63.3 353.6 64.6 353.4 66 353.3C67.3 353.1 68.7 353 70.1 352.8C71.4 352.6 72.8 352.4 74.2 352.3C75.5 352.1 76.9 351.9 78.2 351.7C79.6 351.6 81 351.4 82.3 351.2C83.7 351 85.1 350.8 86.4 350.6C87.8 350.4 89.1 350.3 90.5 350.1C91.9 349.9 93.2 349.7 94.6 349.5C96 349.3 97.3 349.1 98.7 348.9C100.1 348.7 101.4 348.5 102.8 348.3C104.1 348.1 105.5 347.9 106.9 347.7C108.2 347.5 109.6 347.3 111 347.1C112.3 346.9 113.7 346.7 115.1 346.5C116.4 346.3 117.8 346.1 119.1 345.9C120.5 345.7 121.9 345.5 123.2 345.3C124.6 345.1 126 345 127.3 344.8C128.7 344.6 130 344.4 131.4 344.2C132.8 344 134.1 343.8 135.5 343.7C136.9 343.5 138.2 343.3 139.6 343.1C140.9 342.9 142.3 342.8 143.7 342.6C145 342.4 146.4 342.3 147.8 342.1C149.1 341.9 150.5 341.8 151.8 341.6C153.2 341.5 154.6 341.3 155.9 341.1C157.3 341 158.7 340.8 160 340.7C161.4 340.5 162.7 340.4 164.1 340.2C165.5 340.1 166.8 339.9 168.2 339.8C169.5 339.6 170.9 339.5 172.3 339.4C173.6 339.2 175 339.1 176.3 338.9C177.7 338.8 179.1 338.6 180.4 338.5C181.8 338.3 183.1 338.2 184.5 338C185.9 337.9 187.2 337.7 188.6 337.6C189.9 337.4 191.3 337.3 192.7 337.1C194 337 195.4 336.8 196.7 336.7C198.1 336.5 199.5 336.4 200.8 336.2C202.2 336 203.5 335.9 204.9 335.7C206.2 335.6 207.6 335.4 209 335.2C210.3 335 211.7 334.9 213 334.7C214.4 334.5 215.7 334.3 217.1 334.2C218.4 334 219.8 333.8 221.2 333.6C222.5 333.4 223.9 333.2 225.2 333C226.6 332.8 227.9 332.6 229.3 332.4C230.6 332.2 232 332 233.3 331.8C234.7 331.6 236.1 331.3 237.4 331.1C238.8 330.9 240.1 330.6 241.5 330.4C242.8 330.2 244.2 329.9 245.5 329.7C246.9 329.4 248.2 329.2 249.6 328.9C250.9 328.6 252.3 328.4 253.6 328.1C255 327.8 256.3 327.5 257.7 327.2C259 326.9 260.4 326.6 261.7 326.3C263.1 326 264.4 325.7 265.8 325.4C267.1 325.1 268.5 324.7 269.8 324.4" fill="none" stroke="#0000ff" stroke-width="1.4" />
<path d="M223.6 371.2C222.3 371.5 220.9 371.9 219.6 372.2C218.2 372.5 216.9 372.8 215.5 373.1C214.1 373.4 212.8 373.7 211.4 374C210.1 374.4 208.7 374.6 207.4 374.9C206 375.2 204.7 375.5 203.3 375.8C201.9 376.1 200.6 376.4 199.2 376.6C197.9 376.9 196.5 377.2 195.1 377.5C193.8 377.7 192.4 378 191 378.2C189.7 378.5 188.3 378.8 186.9 379C185.6 379.2 184.2 379.5 182.8 379.7C181.5 380 180.1 380.2 178.7 380.4C177.4 380.7 176 380.9 174.6 381.1C173.2 381.3 171.9 381.5 170.5 381.8C169.1 382 167.8 382.2 166.4 382.4C165 382.6 163.6 382.8 162.3 383C160.9 383.2 159.5 383.4 158.1 383.5C156.7 383.7 155.4 383.9 154 384.1C152.6 384.3 151.2 384.4 149.9 384.6C148.5 384.8 147.1 384.9 145.7 385.1C144.3 385.2 143 385.4 141.6 385.6C140.2 385.7 138.8 385.8 137.4 386C136 386.1 134.7 386.3 133.3 386.4C131.9 386.5 130.5 386.7 129.1 386.8C127.7 386.9 126.3 387 125 387.1C123.6 387.3 122.2 387.4 120.8 387.5C119.4 387.6 118 387.7 116.6 387.8C115.3 387.9 113.9 388 112.5 388.1C111.1 388.2 109.7 388.2 108.3 388.3C106.9 388.4 105.5 388.5 104.2 388.5C102.8 388.6 101.4 388.7 100 388.8C98.6 388.8 97.2 388.9 95.8 388.9C94.4 389 93 389 91.6 389.1C90.3 389.1 88.9 389.2 87.5 389.2C86.1 389.2 84.7 389.3 83.3 389.3C81.9 389.3 80.5 389.4 79.1 389.4C77.7 389.4 76.4 389.4 75 389.4C73.6 389.5 72.2 389.5 70.8 389.5C69.4 389.5 68 389.5 66.6 389.5C65.2 389.5 63.8 389.5 62.5 389.4C61.1 389.4 59.7 389.4 58.3 389.4C56.9 389.4 55.5 389.4 54.1 389.3C52.7 389.3 51.3 389.3 50 389.2C48.6 389.2 47.2 389.2 45.8 389.1C44.4 389.1 43 389 41.6 389C40.2 388.9 38.8 388.9 37.5 388.8C36.1 388.7 34.7 388.7 33.3 388.6" fill="none" stroke="#0000ff" stroke-width="1.4" />
<path d="M33.3 392.2C38.4 392 43.6 391.8 48.7 391.6C54.3 391.4 59.8 391.1 65.4 390.9C70.3 390.7 75.1 390.5 80 390.4C86.7 390.2 93.3 390.1 100 390C106.7 389.9 113.3 389.9 120 389.8C135.5 389.6 150.9 389.2 166.4 389C174.3 388.9 182.1 388.8 190 388.8C193.3 388.8 196.7 388.4 200 388.8C201.5 389 203 389.4 204.5 389.7" fill="none" stroke="#0000ff" stroke-width="1.4" />
<path d="M204.5 389.7C203.2 390.2 201.9 390.6 200.6 391.1C199.3 391.5 198 392 196.7 392.4C195.3 392.9 194 393.3 192.7 393.7C191.4 394.1 190.1 394.5 188.7 394.9C187.4 395.3 186.1 395.7 184.8 396C183.4 396.4 182.1 396.8 180.8 397.1C179.5 397.5 178.1 397.8 176.8 398.1C175.5 398.4 174.1 398.7 172.8 399C171.4 399.3 170.1 399.6 168.8 399.9C167.4 400.2 166.1 400.4 164.7 400.7C163.4 400.9 162 401.1 160.7 401.4C159.3 401.6 158 401.8 156.6 402C155.3 402.2 153.9 402.4 152.6 402.6C151.2 402.8 149.9 402.9 148.5 403.1C147.1 403.2 145.8 403.4 144.4 403.5C143.1 403.7 141.7 403.8 140.3 403.9C139 404.1 137.6 404.2 136.3 404.3C134.9 404.4 133.5 404.5 132.2 404.6C130.8 404.7 129.4 404.7 128.1 404.8C126.7 404.9 125.3 404.9 123.9 405C122.6 405.1 121.2 405.1 119.8 405.2C118.5 405.2 117.1 405.3 115.7 405.3C114.3 405.3 113 405.4 111.6 405.4C110.2 405.4 108.8 405.5 107.5 405.5C106.1 405.5 104.7 405.6 103.3 405.6C102 405.6 100.6 405.6 99.2 405.7C97.8 405.7 96.5 405.7 95.1 405.7C93.7 405.8 92.3 405.8 90.9 405.8C89.6 405.8 88.2 405.9 86.8 405.9C85.4 405.9 84.1 406 82.7 406C81.3 406.1 79.9 406.1 78.6 406.2C77.2 406.2 75.8 406.3 74.4 406.3C73 406.4 71.7 406.5 70.3 406.5C68.9 406.6 67.5 406.7 66.2 406.8C64.8 406.9 63.4 406.9 62 407C60.7 407.1 59.3 407.2 57.9 407.3C56.6 407.4 55.2 407.5 53.8 407.6C52.4 407.7 51.1 407.8 49.7 407.9C48.3 408 47 408.1 45.6 408.2C44.2 408.3 42.9 408.4 41.5 408.5C40.1 408.6 38.8 408.7 37.4 408.8C36 408.9 34.7 409 33.3 409.1" fill="none" stroke="#0000ff" stroke-width="1.4" />
<path d="M33.3 377.5C34.6 377.8 36 378.1 37.3 378.4C38.6 378.7 40 379 41.3 379.3C42.7 379.6 44 380 45.4 380.3C46.7 380.6 48 380.9 49.4 381.2C50.7 381.5 52.1 381.8 53.4 382.1C54.8 382.4 56.1 382.7 57.5 383C58.8 383.3 60.2 383.6 61.5 383.9C62.9 384.2 64.2 384.5 65.6 384.8C66.9 385.1 68.3 385.4 69.6 385.7C71 386 72.3 386.3 73.7 386.5C75 386.8 76.4 387.1 77.7 387.4C79.1 387.7 80.5 388 81.8 388.3C83.2 388.5 84.5 388.8 85.9 389.1C87.2 389.4 88.6 389.6 89.9 389.9C91.3 390.2 92.7 390.5 94 390.7C95.4 391 96.7 391.3 98.1 391.5C99.4 391.8 100.8 392 102.2 392.3C103.5 392.5 104.9 392.8 106.2 393C107.6 393.3 108.9 393.5 110.3 393.8C111.6 394 113 394.2 114.4 394.5C115.7 394.7 117.1 394.9 118.4 395.2C119.8 395.4 121.1 395.6 122.5 395.8C123.8 396.1 125.2 396.3 126.5 396.5C127.9 396.8 129.2 397 130.6 397.2C131.9 397.5 133.3 397.7 134.6 398C136 398.2 137.3 398.4 138.7 398.7C140 399 141.4 399.2 142.7 399.5C144.1 399.8 145.4 400 146.7 400.3C148.1 400.6 149.4 400.9 150.8 401.2C152.1 401.5 153.5 401.9 154.8 402.2C156.1 402.5 157.5 402.9 158.8 403.3C160.1 403.6 161.5 404 162.8 404.4" fill="none" stroke="#0000ff" stroke-width="1.4" />
<path d="M162.8 404.4C161.4 404.6 160 404.9 158.7 405.1C157.3 405.3 155.9 405.5 154.5 405.7C153.2 405.9 151.8 406.1 150.4 406.3C149 406.4 147.6 406.6 146.2 406.7C144.9 406.8 143.5 406.9 142.1 407C140.7 407.2 139.3 407.2 137.9 407.3C136.5 407.4 135.1 407.5 133.8 407.5C132.4 407.6 131 407.6 129.6 407.7C128.2 407.7 126.8 407.7 125.4 407.8C124 407.8 122.6 407.8 121.2 407.8C119.8 407.8 118.4 407.8 117.1 407.8C115.7 407.7 114.3 407.7 112.9 407.7C111.5 407.7 110.1 407.6 108.7 407.6C107.3 407.5 105.9 407.5 104.5 407.4C103.1 407.4 101.7 407.3 100.3 407.2C98.9 407.2 97.5 407.1 96.1 407C94.7 406.9 93.3 406.9 91.9 406.8C90.5 406.7 89.1 406.6 87.7 406.5C86.3 406.4 84.9 406.4 83.5 406.3C82.1 406.2 80.7 406.1 79.3 406C77.9 405.9 76.5 405.8 75.1 405.7C73.7 405.6 72.3 405.5 70.9 405.4C69.5 405.4 68.1 405.3 66.7 405.2C65.3 405.1 63.9 405 62.6 404.9C61.2 404.8 59.8 404.8 58.4 404.7C57 404.6 55.6 404.5 54.2 404.5C52.8 404.4 51.4 404.3 50 404.3C48.6 404.2 47.2 404.2 45.8 404.1C44.4 404.1 43 404 41.6 404C40.2 404 38.9 403.9 37.5 403.9C36.1 403.9 34.7 403.9 33.3 403.9" fill="none" stroke="#0000ff" stroke-width="1.4" />
<path d="M33.3 403.9C34.7 404.2 36.1 404.5 37.5 404.8C38.9 405.1 40.3 405.4 41.7 405.7C43.1 405.9 44.5 406.2 45.9 406.5C47.3 406.8 48.7 407 50.1 407.3C51.5 407.6 52.9 407.8 54.3 408.1C55.7 408.3 57.1 408.6 58.5 408.8C59.9 409.1 61.3 409.3 62.7 409.5C64.1 409.8 65.6 410 67 410.2C68.4 410.5 69.8 410.7 71.2 410.9C72.6 411.1 74 411.3 75.4 411.6C76.8 411.8 78.3 412 79.7 412.2C81.1 412.4 82.5 412.6 83.9 412.8C85.3 413 86.7 413.2 88.2 413.4C89.6 413.6 91 413.8 92.4 414C93.8 414.2 95.2 414.4 96.6 414.6C98.1 414.8 99.5 415 100.9 415.2C102.3 415.4 103.7 415.6 105.1 415.8C106.5 415.9 108 416.1 109.4 416.3C110.8 416.5 112.2 416.7 113.6 416.9C115 417.1 116.4 417.3 117.9 417.4C119.3 417.6 120.7 417.8 122.1 418C123.5 418.2 124.9 418.4 126.3 418.6C127.7 418.8 129.1 419 130.5 419.1C132 419.3 133.4 419.5 134.8 419.7C136.2 419.9 137.6 420.1 139 420.3C140.4 420.5 141.8 420.7 143.2 420.9C144.6 421.1 146 421.3 147.4 421.5" fill="none" stroke="#0000ff" stroke-width="1.4" />
<path d="M147.4 421.5C146 421.7 144.6 422 143.2 422.1C141.8 422.3 140.4 422.4 139 422.5C137.6 422.6 136.2 422.7 134.8 422.7C133.4 422.8 132 422.8 130.5 422.8C129.1 422.8 127.7 422.7 126.3 422.6C124.9 422.6 123.5 422.5 122.1 422.4C120.7 422.3 119.3 422.1 117.9 422C116.5 421.8 115.1 421.7 113.7 421.5C112.2 421.3 110.8 421.1 109.4 420.9C108 420.7 106.6 420.5 105.2 420.2C103.8 420 102.4 419.8 101 419.5C99.5 419.3 98.1 419.1 96.7 418.8C95.3 418.6 93.9 418.3 92.5 418.1C91.1 417.8 89.7 417.6 88.3 417.3C86.8 417.1 85.4 416.8 84 416.5C82.6 416.3 81.2 416 79.8 415.8C78.4 415.5 77 415.2 75.6 415C74.1 414.7 72.7 414.5 71.3 414.2C69.9 414 68.5 413.7 67.1 413.4C65.7 413.2 64.3 412.9 62.9 412.7C61.5 412.4 60 412.2 58.6 412C57.2 411.7 55.8 411.5 54.4 411.2C53 411 51.6 410.8 50.2 410.6C48.8 410.3 47.4 410.1 46 409.9C44.5 409.7 43.1 409.5 41.7 409.3C40.3 409.1 38.9 408.9 37.5 408.7C36.1 408.5 34.7 408.4 33.3 408.2" fill="none" stroke="#0000ff" stroke-width="1.4" />
<path d="M33.3 415.4C34.8 415.3 36.2 415.2 37.7 415.1C39.1 415.1 40.6 415.2 42 415.2C43.4 415.3 44.8 415.5 46.2 415.7C47.6 415.9 49 416.1 50.3 416.5C51.7 416.8 53 417.1 54.4 417.5C55.7 417.9 57 418.4 58.3 418.9C59.6 419.4 60.9 419.9 62.1 420.5C63.4 421.1 64.6 421.7 65.9 422.4C67.1 423.1 68.3 423.8 69.5 424.5C70.7 425.3 71.8 426 73 426.9C74.1 427.7 75.3 428.5 76.4 429.4C77.5 430.3 78.6 431.2 79.7 432.1C80.7 433 81.8 434 82.8 435C83.9 436 84.9 437 85.9 438C86.9 439 87.8 440.1 88.8 441.2C89.8 442.2 90.7 443.3 91.6 444.4C92.5 445.5 93.4 446.6 94.3 447.7C95.2 448.8 96.1 449.9 97 451C97.8 452.1 98.7 453.2 99.5 454.3C100.4 455.4 101.2 456.5 102 457.6C102.8 458.7 103.6 459.8 104.4 460.9C105.1 461.9 105.9 463 106.7 464" fill="none" stroke="#0000ff" stroke-width="1.4" />
<path d="M106.7 464C106.8 462.6 107 461.1 107 459.7C107.1 458.2 107.1 456.7 107 455.3C106.9 453.8 106.8 452.3 106.6 450.8C106.3 449.4 106.1 447.9 105.7 446.5C105.4 445.1 105 443.7 104.5 442.3C104.1 440.9 103.6 439.6 102.9 438.3C102.4 437 101.7 435.8 101 434.6C100.2 433.5 99.4 432.4 98.5 431.3C97.7 430.3 96.7 429.3 95.7 428.5C94.7 427.6 93.6 426.8 92.5 426.1C91.4 425.3 90.2 424.7 89 424.1C87.7 423.5 86.4 423 85.1 422.5C83.8 422 82.4 421.6 81.1 421.3C79.7 420.9 78.2 420.6 76.8 420.3C75.4 420.1 73.9 419.8 72.4 419.6C70.9 419.4 69.5 419.3 68 419.2C66.5 419 65 418.9 63.5 418.9C62 418.8 60.4 418.7 58.9 418.7C57.4 418.6 55.9 418.6 54.4 418.6C53 418.6 51.5 418.5 50 418.5C48.5 418.5 47.1 418.5 45.6 418.5C44.2 418.4 42.8 418.4 41.4 418.3C40 418.3 38.6 418.2 37.2 418.1C35.9 418.1 34.6 417.9 33.3 417.8" fill="none" stroke="#0000ff" stroke-width="1.4" />
<path d="M33.3 424.5L66 424.5" fill="none" stroke="#0000ff" stroke-width="1.4" />
<path d="M33.3 339.1L34.1 339.1L34.9 339.1L35.8 339.1L36.6 339.2L37.4 339.2L38.2 339.2L39 339.2L39.9 339.2L40.7 339.2L41.5 339.2L42.3 339.2L43.1 339.2L43.9 339.2L44.8 339.3L45.6 339.3L46.4 339.3L47.2 339.3L48 339.3L48.9 339.3L49.7 339.3L50.5 339.3L51.3 339.3L52.1 339.3L53 339.3L53.8 339.3L54.6 339.3L55.4 339.3L56.2 339.3L57.1 339.3L57.9 339.3L58.7 339.3L59.5 339.3L60.3 339.3L61.1 339.3L61.9 339.3L62.7 339.3L63.6 339.4L64.4 339.4L65.2 339.4L66 339.4L66.8 339.4L67.7 339.4L68.5 339.3L69.3 339.3L70.1 339.3L70.9 339.3L71.8 339.3L72.6 339.3L73.4 339.3L74.2 339.3L75 339.3L75.9 339.3L76.7 339.3L77.5 339.3L78.3 339.3L79.1 339.3L79.9 339.3L80.8 339.3L81.6 339.3L82.4 339.3L83.2 339.3L84 339.3L84.9 339.3L85.7 339.2L86.5 339.2L87.3 339.2L88.1 339.2L89 339.2L89.8 339.2L90.6 339.2L91.4 339.2L92.2 339.2L93.1 339.1L93.9 339.1L94.7 339.1L95.5 339.1L96.3 339.1L97.2 339.1L98 339.1L98.8 339.1L99.6 339.1L100.4 339L101.2 339L102.1 339L102.9 339L103.7 339L104.5 338.9L105.3 338.9L106.2 338.9L107 338.9L107.8 338.9L108.6 338.8L109.4 338.8L110.3 338.8L111.1 338.8L111.9 338.8L112.7 338.7L113.5 338.7L114.4 338.7L115.2 338.7L116 338.7L116.8 338.6L117.6 338.6" fill="none" stroke="#ff00ff" stroke-width="1.3" stroke-dasharray="1.4 4.2"/>
<path d="M33.3 339.1L34.1 339.1L34.9 339.1L35.8 339.1L36.6 339.2L37.4 339.2L38.2 339.2L39 339.2L39.9 339.2L40.7 339.2L41.5 339.2L42.3 339.2L43.1 339.2L43.9 339.2L44.8 339.3L45.6 339.3L46.4 339.3L47.2 339.3L48 339.3L48.9 339.3L49.7 339.3L50.5 339.3L51.3 339.3L52.1 339.3L53 339.3L53.8 339.3L54.6 339.3L55.4 339.3L56.2 339.3L57.1 339.3L57.9 339.3L58.7 339.3L59.5 339.3L60.3 339.3L61.1 339.3L61.9 339.3L62.7 339.3L63.6 339.4L64.4 339.4L65.2 339.4L66 339.4L66.8 339.4L67.7 339.4L68.5 339.3L69.3 339.3L70.1 339.3L70.9 339.3L71.8 339.3L72.6 339.3L73.4 339.3L74.2 339.3L75 339.3L75.9 339.3L76.7 339.3L77.5 339.3L78.3 339.3L79.1 339.3L79.9 339.3L80.8 339.3L81.6 339.3L82.4 339.3L83.2 339.3L84 339.3L84.9 339.3L85.7 339.2L86.5 339.2L87.3 339.2L88.1 339.2L89 339.2L89.8 339.2L90.6 339.2L91.4 339.2L92.2 339.2L93.1 339.1L93.9 339.1L94.7 339.1L95.5 339.1L96.3 339.1L97.2 339.1L98 339.1L98.8 339.1L99.6 339.1L100.4 339L101.2 339L102.1 339L102.9 339L103.7 339L104.5 338.9L105.3 338.9L106.2 338.9L107 338.9L107.8 338.9L108.6 338.8L109.4 338.8L110.3 338.8L111.1 338.8L111.9 338.8L112.7 338.7L113.5 338.7L114.4 338.7L115.2 338.7L116 338.7L116.8 338.6L117.6 338.6" fill="none" stroke="#ff0000" stroke-width="1.3" stroke-dasharray="1.4 4.2" stroke-dashoffset="1.4"/>
<path d="M33.3 339.1L34.1 339.1L34.9 339.1L35.8 339.1L36.6 339.2L37.4 339.2L38.2 339.2L39 339.2L39.9 339.2L40.7 339.2L41.5 339.2L42.3 339.2L43.1 339.2L43.9 339.2L44.8 339.3L45.6 339.3L46.4 339.3L47.2 339.3L48 339.3L48.9 339.3L49.7 339.3L50.5 339.3L51.3 339.3L52.1 339.3L53 339.3L53.8 339.3L54.6 339.3L55.4 339.3L56.2 339.3L57.1 339.3L57.9 339.3L58.7 339.3L59.5 339.3L60.3 339.3L61.1 339.3L61.9 339.3L62.7 339.3L63.6 339.4L64.4 339.4L65.2 339.4L66 339.4L66.8 339.4L67.7 339.4L68.5 339.3L69.3 339.3L70.1 339.3L70.9 339.3L71.8 339.3L72.6 339.3L73.4 339.3L74.2 339.3L75 339.3L75.9 339.3L76.7 339.3L77.5 339.3L78.3 339.3L79.1 339.3L79.9 339.3L80.8 339.3L81.6 339.3L82.4 339.3L83.2 339.3L84 339.3L84.9 339.3L85.7 339.2L86.5 339.2L87.3 339.2L88.1 339.2L89 339.2L89.8 339.2L90.6 339.2L91.4 339.2L92.2 339.2L93.1 339.1L93.9 339.1L94.7 339.1L95.5 339.1L96.3 339.1L97.2 339.1L98 339.1L98.8 339.1L99.6 339.1L100.4 339L101.2 339L102.1 339L102.9 339L103.7 339L104.5 338.9L105.3 338.9L106.2 338.9L107 338.9L107.8 338.9L108.6 338.8L109.4 338.8L110.3 338.8L111.1 338.8L111.9 338.8L112.7 338.7L113.5 338.7L114.4 338.7L115.2 338.7L116 338.7L116.8 338.6L117.6 338.6" fill="none" stroke="#00aa00" stroke-width="1.3" stroke-dasharray="1.4 4.2" stroke-dashoffset="2.8"/>
<path d="M33.3 339.1L34.1 339.1L34.9 339.1L35.8 339.1L36.6 339.2L37.4 339.2L38.2 339.2L39 339.2L39.9 339.2L40.7 339.2L41.5 339.2L42.3 339.2L43.1 339.2L43.9 339.2L44.8 339.3L45.6 339.3L46.4 339.3L47.2 339.3L48 339.3L48.9 339.3L49.7 339.3L50.5 339.3L51.3 339.3L52.1 339.3L53 339.3L53.8 339.3L54.6 339.3L55.4 339.3L56.2 339.3L57.1 339.3L57.9 339.3L58.7 339.3L59.5 339.3L60.3 339.3L61.1 339.3L61.9 339.3L62.7 339.3L63.6 339.4L64.4 339.4L65.2 339.4L66 339.4L66.8 339.4L67.7 339.4L68.5 339.3L69.3 339.3L70.1 339.3L70.9 339.3L71.8 339.3L72.6 339.3L73.4 339.3L74.2 339.3L75 339.3L75.9 339.3L76.7 339.3L77.5 339.3L78.3 339.3L79.1 339.3L79.9 339.3L80.8 339.3L81.6 339.3L82.4 339.3L83.2 339.3L84 339.3L84.9 339.3L85.7 339.2L86.5 339.2L87.3 339.2L88.1 339.2L89 339.2L89.8 339.2L90.6 339.2L91.4 339.2L92.2 339.2L93.1 339.1L93.9 339.1L94.7 339.1L95.5 339.1L96.3 339.1L97.2 339.1L98 339.1L98.8 339.1L99.6 339.1L100.4 339L101.2 339L102.1 339L102.9 339L103.7 339L104.5 338.9L105.3 338.9L106.2 338.9L107 338.9L107.8 338.9L108.6 338.8L109.4 338.8L110.3 338.8L111.1 338.8L111.9 338.8L112.7 338.7L113.5 338.7L114.4 338.7L115.2 338.7L116 338.7L116.8 338.6L117.6 338.6" fill="none" stroke="#0000ff" stroke-width="1.3" stroke-dasharray="1.4 4.2" stroke-dashoffset="4.2"/>
<path d="M118.4 338.5L119.2 338.5L120 338.5L120.9 338.5L121.7 338.4L122.5 338.4L123.3 338.4L124.1 338.4L125 338.3L125.8 338.3L126.6 338.2L127.4 338.2L128.2 338.2L129.1 338.2L129.9 338.1L130.7 338.1L131.5 338.1L132.3 338.1L133.1 338L134 338L134.8 337.9L135.6 337.9L136.4 337.9L137.2 337.8L138.1 337.8L138.9 337.7L139.7 337.7L140.5 337.7L141.3 337.6L142.2 337.6L143 337.5L143.8 337.5L144.6 337.5L145.4 337.4L146.2 337.4L147.1 337.3L147.9 337.3L148.7 337.2L149.5 337.2L150.3 337.1L151.2 337.1L152 337.1L152.8 337L153.6 337L154.4 336.9L155.2 336.9L156 336.8L156.8 336.8L157.7 336.7L158.5 336.7L159.3 336.6L160.1 336.6L160.9 336.5L161.7 336.5L162.6 336.4L163.4 336.4L164.2 336.3L165 336.2L165.8 336.2L166.7 336.1L167.5 336.1L168.3 336L169.1 335.9L169.9 335.9L170.7 335.8L171.6 335.8L172.4 335.7L173.2 335.6L174 335.6L174.8 335.5L175.6 335.5L176.4 335.4L177.2 335.3L178.1 335.3L178.9 335.2L179.7 335.2L180.5 335.1L181.3 335L182.1 335L183 334.9L183.8 334.8L184.6 334.7L185.4 334.6L186.2 334.6L187.1 334.5L187.9 334.5L188.7 334.4L189.5 334.3L190.3 334.2L191.1 334.2L191.9 334.1L192.7 334L193.5 333.9L194.4 333.9L195.2 333.8L196 333.7L196.8 333.6L197.6 333.5L198.4 333.5L199.3 333.4L200.1 333.3L200.9 333.2L201.7 333.1L202.5 333L203.3 333L204.2 332.9L205 332.8L205.8 332.7L206.6 332.6L207.4 332.5L208.2 332.5L209 332.4L209.8 332.3L210.6 332.2L211.5 332.1L212.3 332L213.1 331.9L213.9 331.8L214.7 331.7L215.5 331.6L216.4 331.5L217.2 331.4L218 331.3L218.8 331.2L219.6 331.1L220.4 331L221.2 330.9L222 330.8L222.8 330.7L223.7 330.6L224.5 330.5L225.3 330.4L226.1 330.3L226.9 330.2L227.7 330.1L228.5 330L229.3 329.9L230.1 329.8L230.9 329.7L231.8 329.6L232.6 329.5L233.4 329.4L234.2 329.3L235 329.2L235.8 329L236.6 328.9L237.4 328.8L238.2 328.7L239 328.6L239.9 328.4L240.7 328.3L241.5 328.2L242.3 328.1L243.1 328L243.9 327.8L244.7 327.7L245.5 327.6L246.3 327.5L247.1 327.4L248 327.2L248.8 327.1L249.6 327L250.4 326.9L251.2 326.8L252 326.6L252.8 326.5L253.6 326.4L254.4 326.2L255.2 326.1L256.1 325.9L256.9 325.8L257.7 325.7L258.5 325.6L259.3 325.4L260.1 325.3L260.9 325.1L261.7 325L262.5 324.9L263.3 324.8L264.2 324.6L265 324.5L265.8 324.3L266.6 324.2L267.4 324L268.2 323.9L269 323.7L269.8 323.6" fill="none" stroke="#0000ff" stroke-width="1.3"/>
<path d="M118 347.6C122 346.9 126 346.3 130 345.6C135 344.7 140 343.5 145 342.4C150 341.4 155 340.3 160 339.3C163.3 338.6 166.7 338 170 337.4C173.7 336.7 177.3 336 181 335.3" fill="none" stroke="#ff0000" stroke-width="1.3" />
<path d="M158.4 340.7L159.2 340.6L160 340.5L160.8 340.4L161.6 340.3L162.5 340.2L163.3 340.1L164.1 340L164.9 339.9L165.7 339.8L166.6 339.8L167.4 339.7L168.2 339.6L169 339.5L169.8 339.4L170.6 339.3L171.5 339.3L172.3 339.2L173.1 339.1L173.9 339L174.7 338.9L175.5 338.8L176.3 338.7L177.1 338.6L178 338.5L178.8 338.5L179.6 338.4L180.4 338.3L181.2 338.2L182 338.1L182.9 338L183.7 337.9L184.5 337.8L185.3 337.7L186.1 337.6L187 337.6L187.8 337.5L188.6 337.4L189.4 337.3L190.2 337.2L191 337.1L191.9 337L192.7 336.9L193.5 336.8L194.3 336.7L195.1 336.7L195.9 336.6L196.7 336.5L197.5 336.4L198.4 336.3L199.2 336.2L200 336.1L200.8 336L201.6 335.9L202.4 335.8L203.3 335.7L204.1 335.6L204.9 335.5L205.7 335.4" fill="none" stroke="#00aa00" stroke-width="1.3"/>
<path d="M33.3 372.9L34.1 372.9L34.9 372.9L35.7 372.9L36.5 372.9L37.3 372.9L38.1 372.9L38.9 372.9L39.7 372.9L40.5 372.9L41.3 372.9L42.1 372.9L42.9 372.9L43.7 372.9L44.5 372.9L45.3 372.9L46.1 372.9L46.9 372.9L47.8 372.9L48.6 372.9L49.4 372.9L50.2 372.9L51 372.9L51.8 372.9L52.6 372.9L53.4 372.9L54.2 372.9L55 372.9L55.8 372.9L56.6 372.9L57.4 372.9L58.2 373L59 373L59.8 373L60.6 373L61.4 373L62.2 373L63 373L63.8 373L64.6 373L65.4 373L66.2 373L67 373L67.8 373L68.6 373L69.4 373L70.2 373L71 373L71.8 373L72.6 373L73.4 373L74.2 373L75 373L75.8 373L76.7 373L77.5 373L78.3 373L79.1 373L79.9 373L80.7 373L81.5 373" fill="none" stroke="#00aa00" stroke-width="1.3" stroke-dasharray="1.4 2.8"/>
<path d="M33.3 372.9L34.1 372.9L34.9 372.9L35.7 372.9L36.5 372.9L37.3 372.9L38.1 372.9L38.9 372.9L39.7 372.9L40.5 372.9L41.3 372.9L42.1 372.9L42.9 372.9L43.7 372.9L44.5 372.9L45.3 372.9L46.1 372.9L46.9 372.9L47.8 372.9L48.6 372.9L49.4 372.9L50.2 372.9L51 372.9L51.8 372.9L52.6 372.9L53.4 372.9L54.2 372.9L55 372.9L55.8 372.9L56.6 372.9L57.4 372.9L58.2 373L59 373L59.8 373L60.6 373L61.4 373L62.2 373L63 373L63.8 373L64.6 373L65.4 373L66.2 373L67 373L67.8 373L68.6 373L69.4 373L70.2 373L71 373L71.8 373L72.6 373L73.4 373L74.2 373L75 373L75.8 373L76.7 373L77.5 373L78.3 373L79.1 373L79.9 373L80.7 373L81.5 373" fill="none" stroke="#0000ff" stroke-width="1.3" stroke-dasharray="1.4 2.8" stroke-dashoffset="2.1"/>
<path d="M82.3 373L83.1 373L83.9 373L84.7 373L85.5 373L86.3 373L87.1 373L87.9 373L88.7 373L89.5 373L90.3 373L91.1 373L91.9 373L92.7 373L93.5 373L94.3 373L95.1 373L95.9 373L96.7 373L97.5 373L98.3 373L99.1 373L99.9 373L100.7 373L101.5 373L102.3 373L103.1 373L103.9 373L104.7 373L105.6 372.9L106.4 372.9L107.2 372.9L108 372.9L108.8 372.9L109.6 372.9L110.4 372.9L111.2 372.9L112 372.9L112.8 372.9L113.6 372.9L114.4 372.9L115.2 372.9L116 372.9L116.8 372.8L117.6 372.8L118.4 372.8L119.2 372.8L120 372.8L120.8 372.8L121.6 372.8L122.4 372.8L123.2 372.7L124.1 372.7L124.9 372.7L125.7 372.7L126.5 372.7L127.3 372.7L128.1 372.7L128.9 372.6L129.7 372.6L130.5 372.6L131.4 372.6L132.2 372.6L133 372.6L133.8 372.6L134.6 372.5L135.4 372.5L136.2 372.5L137 372.5L137.8 372.5L138.6 372.5L139.5 372.5L140.3 372.4L141.1 372.4L141.9 372.4L142.7 372.4L143.5 372.4L144.3 372.4L145.1 372.3L145.9 372.3L146.8 372.3L147.6 372.3L148.4 372.2L149.2 372.2L150 372.2L150.8 372.2L151.6 372.2L152.4 372.1L153.2 372.1L154 372.1L154.8 372.1L155.6 372L156.4 372L157.2 372L158.1 372L158.9 371.9L159.7 371.9L160.5 371.9L161.3 371.8L162.1 371.8L162.9 371.8L163.7 371.7L164.5 371.7L165.3 371.7L166.1 371.6L166.9 371.6L167.8 371.6L168.6 371.5L169.4 371.5L170.2 371.5L171 371.5L171.8 371.4L172.6 371.4L173.4 371.4L174.2 371.3L175 371.3L175.8 371.3L176.6 371.3L177.4 371.2L178.2 371.2L179.1 371.2L179.9 371.2L180.7 371.1L181.5 371.1L182.3 371.1L183.1 371.1L183.9 371.1L184.7 371L185.5 371L186.4 371L187.2 371L188 371L188.8 370.9L189.6 370.9L190.4 370.9L191.2 370.9L192 370.9L192.8 370.8L193.6 370.8L194.5 370.8L195.3 370.8L196.1 370.8L196.9 370.8L197.7 370.7L198.5 370.7L199.3 370.7L200.1 370.7L200.9 370.7L201.8 370.7L202.6 370.6L203.4 370.6L204.2 370.6L205 370.6L205.8 370.6L206.6 370.5L207.4 370.5L208.2 370.4L209.1 370.4L209.9 370.3L210.7 370.3L211.5 370.2L212.3 370.2L213.1 370.1L213.9 370.1L214.8 370.1L215.6 370.1L216.4 370.2L217.2 370.2L218 370.3L218.8 370.4L219.6 370.5L220.4 370.6L221.2 370.8L222 370.9L222.8 371.1L223.6 371.2" fill="none" stroke="#0000ff" stroke-width="1.3"/>
</g>
<path d="M34.3 489.2v-2.4M34.3 276.1v2.4M34.3 489.2h2.4M268.8 489.2h-2.4M60.5 489.2v-1.2M60.5 276.1v1.2M34.3 461.3h1.2M268.8 461.3h-1.2M75.8 489.2v-1.2M75.8 276.1v1.2M34.3 445h1.2M268.8 445h-1.2M86.6 489.2v-1.2M86.6 276.1v1.2M34.3 433.4h1.2M268.8 433.4h-1.2M95 489.2v-1.2M95 276.1v1.2M34.3 424.5h1.2M268.8 424.5h-1.2M101.9 489.2v-1.2M101.9 276.1v1.2M34.3 417.1h1.2M268.8 417.1h-1.2M107.7 489.2v-1.2M107.7 276.1v1.2M34.3 410.9h1.2M268.8 410.9h-1.2M112.8 489.2v-1.2M112.8 276.1v1.2M34.3 405.6h1.2M268.8 405.6h-1.2M117.2 489.2v-1.2M117.2 276.1v1.2M34.3 400.8h1.2M268.8 400.8h-1.2M121.2 489.2v-2.4M121.2 276.1v2.4M34.3 396.6h2.4M268.8 396.6h-2.4M147.3 489.2v-1.2M147.3 276.1v1.2M34.3 368.7h1.2M268.8 368.7h-1.2M162.6 489.2v-1.2M162.6 276.1v1.2M34.3 352.4h1.2M268.8 352.4h-1.2M173.5 489.2v-1.2M173.5 276.1v1.2M34.3 340.8h1.2M268.8 340.8h-1.2M181.9 489.2v-1.2M181.9 276.1v1.2M34.3 331.9h1.2M268.8 331.9h-1.2M188.8 489.2v-1.2M188.8 276.1v1.2M34.3 324.5h1.2M268.8 324.5h-1.2M194.6 489.2v-1.2M194.6 276.1v1.2M34.3 318.3h1.2M268.8 318.3h-1.2M199.6 489.2v-1.2M199.6 276.1v1.2M34.3 313h1.2M268.8 313h-1.2M204.1 489.2v-1.2M204.1 276.1v1.2M34.3 308.2h1.2M268.8 308.2h-1.2M208.1 489.2v-2.4M208.1 276.1v2.4M34.3 304h2.4M268.8 304h-2.4M234.2 489.2v-1.2M234.2 276.1v1.2M34.3 276.1h1.2M268.8 276.1h-1.2M249.5 489.2v-1.2M249.5 276.1v1.2M260.4 489.2v-1.2M260.4 276.1v1.2M268.8 489.2v-1.2M268.8 276.1v1.2" stroke="#262626" stroke-width="0.6" fill="none"/>
<rect x="34.3" y="276.1" width="234.5" height="213.1" fill="none" stroke="#727272" stroke-width="1"/>
<text x="26" y="501" font-size="8.8" textLength="17.0" lengthAdjust="spacingAndGlyphs">10<tspan dy="-3.6" font-size="6.1">−1</tspan></text>
<text x="12.9" y="491.7" font-size="8.8" textLength="17.0" lengthAdjust="spacingAndGlyphs">10<tspan dy="-3.6" font-size="6.1">−1</tspan></text>
<text x="115.6" y="501" font-size="8.8" textLength="11.6" lengthAdjust="spacingAndGlyphs">10<tspan dy="-3.6" font-size="6.1">0</tspan></text>
<text x="18.3" y="399.1" font-size="8.8" textLength="11.6" lengthAdjust="spacingAndGlyphs">10<tspan dy="-3.6" font-size="6.1">0</tspan></text>
<text x="202.5" y="501" font-size="8.8" textLength="11.6" lengthAdjust="spacingAndGlyphs">10<tspan dy="-3.6" font-size="6.1">1</tspan></text>
<text x="18.3" y="306.5" font-size="8.8" textLength="11.6" lengthAdjust="spacingAndGlyphs">10<tspan dy="-3.6" font-size="6.1">1</tspan></text>
<text x="150.8" y="272.5" font-size="9.3" text-anchor="middle" textLength="96" lengthAdjust="spacingAndGlyphs" xml:space="preserve">(c) <tspan font-style="italic">ν</tspan><tspan dy="1.6" font-size="6.2">1</tspan><tspan dy="-1.6"> =0.20,  </tspan><tspan font-style="italic">ν</tspan><tspan dy="1.6" font-size="6.2">2</tspan><tspan dy="-1.6"> =0.03</tspan></text>
<text x="151.6" y="513.5" font-size="10.8" text-anchor="middle" textLength="73" lengthAdjust="spacingAndGlyphs"><tspan font-style="italic">ζ</tspan><tspan dy="1.8" font-size="7.2">1</tspan><tspan dy="-1.8"> = </tspan><tspan font-style="italic">c</tspan><tspan dy="1.8" font-size="7.2">1</tspan><tspan dy="-1.8">/2</tspan><tspan font-style="italic">m</tspan><tspan dy="1.8" font-size="7.2" font-style="italic">r</tspan><tspan dy="-1.8" font-style="italic">ω</tspan><tspan dy="1.8" font-size="7.2" font-style="italic">r</tspan></text>
<text transform="translate(14.5 383.8) rotate(-90)" font-size="10.8" text-anchor="middle" textLength="74" lengthAdjust="spacingAndGlyphs"><tspan font-style="italic">ζ</tspan><tspan dy="1.8" font-size="7.2">2</tspan><tspan dy="-1.8"> = </tspan><tspan font-style="italic">c</tspan><tspan dy="1.8" font-size="7.2">2</tspan><tspan dy="-1.8">/2</tspan><tspan font-style="italic">m</tspan><tspan dy="1.8" font-size="7.2" font-style="italic">r</tspan><tspan dy="-1.8" font-style="italic">ω</tspan><tspan dy="1.8" font-size="7.2" font-style="italic">r</tspan></text>
<clipPath id="cpd"><rect x="306.7" y="274.7" width="236.4" height="214.7"/></clipPath>
<g clip-path="url(#cpd)">
<path d="M305.7 305.6L307.3 305.8L308.8 305.9L310.4 306.1L311.9 306.2L313.5 306.4L315.1 306.5L316.6 306.7L318.2 306.8L319.7 307L321.3 307.1L322.8 307.3L324.4 307.5L325.9 307.7L327.5 308L329 308.2L330.6 308.5L332.3 308.8L333.9 309L335.5 309.4L337.1 309.7L338.8 310L340.4 310.4L342 310.8L343.6 311.2L345.1 311.6L346.5 312L348 312.4L349.4 312.9L350.9 313.4L352.3 313.8L353.7 314.3L355.2 314.8L356.6 315.3L358 315.8L359.5 316.3L360.9 316.9L362.4 317.4L363.8 318L365.2 318.6L366.6 319.2L368 319.8L369.4 320.5L370.8 321.2L372.1 321.9L373.4 322.7L374.8 323.5L376.1 324.3L377.4 325.1L378.7 326L380 326.8L381.3 327.7L382.6 328.6L383.9 329.5L385.2 330.4L386.5 331.3L387.8 332.3L389 333.3L390.3 334.2L391.5 335.2L392.8 336.2L394 337.2L395.3 338.1L396.6 339.1L397.8 340.1L399.1 341L400.4 342L401.7 342.9L403 343.9L404.3 344.9L405.6 345.9L406.9 346.9L408.2 347.8L409.5 348.7L410.9 349.6L412.2 350.5L413.6 351.3L415 352.1L416.4 352.9L417.8 353.6L419.3 354.3L420.7 355L422.2 355.7L423.7 356.3L425.2 356.9L426.7 357.5L428.2 358L429.6 358.5L431.1 358.9L432.5 359.3L434 359.7L435.5 360L437 360.4L438.5 360.7L440 361L441.7 361.3L443.3 361.6L445 361.8L446.7 362L448.3 362.2L450 362.4L451.7 362.5L453.3 362.6L455 362.7L456.7 362.8L458.3 362.9L460 363L461.7 363.1L463.3 363.1L465 363.2L466.7 363.2L468.3 363.2L470 363.3L471.5 363.3L473.1 363.4L474.6 363.4L476.2 363.4L477.7 363.5L479.2 363.5L480.8 363.5L482.3 363.5L483.8 363.5L485.4 363.5L486.9 363.6L488.5 363.6L490 363.6L491.5 363.6L493.1 363.6L494.6 363.7L496.2 363.7L497.7 363.7L499.2 363.7L500.8 363.7L502.3 363.7L503.8 363.7L505.4 363.7L506.9 363.8L508.5 363.8L510 363.8L511.5 363.8L513.1 363.8L514.6 363.8L516.2 363.8L517.7 363.8L519.2 363.8L520.8 363.9L522.3 363.9L523.8 363.9L525.4 363.9L526.9 363.9L528.5 363.9L530 363.9L531.6 363.9L533.1 363.9L534.7 363.9L536.3 363.9L537.8 364L539.4 364L541 364L542.5 364L544.1 364L544.1 388.4L542.1 388.4L540.2 388.4L538.2 388.4L536.2 388.4L534.2 388.4L532.2 388.4L530.2 388.3L528.2 388.3L526.2 388.3L524.2 388.3L522.1 388.2L520.1 388.2L518.1 388.2L516 388.1L514 388.1L511.9 388.1L509.9 388L507.8 388L505.8 387.9L503.7 387.9L501.6 387.8L499.6 387.8L497.5 387.8L495.4 387.7L493.3 387.6L491.3 387.6L489.2 387.6L487.1 387.5L485 387.4L483 387.4L480.9 387.3L478.8 387.3L476.7 387.2L474.7 387.2L472.6 387.1L470.5 387.1L468.5 387.1L466.4 387L464.3 386.9L462.3 386.9L460.2 386.9L458.1 386.8L456.1 386.8L454 386.7L452 386.7L450 386.7L447.9 386.6L445.9 386.6L443.8 386.6L441.8 386.5L439.8 386.4L437.8 386.4L435.8 386.3L433.8 386.2L431.8 386.1L429.8 386L427.9 385.9L425.9 385.7L424 385.5L422 385.2L420 384.7L418.1 384.2L416.2 383.5L414.3 382.8L412.4 381.9L410.6 380.9L408.9 379.8L407.2 378.7L405.5 377.5L403.9 376.2L402.4 374.9L400.9 373.5L399.4 372.1L398 370.6L396.6 369.1L395.2 367.6L393.8 366.1L392.5 364.5L391.1 363L389.8 361.5L388.4 359.9L387.1 358.4L385.7 356.9L384.3 355.5L382.8 354.1L381.3 352.7L379.8 351.4L378.3 350.1L376.7 348.9L375.1 347.7L373.4 346.5L371.8 345.4L370.1 344.3L368.4 343.3L366.6 342.3L364.8 341.3L363 340.4L361.2 339.5L359.4 338.7L357.5 337.9L355.6 337.1L353.7 336.4L351.8 335.7L349.9 335.1L347.9 334.5L345.9 333.9L344 333.3L342 332.8L340 332.4L337.9 331.9L335.9 331.5L333.9 331L331.8 330.6L329.8 330.3L327.8 330L325.8 329.6L323.7 329.3L321.7 329L319.6 328.7L317.6 328.5L315.6 328.2L313.6 327.9L311.6 327.7L309.6 327.5L307.7 327.2L305.7 327Z" fill="#cdcdcd"/>
<path d="M305.7 389.4L307.2 389.5L308.8 389.6L310.3 389.7L311.9 389.9L313.4 390L314.9 390.1L316.5 390.3L318 390.4L319.6 390.6L321.2 390.7L322.8 390.9L324.3 391L325.9 391.2L327.5 391.4L329.1 391.6L330.7 391.8L332.4 392.1L334 392.4L335.6 392.7L337.2 393L338.8 393.4L340.4 393.7L342 394.1L343.6 394.5L345.1 394.9L346.5 395.3L348 395.7L349.5 396.1L350.9 396.5L352.4 397L353.9 397.4L355.3 397.9L356.8 398.4L358.2 398.9L359.9 399.5L361.6 400.1L363.3 400.7L365 401.4L366.8 402.2L368.6 403.1L368.6 403.1L366.8 402.8L365 402.6L363.3 402.3L361.6 401.9L359.9 401.5L358.2 401.1L356.6 400.8L354.9 400.4L353.3 400.1L351.7 399.8L350.1 399.5L348.5 399.1L346.9 398.8L345.2 398.5L343.6 398.2L342 397.9L340.4 397.7L338.8 397.4L337.2 397.2L335.6 396.9L334 396.7L332.4 396.4L330.7 396.2L329.1 396L327.5 395.8L326 395.7L324.4 395.5L322.9 395.4L321.3 395.3L319.7 395.2L318.2 395.1L316.6 395L315.1 394.9L313.5 394.8L311.9 394.8L310.4 394.7L308.8 394.6L307.3 394.5L305.7 394.4Z" fill="#cdcdcd"/>
<path d="M391.5 409.6L400 410.1L440 411.2L544.1 411.6L544.1 416L542.6 416L541 416L539.5 416L538 415.9L536.5 415.9L534.9 415.9L533.4 415.9L531.9 415.9L530.4 415.9L528.8 415.9L527.3 415.9L525.8 415.8L524.3 415.8L522.7 415.8L521.2 415.8L519.7 415.8L518.2 415.8L516.6 415.8L515.1 415.8L513.6 415.7L512.1 415.7L510.5 415.7L509 415.7L507.5 415.7L505.9 415.7L504.4 415.7L502.9 415.7L501.4 415.6L499.8 415.6L498.3 415.6L496.8 415.6L495.3 415.6L493.7 415.6L492.2 415.6L490.7 415.5L489.2 415.5L487.6 415.5L486.1 415.5L484.6 415.5L483.1 415.4L481.5 415.4L480 415.4L478.5 415.4L477 415.4L475.4 415.3L473.9 415.3L472.4 415.3L470.9 415.3L469.4 415.3L467.9 415.3L466.4 415.2L464.8 415.2L463.3 415.2L461.8 415.2L460.3 415.2L458.8 415.2L457.3 415.1L455.8 415.1L454.2 415.1L452.7 415.1L451.2 415.1L449.7 415L448.2 415L446.7 415L445.2 415L443.6 414.9L442.1 414.9L440.6 414.9L439.1 414.8L437.6 414.8L436.1 414.8L434.6 414.7L433 414.7L431.5 414.6L430 414.6L428.3 414.6L426.6 414.5L424.9 414.5L423.3 414.4L421.6 414.3L419.9 414.3L418.2 414.2L416.6 414.1L414.9 414.1L413.3 414L411.7 413.9L410.1 413.8L408.4 413.7L406.8 413.5L405.2 413.4L403.6 413.2L401.8 413L400 412.7L398.2 412.4L396.4 412L394.6 411.5L392.8 411.1Z" fill="#cdcdcd"/>
<line x1="394.3" y1="274.7" x2="394.3" y2="489.4" stroke="#808080" stroke-opacity="0.3" stroke-width="0.8"/>
<line x1="306.7" y1="396.1" x2="543.1" y2="396.1" stroke="#808080" stroke-opacity="0.3" stroke-width="0.8"/>
<line x1="481.9" y1="274.7" x2="481.9" y2="489.4" stroke="#808080" stroke-opacity="0.3" stroke-width="0.8"/>
<line x1="306.7" y1="302.8" x2="543.1" y2="302.8" stroke="#808080" stroke-opacity="0.3" stroke-width="0.8"/>
<path d="M305.7 307.3C307.2 307.3 308.6 307.2 310.1 307.2C311.5 307.2 312.9 307.2 314.3 307.3C315.7 307.4 317.1 307.5 318.5 307.6C319.9 307.7 321.3 307.9 322.6 308.1C324 308.3 325.4 308.5 326.7 308.7C328 309 329.4 309.2 330.7 309.5C332 309.8 333.3 310.2 334.6 310.5C335.9 310.9 337.2 311.2 338.4 311.6C339.7 312 341 312.4 342.2 312.9C343.5 313.3 344.8 313.8 346 314.3C347.2 314.8 348.5 315.3 349.7 315.8C350.9 316.3 352.2 316.8 353.4 317.4C354.6 318 355.8 318.5 357 319.1C358.2 319.7 359.4 320.3 360.6 320.9C361.8 321.6 363 322.2 364.1 322.8C365.3 323.5 366.5 324.2 367.7 324.8C368.8 325.5 370 326.2 371.2 326.9C372.3 327.6 373.5 328.3 374.7 329C375.8 329.7 377 330.4 378.1 331.2C379.3 331.9 380.5 332.6 381.6 333.4C382.8 334.1 383.9 334.8 385.1 335.6C386.2 336.3 387.4 337.1 388.5 337.8C389.7 338.6 390.9 339.3 392 340.1C393.2 340.8 394.3 341.5 395.5 342.3C396.6 343 397.8 343.8 399 344.5C400.1 345.2 401.3 345.9 402.5 346.6C403.6 347.4 404.8 348.1 406 348.8C407.2 349.5 408.3 350.1 409.5 350.8C410.7 351.5 411.9 352.1 413.1 352.8C414.3 353.4 415.5 354.1 416.7 354.7C417.9 355.3 419.1 355.9 420.3 356.5C421.6 357.1 422.8 357.7 424 358.2C425.2 358.8 426.5 359.3 427.7 359.8C429 360.4 430.2 360.9 431.5 361.4C432.7 361.9 434 362.3 435.2 362.8C436.5 363.3 437.8 363.7 439 364.1C440.3 364.5 441.6 364.9 442.9 365.3C444.2 365.7 445.5 366.1 446.8 366.4C448.1 366.8 449.4 367.1 450.7 367.4C452 367.7 453.3 368 454.6 368.3C455.9 368.6 457.3 368.9 458.6 369.1C459.9 369.4 461.2 369.6 462.6 369.9C463.9 370.1 465.3 370.3 466.6 370.5C467.9 370.7 469.3 370.9 470.6 371.1C472 371.2 473.3 371.4 474.7 371.6C476 371.7 477.4 371.8 478.8 372C480.1 372.1 481.5 372.2 482.8 372.3C484.2 372.5 485.6 372.6 486.9 372.7C488.3 372.8 489.7 372.8 491 372.9C492.4 373 493.8 373.1 495.2 373.1C496.5 373.2 497.9 373.3 499.3 373.3C500.6 373.4 502 373.4 503.4 373.5C504.8 373.5 506.1 373.6 507.5 373.6C508.9 373.6 510.2 373.7 511.6 373.7C513 373.7 514.4 373.8 515.7 373.8C517.1 373.8 518.5 373.9 519.8 373.9C521.2 373.9 522.5 373.9 523.9 374C525.3 374 526.6 374 528 374C529.3 374.1 530.7 374.1 532 374.1C533.4 374.2 534.7 374.2 536.1 374.2C537.4 374.3 538.8 374.3 540.1 374.4C541.4 374.4 542.8 374.5 544.1 374.5" fill="none" stroke="#ff00ff" stroke-width="1.2" />
<path d="M305.7 327C307 327.2 308.3 327.3 309.6 327.5C311 327.6 312.3 327.8 313.6 327.9C315 328.1 316.3 328.3 317.6 328.5C319 328.6 320.3 328.8 321.7 329C323 329.2 324.4 329.4 325.8 329.6C327.1 329.8 328.5 330.1 329.8 330.3C331.2 330.5 332.5 330.8 333.9 331C335.2 331.3 336.6 331.6 337.9 331.9C339.3 332.2 340.6 332.5 342 332.8C343.3 333.2 344.6 333.5 345.9 333.9C347.3 334.3 348.6 334.7 349.9 335.1C351.2 335.5 352.5 335.9 353.7 336.4C355 336.9 356.3 337.4 357.5 337.9C358.8 338.4 360 338.9 361.2 339.5C362.4 340.1 363.7 340.7 364.8 341.3C366 341.9 367.2 342.6 368.4 343.3C369.5 343.9 370.6 344.7 371.8 345.4C372.9 346.1 374 346.9 375.1 347.7C376.1 348.5 377.2 349.3 378.3 350.1C379.3 351 380.3 351.8 381.3 352.7C382.3 353.6 383.3 354.5 384.3 355.5C385.2 356.5 386.1 357.4 387.1 358.4C388 359.4 388.9 360.4 389.8 361.5C390.7 362.5 391.6 363.5 392.5 364.5C393.4 365.6 394.3 366.6 395.2 367.6C396.1 368.6 397 369.6 398 370.6C398.9 371.6 399.9 372.6 400.9 373.5C401.8 374.5 402.9 375.4 403.9 376.2C405 377.1 406 377.9 407.2 378.7C408.3 379.5 409.4 380.2 410.6 380.9C411.8 381.6 413 382.2 414.3 382.8C415.5 383.3 416.8 383.8 418.1 384.2C419.4 384.6 420.7 384.9 422 385.2C423.3 385.4 424.6 385.6 425.9 385.7C427.2 385.9 428.5 385.9 429.8 386C431.2 386.1 432.5 386.2 433.8 386.2C435.1 386.3 436.5 386.3 437.8 386.4C439.2 386.4 440.5 386.5 441.8 386.5C443.2 386.5 444.5 386.6 445.9 386.6C447.2 386.6 448.6 386.6 450 386.7C451.3 386.7 452.7 386.7 454 386.7C455.4 386.8 456.8 386.8 458.1 386.8C459.5 386.9 460.9 386.9 462.3 386.9C463.6 386.9 465 387 466.4 387C467.8 387 469.1 387.1 470.5 387.1C471.9 387.1 473.3 387.2 474.7 387.2C476 387.2 477.4 387.3 478.8 387.3C480.2 387.3 481.6 387.4 483 387.4C484.3 387.4 485.7 387.5 487.1 387.5C488.5 387.5 489.9 387.6 491.3 387.6C492.7 387.6 494 387.7 495.4 387.7C496.8 387.7 498.2 387.8 499.6 387.8C500.9 387.8 502.3 387.9 503.7 387.9C505.1 387.9 506.4 388 507.8 388C509.2 388 510.6 388 511.9 388.1C513.3 388.1 514.7 388.1 516 388.1C517.4 388.2 518.7 388.2 520.1 388.2C521.5 388.2 522.8 388.2 524.2 388.3C525.5 388.3 526.9 388.3 528.2 388.3C529.5 388.3 530.9 388.3 532.2 388.4C533.5 388.4 534.9 388.4 536.2 388.4C537.5 388.4 538.8 388.4 540.2 388.4C541.5 388.4 542.8 388.4 544.1 388.4" fill="none" stroke="#ff00ff" stroke-width="1.2" />
<path d="M305.7 391.6C313.5 391.9 321.3 392.2 329.1 392.4C333.9 392.5 338.8 392.6 343.6 392.8C348.5 393 353.3 393.1 358.2 393.5C360.8 393.7 363.4 393.9 366 394.2C368.2 394.5 370.5 394.7 372.7 395.2C374.2 395.5 375.6 395.9 377 396.4C378.6 396.9 380.2 397.6 381.8 398.2C383 398.7 384.3 399.3 385.5 399.8C386.7 400.3 387.9 400.7 389.1 401.1C390.3 401.5 391.6 401.8 392.8 402.1C394 402.4 395.2 402.6 396.4 402.8C398.8 403.2 401.2 403.4 403.6 403.6C408.5 404 413.3 403.9 418.2 404C425.5 404.2 432.7 404.2 440 404.3C474.7 404.7 509.4 404.6 544.1 404.7" fill="none" stroke="#ff00ff" stroke-width="1.2" />
<path d="M305.7 403C323.2 403.1 340.7 402.3 358.2 403.3C360.8 403.4 363.4 403.6 366 403.8C368.8 404 371.7 404.3 374.5 404.7C376.9 405 379.4 405.5 381.8 405.9C384.2 406.2 386.7 406.6 389.1 406.8C391.5 407 394 407.2 396.4 407.3C403.6 407.7 410.8 407.6 418 407.7C425.3 407.8 432.7 407.8 440 407.8C474.7 408 509.4 408.2 544.1 408.4" fill="none" stroke="#ff00ff" stroke-width="1.2" />
<path d="M305.7 406.2C323.8 406.2 341.9 405.9 360 406.2C363.3 406.3 366.7 406.2 370 406.4C372 406.5 374 406.6 376 406.8C377.9 407 379.9 407.3 381.8 407.7C383 408 384.3 408.3 385.5 408.7C386.7 409.1 387.9 409.5 389.1 409.9C390.3 410.3 391.6 410.7 392.8 411.1C394 411.4 395.2 411.7 396.4 412C398.8 412.5 401.2 412.9 403.6 413.2C408.4 413.8 413.3 414 418.2 414.2C422.1 414.4 426.1 414.5 430 414.6C446.7 415.1 463.3 415.2 480 415.4C501.4 415.7 522.7 415.8 544.1 416" fill="none" stroke="#ff00ff" stroke-width="1.2" />
<path d="M305.7 420.4C313.5 420.7 321.3 420.7 329.1 421.2C333.9 421.5 338.8 421.9 343.6 422.5C348.5 423.2 353.3 424.3 358.2 425.1C363.6 426 369.1 426.9 374.5 427.7C379.4 428.4 384.2 429.1 389.1 429.5C393.4 429.8 397.7 429.8 402 429.9C411.3 430.2 420.7 430.4 430 430.6C468 431.4 506.1 431.1 544.1 431.3" fill="none" stroke="#ff00ff" stroke-width="1.2" />
<path d="M389.3 409.9C389.9 410.6 390.5 411.3 391 412C391.6 412.9 392.2 413.9 392.7 414.9C393.3 416.2 393.6 417.6 394 419C394.4 420.5 394.6 422.1 394.9 423.6C395.3 425.7 395.8 427.9 396.2 430C396.9 433.9 397.1 437.9 397.5 441.8C398.2 449 398.6 456.3 398.9 463.6C399.3 472.5 399.4 481.5 399.6 490.4" fill="none" stroke="#ff00ff" stroke-width="1.2" />
<path d="M305.7 432.1C316.9 432.3 328.1 432.1 339.3 432.7C343.2 432.9 347.1 432.9 350.9 433.5C353.4 433.9 355.8 434.3 358.2 435C360.7 435.7 363.1 436.5 365.5 437.5C366.7 438 368.1 438.3 369.1 439.1C370.1 439.9 370.8 441 371.5 442C372.4 443.3 372.9 444.8 373.5 446.2C374.3 448 375.1 449.7 375.8 451.5C376.6 453.6 377.2 455.7 377.8 457.8C378.9 461.7 379.8 465.6 380.7 469.5C381.5 473.3 382.4 477.2 382.9 481.1C383.3 484.2 383.5 487.3 383.8 490.4" fill="none" stroke="#ff00ff" stroke-width="1.2" />
<path d="M305.7 308C307 308.1 308.4 308.2 309.7 308.4C311.1 308.5 312.5 308.7 313.8 308.8C315.2 309 316.5 309.1 317.9 309.3C319.3 309.5 320.6 309.6 322 309.8C323.4 310 324.7 310.2 326.1 310.5C327.5 310.7 328.8 310.9 330.2 311.2C331.5 311.4 332.9 311.7 334.3 312C335.6 312.3 337 312.6 338.3 312.9C339.6 313.2 341 313.5 342.3 313.9C343.6 314.3 345 314.6 346.3 315C347.6 315.4 348.9 315.9 350.2 316.3C351.5 316.8 352.8 317.3 354 317.8C355.3 318.3 356.6 318.8 357.8 319.3C359 319.9 360.3 320.5 361.5 321.1C362.7 321.7 363.9 322.3 365.1 323C366.3 323.6 367.5 324.3 368.7 325C369.9 325.7 371 326.4 372.2 327.1C373.4 327.8 374.5 328.6 375.7 329.3C376.8 330.1 378 330.8 379.1 331.6C380.2 332.4 381.4 333.1 382.5 333.9C383.7 334.7 384.8 335.5 385.9 336.3C387.1 337 388.2 337.8 389.3 338.6C390.5 339.4 391.6 340.2 392.8 340.9C393.9 341.7 395.1 342.5 396.2 343.2C397.4 344 398.5 344.7 399.7 345.5C400.9 346.2 402 346.9 403.2 347.6C404.4 348.3 405.6 349 406.7 349.7C407.9 350.4 409.1 351.1 410.3 351.8C411.5 352.4 412.7 353.1 413.9 353.7C415.1 354.4 416.3 355 417.5 355.7C418.8 356.3 420 357 421.2 357.6C422.4 358.2 423.6 358.8 424.8 359.5C426 360.1 427.2 360.7 428.5 361.3C429.7 361.9 430.9 362.5 432.1 363.2C433.3 363.8 434.5 364.4 435.7 365C437 365.6 438.2 366.2 439.4 366.8C440.6 367.5 441.8 368.1 443 368.7C444.2 369.3 445.4 370 446.6 370.6C447.7 371.2 448.9 371.9 450.1 372.6C451.3 373.2 452.4 373.9 453.6 374.6" fill="none" stroke="#ff0000" stroke-width="1.4" />
<path d="M453.6 374.6C452.2 374.9 450.9 375.2 449.5 375.4C448.1 375.6 446.8 375.8 445.4 375.9C444 376 442.6 376.1 441.2 376.1C439.9 376.1 438.5 376.1 437.1 376C435.7 375.9 434.4 375.8 433 375.6C431.6 375.5 430.3 375.3 428.9 375C427.6 374.7 426.2 374.4 424.9 374.1C423.6 373.7 422.3 373.3 421 372.9C419.7 372.4 418.5 372 417.2 371.4C416 370.9 414.7 370.4 413.5 369.8C412.3 369.2 411.1 368.5 409.9 367.8C408.8 367.2 407.6 366.5 406.4 365.7C405.3 365 404.2 364.2 403 363.4C401.9 362.6 400.8 361.8 399.7 360.9C398.6 360.1 397.6 359.2 396.5 358.3C395.4 357.4 394.4 356.5 393.3 355.6C392.2 354.7 391.2 353.8 390.1 352.9C389 352 388 351.1 386.9 350.2C385.8 349.4 384.7 348.5 383.6 347.7C382.5 346.9 381.3 346.1 380.2 345.3C379.1 344.6 377.9 343.8 376.7 343.1C375.6 342.4 374.4 341.7 373.2 341.1C372 340.4 370.8 339.8 369.6 339.2C368.4 338.6 367.1 338 365.9 337.5C364.7 336.9 363.4 336.4 362.1 335.9C360.9 335.4 359.6 334.9 358.3 334.4C357 333.9 355.8 333.5 354.5 333.1C353.2 332.6 351.8 332.2 350.5 331.9C349.2 331.5 347.9 331.1 346.6 330.7C345.2 330.4 343.9 330.1 342.6 329.7C341.2 329.4 339.9 329.1 338.5 328.8C337.2 328.5 335.8 328.3 334.5 328C333.1 327.7 331.8 327.5 330.4 327.3C329 327 327.7 326.8 326.3 326.6C324.9 326.4 323.6 326.2 322.2 326C320.8 325.8 319.4 325.6 318.1 325.4C316.7 325.2 315.3 325.1 313.9 324.9C312.6 324.7 311.2 324.6 309.8 324.4C308.4 324.3 307.1 324.1 305.7 324" fill="none" stroke="#ff0000" stroke-width="1.4" />
<path d="M305.7 389.8C313.5 390.5 321.4 390.7 329.1 391.9C334 392.7 338.8 393.6 343.6 394.8C348.5 396 353.4 397.4 358.2 399.2C360.5 400.1 362.7 401.1 365 402C368.1 403.3 371.3 404.4 374.5 405.6C376.9 406.5 379.3 407.5 381.8 408.4C384.2 409.3 386.6 410.1 389.1 410.8C391.5 411.5 393.9 412 396.4 412.5C398.8 413 401.2 413.4 403.6 413.7C406.4 414.1 409.2 414.2 412 414.5C413.3 414.6 414.7 414.8 416 414.9" fill="none" stroke="#ff0000" stroke-width="1.4" />
<path d="M416 414.9C414.7 415 413.3 415.1 412 415.2C409.2 415.3 406.4 415.2 403.6 415C401.2 414.8 398.8 414.5 396.4 414.1C393.9 413.7 391.5 413.2 389.1 412.6C386.6 411.9 384.2 411.1 381.8 410.2C379.3 409.3 376.9 408.4 374.5 407.4C372.5 406.6 370.5 405.5 368.4 404.8C365.1 403.6 361.6 403.1 358.2 402.4C353.4 401.5 348.5 401 343.6 400.4C338.8 399.8 333.9 399.3 329.1 398.9C321.3 398.2 313.5 397.9 305.7 397.4" fill="none" stroke="#ff0000" stroke-width="1.4" />
<path d="M305.7 418.5C313.5 418.8 321.3 418.8 329.1 419.3C333.9 419.6 338.8 419.9 343.6 420.4C348.5 420.9 353.4 421.4 358.2 422.2C363.1 423 367.9 424.1 372.7 425.1C375.1 425.6 377.6 426.2 380 426.6C383 427.2 386.1 427.6 389.1 428C391.7 428.4 394.4 428.8 397 429.1C398.7 429.3 400.3 429.5 402 429.7" fill="none" stroke="#ff0000" stroke-width="1.4" />
<path d="M402 429.7C400.3 429.8 398.7 430 397 430C394.4 430 391.7 429.8 389.1 429.6C384.2 429.2 379.4 428.6 374.5 427.9C369 427.1 363.6 426.1 358.2 425.1C354.8 424.4 351.4 423.5 348 423C346.5 422.8 345.1 422.7 343.6 422.5C338.8 422 333.9 421.5 329.1 421.2C321.3 420.7 313.5 420.7 305.7 420.4" fill="none" stroke="#ff0000" stroke-width="1.4" />
<path d="M305.7 426.5C313.5 426.6 321.3 426.6 329.1 426.8C333.9 426.9 338.8 427.2 343.6 427.3C347.2 427.4 350.9 427.2 354.5 427.6C356.3 427.8 358.2 428.1 360 428.4C362.2 428.8 364.4 429.2 366.5 429.9C367.7 430.3 368.9 430.8 370 431.4C371.1 432 372.1 432.8 373 433.6C374.4 434.8 375.5 436.3 376.5 437.8C377.7 439.7 378.5 441.9 379.3 444C379.9 445.6 380.6 447.3 381 449C381.2 449.7 381.3 450.5 381.5 451.2" fill="none" stroke="#ff0000" stroke-width="1.4" />
<path d="M381.5 451.2C381.2 451.1 380.8 451.1 380.5 451C380 450.8 379.7 450.2 379.3 449.8C378.5 448.9 377.8 447.9 377.1 446.9C376.4 445.9 375.7 444.9 374.9 444C374.2 443.2 373.5 442.5 372.7 441.8C371.6 440.8 370.4 439.8 369.1 439.1C368 438.4 366.7 438 365.5 437.5C363.1 436.5 360.7 435.7 358.2 435C355.8 434.3 353.4 433.9 350.9 433.5C347.1 432.9 343.2 432.9 339.3 432.7C335.9 432.5 332.5 432.5 329.1 432.4C321.3 432.2 313.5 432.2 305.7 432.1" fill="none" stroke="#ff0000" stroke-width="1.4" />
<path d="M305.7 307.6C307.1 307.6 308.6 307.6 310 307.7C311.5 307.7 312.9 307.8 314.3 307.9C315.8 308 317.2 308.1 318.6 308.3C320 308.4 321.4 308.6 322.8 308.8C324.2 309 325.6 309.2 327 309.4C328.4 309.7 329.8 310 331.1 310.3C332.5 310.5 333.9 310.9 335.2 311.2C336.6 311.5 337.9 311.9 339.3 312.3C340.6 312.6 342 313 343.3 313.5C344.6 313.9 346 314.3 347.3 314.8C348.6 315.2 349.9 315.7 351.2 316.2C352.5 316.7 353.8 317.2 355.1 317.8C356.4 318.3 357.7 318.8 359 319.4C360.3 320 361.5 320.6 362.8 321.2C364.1 321.8 365.3 322.4 366.6 323C367.8 323.7 369.1 324.3 370.3 325C371.6 325.7 372.8 326.3 374 327C375.2 327.7 376.5 328.4 377.7 329.2C378.9 329.9 380.1 330.6 381.3 331.4C382.5 332.1 383.7 332.9 384.9 333.6C386.1 334.4 387.3 335.2 388.4 336C389.6 336.8 390.8 337.6 391.9 338.4C393.1 339.2 394.3 340 395.4 340.8C396.6 341.7 397.7 342.5 398.8 343.3C400 344.2 401.1 345 402.2 345.9C403.4 346.7 404.5 347.6 405.6 348.4C406.7 349.3 407.8 350.1 408.9 351C410 351.9 411.1 352.7 412.2 353.6" fill="none" stroke="#00aa00" stroke-width="1.4" />
<path d="M412.2 353.6C411 353 409.8 352.5 408.6 351.9C407.4 351.2 406.2 350.5 405 349.9C403.8 349.2 402.6 348.4 401.4 347.7C400.2 346.9 399 346.2 397.8 345.4C396.6 344.6 395.4 343.9 394.2 343.1C393 342.3 391.7 341.5 390.5 340.8C389.3 340 388.1 339.2 386.8 338.5C385.6 337.7 384.3 336.9 383.1 336.2C381.9 335.4 380.6 334.7 379.3 334C378.1 333.3 376.8 332.6 375.5 331.9C374.3 331.2 373 330.6 371.7 330C370.4 329.3 369.1 328.7 367.8 328.2C366.6 327.6 365.2 327.1 363.9 326.5C362.6 326 361.3 325.6 360 325.1C358.6 324.6 357.3 324.2 356 323.8C354.6 323.4 353.3 323 351.9 322.6C350.6 322.2 349.2 321.9 347.9 321.6C346.5 321.2 345.1 320.9 343.8 320.6C342.4 320.3 341 320.1 339.6 319.8C338.3 319.5 336.9 319.3 335.5 319.1C334.1 318.8 332.7 318.6 331.3 318.4C329.9 318.2 328.5 318 327.1 317.8C325.7 317.6 324.2 317.4 322.8 317.3C321.4 317.1 320 316.9 318.6 316.8C317.2 316.6 315.7 316.5 314.3 316.3C312.9 316.1 311.4 316 310 315.8C308.6 315.7 307.1 315.5 305.7 315.4" fill="none" stroke="#00aa00" stroke-width="1.4" />
<path d="M305.7 389.4C309.8 389.7 313.9 390 318 390.4C321.7 390.8 325.4 391.1 329.1 391.6C334 392.3 338.8 393.3 343.6 394.5C348.5 395.7 353.4 397.2 358.2 398.9C360.5 399.7 362.8 400.4 365 401.4C366.2 401.9 367.4 402.5 368.6 403.1" fill="none" stroke="#00aa00" stroke-width="1.4" />
<path d="M368.6 403.1C367.4 402.9 366.2 402.8 365 402.6C362.7 402.2 360.5 401.6 358.2 401.1C353.3 400.1 348.5 399.1 343.6 398.2C338.8 397.4 334 396.6 329.1 396C321.3 395.1 313.5 394.9 305.7 394.4" fill="none" stroke="#00aa00" stroke-width="1.4" />
<path d="M348 423C347.3 422.9 346.5 422.8 345.8 422.8C345.1 422.7 344.3 422.6 343.6 422.5C343.1 422.4 342.5 422.4 342 422.3C341.5 422.3 340.9 422.2 340.4 422.2C339.8 422.1 339.3 422.1 338.8 422C338.2 422 337.7 421.9 337.2 421.9C336.6 421.8 336.1 421.7 335.5 421.7C335 421.7 334.5 421.6 333.9 421.6C333.4 421.5 332.9 421.5 332.3 421.4C331.8 421.4 331.2 421.3 330.7 421.3C330.2 421.3 329.6 421.2 329.1 421.2C328.6 421.2 328.1 421.1 327.5 421.1C327 421.1 326.5 421.1 326 421C325.5 421 324.9 421 324.4 421C323.9 420.9 323.4 420.9 322.9 420.9C322.3 420.9 321.8 420.9 321.3 420.8C320.8 420.8 320.3 420.8 319.7 420.8C319.2 420.8 318.7 420.8 318.2 420.7C317.7 420.7 317.1 420.7 316.6 420.7C316.1 420.7 315.6 420.7 315.1 420.7C314.5 420.7 314 420.6 313.5 420.6C313 420.6 312.5 420.6 311.9 420.6C311.4 420.6 310.9 420.6 310.4 420.6C309.9 420.5 309.3 420.5 308.8 420.5C308.3 420.5 307.8 420.5 307.3 420.5C306.7 420.4 306.2 420.4 305.7 420.4" fill="none" stroke="#00aa00" stroke-width="1.9" />
<path d="M339.3 432.7C338.7 432.7 338.2 432.6 337.6 432.6C337 432.6 336.5 432.6 335.9 432.6C335.3 432.5 334.8 432.5 334.2 432.5C333.6 432.5 333.1 432.5 332.5 432.5C331.9 432.5 331.4 432.5 330.8 432.4C330.2 432.4 329.7 432.4 329.1 432.4C328.6 432.4 328.1 432.4 327.5 432.4C327 432.4 326.5 432.3 326 432.3C325.5 432.3 324.9 432.3 324.4 432.3C323.9 432.3 323.4 432.3 322.9 432.3C322.3 432.3 321.8 432.3 321.3 432.3C320.8 432.2 320.3 432.2 319.7 432.2C319.2 432.2 318.7 432.2 318.2 432.2C317.7 432.2 317.1 432.2 316.6 432.2C316.1 432.2 315.6 432.2 315.1 432.2C314.5 432.2 314 432.2 313.5 432.2C313 432.2 312.5 432.2 311.9 432.2C311.4 432.2 310.9 432.2 310.4 432.2C309.9 432.1 309.3 432.1 308.8 432.1C308.3 432.1 307.8 432.1 307.3 432.1C306.7 432.1 306.2 432.1 305.7 432.1" fill="none" stroke="#00aa00" stroke-width="1.9" />
<path d="M305.7 308.7C309.8 308.9 313.9 309.1 318 309.4C321.7 309.7 325.3 310.1 329 310.6C332.7 311.1 336.4 311.5 340 312.2C343.4 312.9 346.7 313.8 350 314.6" fill="none" stroke="#0000ff" stroke-width="1.4" />
<path d="M305.7 306.4C309.8 306.8 313.9 307.1 318 307.6C321.7 308.1 325.3 308.7 329 309.3C333.9 310.2 338.8 311 343.6 312.3C348.5 313.6 353.3 315.4 358 317.2C361.4 318.5 364.7 319.9 368 321.3" fill="none" stroke="#0000ff" stroke-width="1.6" />
</g>
<path d="M306.7 489.4v-2.4M306.7 274.7v2.4M306.7 489.4h2.4M543.1 489.4h-2.4M333.1 489.4v-1.2M333.1 274.7v1.2M306.7 461.3h1.2M543.1 461.3h-1.2M348.5 489.4v-1.2M348.5 274.7v1.2M306.7 444.9h1.2M543.1 444.9h-1.2M359.4 489.4v-1.2M359.4 274.7v1.2M306.7 433.2h1.2M543.1 433.2h-1.2M367.9 489.4v-1.2M367.9 274.7v1.2M306.7 424.2h1.2M543.1 424.2h-1.2M374.9 489.4v-1.2M374.9 274.7v1.2M306.7 416.8h1.2M543.1 416.8h-1.2M380.7 489.4v-1.2M380.7 274.7v1.2M306.7 410.5h1.2M543.1 410.5h-1.2M385.8 489.4v-1.2M385.8 274.7v1.2M306.7 405.1h1.2M543.1 405.1h-1.2M390.3 489.4v-1.2M390.3 274.7v1.2M306.7 400.4h1.2M543.1 400.4h-1.2M394.3 489.4v-2.4M394.3 274.7v2.4M306.7 396.1h2.4M543.1 396.1h-2.4M420.7 489.4v-1.2M420.7 274.7v1.2M306.7 368h1.2M543.1 368h-1.2M436.1 489.4v-1.2M436.1 274.7v1.2M306.7 351.6h1.2M543.1 351.6h-1.2M447 489.4v-1.2M447 274.7v1.2M306.7 339.9h1.2M543.1 339.9h-1.2M455.5 489.4v-1.2M455.5 274.7v1.2M306.7 330.9h1.2M543.1 330.9h-1.2M462.4 489.4v-1.2M462.4 274.7v1.2M306.7 323.5h1.2M543.1 323.5h-1.2M468.3 489.4v-1.2M468.3 274.7v1.2M306.7 317.2h1.2M543.1 317.2h-1.2M473.4 489.4v-1.2M473.4 274.7v1.2M306.7 311.8h1.2M543.1 311.8h-1.2M477.9 489.4v-1.2M477.9 274.7v1.2M306.7 307.1h1.2M543.1 307.1h-1.2M481.9 489.4v-2.4M481.9 274.7v2.4M306.7 302.8h2.4M543.1 302.8h-2.4M508.2 489.4v-1.2M508.2 274.7v1.2M306.7 274.7h1.2M543.1 274.7h-1.2M523.7 489.4v-1.2M523.7 274.7v1.2M534.6 489.4v-1.2M534.6 274.7v1.2M543.1 489.4v-1.2M543.1 274.7v1.2" stroke="#262626" stroke-width="0.6" fill="none"/>
<rect x="306.7" y="274.7" width="236.4" height="214.7" fill="none" stroke="#727272" stroke-width="1"/>
<text x="298.4" y="501.2" font-size="8.8" textLength="17.0" lengthAdjust="spacingAndGlyphs">10<tspan dy="-3.6" font-size="6.1">−1</tspan></text>
<text x="285.3" y="491.9" font-size="8.8" textLength="17.0" lengthAdjust="spacingAndGlyphs">10<tspan dy="-3.6" font-size="6.1">−1</tspan></text>
<text x="388.7" y="501.2" font-size="8.8" textLength="11.6" lengthAdjust="spacingAndGlyphs">10<tspan dy="-3.6" font-size="6.1">0</tspan></text>
<text x="290.7" y="398.6" font-size="8.8" textLength="11.6" lengthAdjust="spacingAndGlyphs">10<tspan dy="-3.6" font-size="6.1">0</tspan></text>
<text x="476.3" y="501.2" font-size="8.8" textLength="11.6" lengthAdjust="spacingAndGlyphs">10<tspan dy="-3.6" font-size="6.1">1</tspan></text>
<text x="290.7" y="305.3" font-size="8.8" textLength="11.6" lengthAdjust="spacingAndGlyphs">10<tspan dy="-3.6" font-size="6.1">1</tspan></text>
<text x="424.1" y="271.1" font-size="9.3" text-anchor="middle" textLength="96" lengthAdjust="spacingAndGlyphs" xml:space="preserve">(d) <tspan font-style="italic">ν</tspan><tspan dy="1.6" font-size="6.2">1</tspan><tspan dy="-1.6"> =0.20,  </tspan><tspan font-style="italic">ν</tspan><tspan dy="1.6" font-size="6.2">2</tspan><tspan dy="-1.6"> =0.10</tspan></text>
<text x="424.9" y="513.7" font-size="10.8" text-anchor="middle" textLength="73" lengthAdjust="spacingAndGlyphs"><tspan font-style="italic">ζ</tspan><tspan dy="1.8" font-size="7.2">1</tspan><tspan dy="-1.8"> = </tspan><tspan font-style="italic">c</tspan><tspan dy="1.8" font-size="7.2">1</tspan><tspan dy="-1.8">/2</tspan><tspan font-style="italic">m</tspan><tspan dy="1.8" font-size="7.2" font-style="italic">r</tspan><tspan dy="-1.8" font-style="italic">ω</tspan><tspan dy="1.8" font-size="7.2" font-style="italic">r</tspan></text>
<text transform="translate(286.9 383.2) rotate(-90)" font-size="10.8" text-anchor="middle" textLength="74" lengthAdjust="spacingAndGlyphs"><tspan font-style="italic">ζ</tspan><tspan dy="1.8" font-size="7.2">2</tspan><tspan dy="-1.8"> = </tspan><tspan font-style="italic">c</tspan><tspan dy="1.8" font-size="7.2">2</tspan><tspan dy="-1.8">/2</tspan><tspan font-style="italic">m</tspan><tspan dy="1.8" font-size="7.2" font-style="italic">r</tspan><tspan dy="-1.8" font-style="italic">ω</tspan><tspan dy="1.8" font-size="7.2" font-style="italic">r</tspan></text>
<rect x="135.8" y="22.7" width="127.8" height="72.0" fill="#fff" stroke="#262626" stroke-width="0.5"/>
<rect x="139.9" y="26.4" width="29" height="5.4" fill="#cdcdcd"/>
<text x="172.2" y="31.7" font-size="8.1" textLength="78.5" lengthAdjust="spacingAndGlyphs">One overdamped mode</text>
<rect x="139.9" y="36.4" width="29" height="5.4" fill="#999999"/>
<text x="172.2" y="41.7" font-size="8.1" textLength="83" lengthAdjust="spacingAndGlyphs">Two overdamped modes</text>
<rect x="139.9" y="46.4" width="29" height="5.4" fill="#7f7f7f"/>
<text x="172.2" y="51.7" font-size="8.1" textLength="87.8" lengthAdjust="spacingAndGlyphs">Three overdamped modes</text>
<line x1="139.9" x2="168.9" y1="59.1" y2="59.1" stroke="#ff00ff" stroke-width="1.6"/>
<text x="172.2" y="61.7" font-size="8.1" textLength="83.5" lengthAdjust="spacingAndGlyphs">Critical curves 1st mode</text>
<line x1="139.9" x2="168.9" y1="69.1" y2="69.1" stroke="#ff0000" stroke-width="1.6"/>
<text x="172.2" y="71.7" font-size="8.1" textLength="85" lengthAdjust="spacingAndGlyphs">Critical curves 2nd mode</text>
<line x1="139.9" x2="168.9" y1="79.1" y2="79.1" stroke="#00aa00" stroke-width="1.6"/>
<text x="172.2" y="81.7" font-size="8.1" textLength="84" lengthAdjust="spacingAndGlyphs">Critical curves 3rd mode</text>
<line x1="139.9" x2="168.9" y1="89.1" y2="89.1" stroke="#0000ff" stroke-width="1.6"/>
<text x="172.2" y="91.7" font-size="8.1" textLength="84" lengthAdjust="spacingAndGlyphs">Critical curves 4th mode</text>
</svg></body></html>
